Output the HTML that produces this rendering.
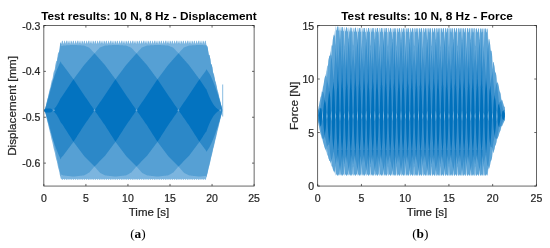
<!DOCTYPE html>
<html><head><meta charset="utf-8"><title>Test results</title>
<style>
html,body{margin:0;padding:0;background:#fff;}
svg{display:block;}
svg text{font-family:"Liberation Sans",Arial,Helvetica,sans-serif;}
svg text.t{stroke:#262626;stroke-width:0.22px;}
svg text.cap{font-family:"Liberation Serif","DejaVu Serif",serif;}
</style></head>
<body>
<svg width="550" height="248" viewBox="0 0 550 248">
<rect width="550" height="248" fill="#fff"/>
<g id="plot-left">
<path fill="#7cb5df" d="M44.8,110.3 45.3,108.15 45.8,106.2 46.3,104.02 46.8,101.72 47.3,99.57 47.8,97.88 48.3,95.9 48.8,93.14 49.3,90.99 49.8,89.05 50.3,87.76 50.8,84.8 51.3,82.41 51.8,80.27 52.3,79.44 52.8,77.17 53.3,73.83 53.8,71.69 54.3,70.54 54.8,69.29 55.3,65.25 55.8,63.11 56.3,60.96 56.8,61.08 57.3,57.99 57.8,54.53 58.3,52.38 58.8,52.33 59.3,50.65 59.8,45.95 60.3,43.8 60.8,42.31 61.3,43.9 61.8,41.46 62.3,40.8 62.8,40.8 63.3,43.65 63.8,43.22 64.3,40.8 64.8,40.8 65.3,42.5 65.8,43.86 66.3,40.8 66.8,40.8 67.3,40.8 67.8,43.86 68.3,42.5 68.8,40.8 69.3,40.8 69.8,43.22 70.3,43.65 70.8,40.8 71.3,40.8 71.8,41.46 72.3,43.9 72.8,41.46 73.3,40.8 73.8,40.8 74.3,43.65 74.8,43.22 75.3,40.8 75.8,40.8 76.3,42.5 76.8,43.86 77.3,40.8 77.8,40.8 78.3,40.8 78.8,43.86 79.3,42.5 79.8,40.8 80.3,40.8 80.8,43.22 81.3,43.65 81.8,40.8 82.3,40.8 82.8,41.46 83.3,43.9 83.8,41.46 84.3,40.8 84.8,40.8 85.3,43.65 85.8,43.22 86.3,40.8 86.8,40.8 87.3,42.5 87.8,43.86 88.3,40.8 88.8,40.8 89.3,40.8 89.8,43.86 90.3,42.5 90.8,40.8 91.3,40.8 91.8,43.22 92.3,43.65 92.8,40.8 93.3,40.8 93.8,41.46 94.3,43.9 94.8,41.46 95.3,40.8 95.8,40.8 96.3,43.65 96.8,43.22 97.3,40.8 97.8,40.8 98.3,42.5 98.8,43.86 99.3,40.8 99.8,40.8 100.3,40.8 100.8,43.86 101.3,42.5 101.8,40.8 102.3,40.8 102.8,43.22 103.3,43.65 103.8,40.8 104.3,40.8 104.8,41.46 105.3,43.9 105.8,41.46 106.3,40.8 106.8,40.8 107.3,43.65 107.8,43.22 108.3,40.8 108.8,40.8 109.3,42.5 109.8,43.86 110.3,40.8 110.8,40.8 111.3,40.8 111.8,43.86 112.3,42.5 112.8,40.8 113.3,40.8 113.8,43.22 114.3,43.65 114.8,40.8 115.3,40.8 115.8,41.46 116.3,43.9 116.8,41.46 117.3,40.8 117.8,40.8 118.3,43.65 118.8,43.22 119.3,40.8 119.8,40.8 120.3,42.5 120.8,43.86 121.3,40.8 121.8,40.8 122.3,40.8 122.8,43.86 123.3,42.5 123.8,40.8 124.3,40.8 124.8,43.22 125.3,43.65 125.8,40.8 126.3,40.8 126.8,41.46 127.3,43.9 127.8,41.46 128.3,40.8 128.8,40.8 129.3,43.65 129.8,43.22 130.3,40.8 130.8,40.8 131.3,42.5 131.8,43.86 132.3,40.8 132.8,40.8 133.3,40.8 133.8,43.86 134.3,42.5 134.8,40.8 135.3,40.8 135.8,43.22 136.3,43.65 136.8,40.8 137.3,40.8 137.8,41.46 138.3,43.9 138.8,41.46 139.3,40.8 139.8,40.8 140.3,43.65 140.8,43.22 141.3,40.8 141.8,40.8 142.3,42.5 142.8,43.86 143.3,40.8 143.8,40.8 144.3,40.8 144.8,43.86 145.3,42.5 145.8,40.8 146.3,40.8 146.8,43.22 147.3,43.65 147.8,40.8 148.3,40.8 148.8,41.46 149.3,43.9 149.8,41.46 150.3,40.8 150.8,40.8 151.3,43.65 151.8,43.22 152.3,40.8 152.8,40.8 153.3,42.5 153.8,43.86 154.3,40.8 154.8,40.8 155.3,40.8 155.8,43.86 156.3,42.5 156.8,40.8 157.3,40.8 157.8,43.22 158.3,43.65 158.8,40.8 159.3,40.8 159.8,41.46 160.3,43.9 160.8,41.46 161.3,40.8 161.8,40.8 162.3,43.65 162.8,43.22 163.3,40.8 163.8,40.8 164.3,42.5 164.8,43.86 165.3,40.8 165.8,40.8 166.3,40.8 166.8,43.86 167.3,42.5 167.8,40.8 168.3,40.8 168.8,43.22 169.3,43.65 169.8,40.8 170.3,40.8 170.8,41.46 171.3,43.9 171.8,41.46 172.3,40.8 172.8,40.8 173.3,43.65 173.8,43.22 174.3,40.8 174.8,40.8 175.3,42.5 175.8,43.86 176.3,40.8 176.8,40.8 177.3,40.8 177.8,43.86 178.3,42.5 178.8,40.8 179.3,40.8 179.8,43.22 180.3,43.65 180.8,40.8 181.3,40.8 181.8,41.46 182.3,43.9 182.8,41.46 183.3,40.8 183.8,40.8 184.3,43.65 184.8,43.22 185.3,40.8 185.8,40.8 186.3,42.5 186.8,43.86 187.3,40.8 187.8,40.8 188.3,40.8 188.8,43.86 189.3,42.5 189.8,40.8 190.3,40.8 190.8,43.22 191.3,43.65 191.8,40.8 192.3,40.8 192.8,41.46 193.3,43.9 193.8,41.46 194.3,40.8 194.8,40.8 195.3,43.65 195.8,43.22 196.3,40.8 196.8,40.8 197.3,42.5 197.8,43.86 198.3,40.8 198.8,40.8 199.3,40.8 199.8,43.86 200.3,42.5 200.8,40.8 201.3,40.8 201.8,43.22 202.3,43.65 202.8,40.8 203.3,40.8 203.8,41.46 204.3,43.9 204.8,41.46 205.3,40.8 205.8,40.8 206.3,44.86 206.8,46.47 207.3,46.28 207.8,48.38 208.3,51.95 208.8,55.13 209.3,54.7 209.8,56.81 210.3,58.91 210.8,63.19 211.3,64.28 211.8,65.23 212.3,67.34 212.8,70.86 213.3,73.14 213.8,73.65 214.3,75.76 214.8,78.17 215.3,81.33 215.8,82.35 216.3,84.18 216.8,86.29 217.3,89.3 217.8,91.19 218.3,92.61 218.8,94.72 219.3,97.15 219.8,99.43 220.3,101.03 220.8,103.14 221.3,105.25 221.8,107.48 222.3,109.48 222.3,111.14 221.8,113.21 221.3,115.35 220.8,117.46 220.3,119.57 219.8,121.51 219.3,123.67 218.8,125.88 218.3,127.99 217.8,129.87 217.3,131.91 216.8,134.31 216.3,136.42 215.8,138.44 215.3,140.19 214.8,142.63 214.3,144.84 213.8,146.95 213.3,148.54 212.8,150.7 212.3,153.26 211.8,155.37 211.3,157.1 210.8,158.88 210.3,161.69 209.8,163.79 209.3,165.9 208.8,167.19 208.3,169.64 207.8,172.22 207.3,174.32 206.8,175.69 206.3,177.63 205.8,179.8 205.3,179.8 204.8,179.59 204.3,178.8 203.8,179.59 203.3,179.8 202.8,179.8 202.3,178.88 201.8,179.02 201.3,179.8 200.8,179.8 200.3,179.25 199.8,178.81 199.3,179.8 198.8,179.8 198.3,179.8 197.8,178.81 197.3,179.25 196.8,179.8 196.3,179.8 195.8,179.02 195.3,178.88 194.8,179.8 194.3,179.8 193.8,179.59 193.3,178.8 192.8,179.59 192.3,179.8 191.8,179.8 191.3,178.88 190.8,179.02 190.3,179.8 189.8,179.8 189.3,179.25 188.8,178.81 188.3,179.8 187.8,179.8 187.3,179.8 186.8,178.81 186.3,179.25 185.8,179.8 185.3,179.8 184.8,179.02 184.3,178.88 183.8,179.8 183.3,179.8 182.8,179.59 182.3,178.8 181.8,179.59 181.3,179.8 180.8,179.8 180.3,178.88 179.8,179.02 179.3,179.8 178.8,179.8 178.3,179.25 177.8,178.81 177.3,179.8 176.8,179.8 176.3,179.8 175.8,178.81 175.3,179.25 174.8,179.8 174.3,179.8 173.8,179.02 173.3,178.88 172.8,179.8 172.3,179.8 171.8,179.59 171.3,178.8 170.8,179.59 170.3,179.8 169.8,179.8 169.3,178.88 168.8,179.02 168.3,179.8 167.8,179.8 167.3,179.25 166.8,178.81 166.3,179.8 165.8,179.8 165.3,179.8 164.8,178.81 164.3,179.25 163.8,179.8 163.3,179.8 162.8,179.02 162.3,178.88 161.8,179.8 161.3,179.8 160.8,179.59 160.3,178.8 159.8,179.59 159.3,179.8 158.8,179.8 158.3,178.88 157.8,179.02 157.3,179.8 156.8,179.8 156.3,179.25 155.8,178.81 155.3,179.8 154.8,179.8 154.3,179.8 153.8,178.81 153.3,179.25 152.8,179.8 152.3,179.8 151.8,179.02 151.3,178.88 150.8,179.8 150.3,179.8 149.8,179.59 149.3,178.8 148.8,179.59 148.3,179.8 147.8,179.8 147.3,178.88 146.8,179.02 146.3,179.8 145.8,179.8 145.3,179.25 144.8,178.81 144.3,179.8 143.8,179.8 143.3,179.8 142.8,178.81 142.3,179.25 141.8,179.8 141.3,179.8 140.8,179.02 140.3,178.88 139.8,179.8 139.3,179.8 138.8,179.59 138.3,178.8 137.8,179.59 137.3,179.8 136.8,179.8 136.3,178.88 135.8,179.02 135.3,179.8 134.8,179.8 134.3,179.25 133.8,178.81 133.3,179.8 132.8,179.8 132.3,179.8 131.8,178.81 131.3,179.25 130.8,179.8 130.3,179.8 129.8,179.02 129.3,178.88 128.8,179.8 128.3,179.8 127.8,179.59 127.3,178.8 126.8,179.59 126.3,179.8 125.8,179.8 125.3,178.88 124.8,179.02 124.3,179.8 123.8,179.8 123.3,179.25 122.8,178.81 122.3,179.8 121.8,179.8 121.3,179.8 120.8,178.81 120.3,179.25 119.8,179.8 119.3,179.8 118.8,179.02 118.3,178.88 117.8,179.8 117.3,179.8 116.8,179.59 116.3,178.8 115.8,179.59 115.3,179.8 114.8,179.8 114.3,178.88 113.8,179.02 113.3,179.8 112.8,179.8 112.3,179.25 111.8,178.81 111.3,179.8 110.8,179.8 110.3,179.8 109.8,178.81 109.3,179.25 108.8,179.8 108.3,179.8 107.8,179.02 107.3,178.88 106.8,179.8 106.3,179.8 105.8,179.59 105.3,178.8 104.8,179.59 104.3,179.8 103.8,179.8 103.3,178.88 102.8,179.02 102.3,179.8 101.8,179.8 101.3,179.25 100.8,178.81 100.3,179.8 99.8,179.8 99.3,179.8 98.8,178.81 98.3,179.25 97.8,179.8 97.3,179.8 96.8,179.02 96.3,178.88 95.8,179.8 95.3,179.8 94.8,179.59 94.3,178.8 93.8,179.59 93.3,179.8 92.8,179.8 92.3,178.88 91.8,179.02 91.3,179.8 90.8,179.8 90.3,179.25 89.8,178.81 89.3,179.8 88.8,179.8 88.3,179.8 87.8,178.81 87.3,179.25 86.8,179.8 86.3,179.8 85.8,179.02 85.3,178.88 84.8,179.8 84.3,179.8 83.8,179.59 83.3,178.8 82.8,179.59 82.3,179.8 81.8,179.8 81.3,178.88 80.8,179.02 80.3,179.8 79.8,179.8 79.3,179.25 78.8,178.81 78.3,179.8 77.8,179.8 77.3,179.8 76.8,178.81 76.3,179.25 75.8,179.8 75.3,179.8 74.8,179.02 74.3,178.88 73.8,179.8 73.3,179.8 72.8,179.59 72.3,178.8 71.8,179.59 71.3,179.8 70.8,179.8 70.3,178.88 69.8,179.02 69.3,179.8 68.8,179.8 68.3,179.25 67.8,178.81 67.3,179.8 66.8,179.8 66.3,179.8 65.8,178.81 65.3,179.25 64.8,179.8 64.3,179.8 63.8,179.02 63.3,178.88 62.8,179.8 62.3,179.8 61.8,179.59 61.3,178.8 60.8,178.73 60.3,176.8 59.8,174.65 59.3,171.68 58.8,169.69 58.3,168.22 57.8,166.07 57.3,163.5 56.8,161.05 56.3,159.64 55.8,157.49 55.3,155.35 54.8,152.59 54.3,150.73 53.8,148.91 53.3,146.77 52.8,144.24 52.3,142.05 51.8,140.33 51.3,138.19 50.8,135.96 50.3,133.56 49.8,131.69 49.3,129.61 48.8,127.46 48.3,125.12 47.8,123.03 47.3,121.03 46.8,118.88 46.3,116.68 45.8,114.53 45.3,112.45 44.8,110.3Z"/>
<path fill="#56a0d4" d="M44.8,110.3 45.3,108.26 45.8,106.23 46.3,104.22 46.8,102.21 47.3,100.23 47.8,98.33 48.3,96.45 48.8,94.61 49.3,92.81 49.8,91.04 50.3,89.31 50.8,87.61 51.3,85.94 51.8,84.31 52.3,82.72 52.8,80.83 53.3,78.69 53.8,76.51 54.3,74.3 54.8,72.06 55.3,69.78 55.8,67.47 56.3,65.12 56.8,62.74 57.3,60.32 57.8,57.87 58.3,55.67 58.8,53.47 59.3,51.27 59.8,49.04 60.3,43.8 60.8,42.31 61.3,46.21 61.8,46.02 62.3,45.83 62.8,45.64 63.3,45.54 63.8,45.51 64.3,45.48 64.8,45.45 65.3,45.41 65.8,45.38 66.3,45.35 66.8,45.32 67.3,45.29 67.8,45.26 68.3,45.22 68.8,45.19 69.3,45.16 69.8,45.13 70.3,45.1 70.8,45.07 71.3,45.04 71.8,45 72.3,44.97 72.8,44.94 73.3,44.91 73.8,44.91 74.3,44.95 74.8,44.98 75.3,45.01 75.8,45.04 76.3,45.07 76.8,45.1 77.3,45.14 77.8,45.17 78.3,45.2 78.8,45.23 79.3,45.26 79.8,45.29 80.3,45.33 80.8,45.36 81.3,45.39 81.8,45.42 82.3,45.45 82.8,45.48 83.3,45.52 83.8,45.55 84.3,45.68 84.8,45.87 85.3,46.06 85.8,46.25 86.3,46.44 86.8,46.64 87.3,46.83 87.8,47.02 88.3,47.21 88.8,47.41 89.3,47.68 89.8,48.23 90.3,48.77 90.8,49.31 91.3,49.85 91.8,50.4 92.3,50.94 92.8,51.48 93.3,52.03 93.8,52.57 94.3,53.11 94.8,53 95.3,52.46 95.8,51.92 96.3,51.37 96.8,50.83 97.3,50.29 97.8,49.75 98.3,49.2 98.8,48.66 99.3,48.12 99.8,47.57 100.3,47.37 100.8,47.18 101.3,46.98 101.8,46.79 102.3,46.6 102.8,46.41 103.3,46.21 103.8,46.02 104.3,45.83 104.8,45.64 105.3,45.54 105.8,45.51 106.3,45.48 106.8,45.45 107.3,45.41 107.8,45.38 108.3,45.35 108.8,45.32 109.3,45.29 109.8,45.26 110.3,45.22 110.8,45.19 111.3,45.16 111.8,45.13 112.3,45.1 112.8,45.07 113.3,45.04 113.8,45 114.3,44.97 114.8,44.94 115.3,44.91 115.8,44.91 116.3,44.95 116.8,44.98 117.3,45.01 117.8,45.04 118.3,45.07 118.8,45.1 119.3,45.14 119.8,45.17 120.3,45.2 120.8,45.23 121.3,45.26 121.8,45.29 122.3,45.33 122.8,45.36 123.3,45.39 123.8,45.42 124.3,45.45 124.8,45.48 125.3,45.52 125.8,45.55 126.3,45.68 126.8,45.87 127.3,46.06 127.8,46.25 128.3,46.44 128.8,46.64 129.3,46.83 129.8,47.02 130.3,47.21 130.8,47.41 131.3,47.68 131.8,48.23 132.3,48.77 132.8,49.31 133.3,49.85 133.8,50.4 134.3,50.94 134.8,51.48 135.3,52.03 135.8,52.57 136.3,53.11 136.8,53 137.3,52.46 137.8,51.92 138.3,51.37 138.8,50.83 139.3,50.29 139.8,49.75 140.3,49.2 140.8,48.66 141.3,48.12 141.8,47.57 142.3,47.37 142.8,47.18 143.3,46.98 143.8,46.79 144.3,46.6 144.8,46.41 145.3,46.21 145.8,46.02 146.3,45.83 146.8,45.64 147.3,45.54 147.8,45.51 148.3,45.48 148.8,45.45 149.3,45.41 149.8,45.38 150.3,45.35 150.8,45.32 151.3,45.29 151.8,45.26 152.3,45.22 152.8,45.19 153.3,45.16 153.8,45.13 154.3,45.1 154.8,45.07 155.3,45.04 155.8,45 156.3,44.97 156.8,44.94 157.3,44.91 157.8,44.91 158.3,44.95 158.8,44.98 159.3,45.01 159.8,45.04 160.3,45.07 160.8,45.1 161.3,45.14 161.8,45.17 162.3,45.2 162.8,45.23 163.3,45.26 163.8,45.29 164.3,45.33 164.8,45.36 165.3,45.39 165.8,45.42 166.3,45.45 166.8,45.48 167.3,45.52 167.8,45.55 168.3,45.68 168.8,45.87 169.3,46.06 169.8,46.25 170.3,46.44 170.8,46.64 171.3,46.83 171.8,47.02 172.3,47.21 172.8,47.41 173.3,47.68 173.8,48.23 174.3,48.77 174.8,49.31 175.3,49.85 175.8,50.4 176.3,50.94 176.8,51.48 177.3,52.03 177.8,52.57 178.3,53.11 178.8,53 179.3,52.46 179.8,51.92 180.3,51.37 180.8,50.83 181.3,50.29 181.8,49.75 182.3,49.2 182.8,48.66 183.3,48.12 183.8,47.57 184.3,47.37 184.8,47.18 185.3,46.98 185.8,46.79 186.3,46.6 186.8,46.41 187.3,46.21 187.8,46.02 188.3,45.83 188.8,45.64 189.3,45.54 189.8,45.51 190.3,45.48 190.8,45.45 191.3,45.41 191.8,45.38 192.3,45.35 192.8,45.32 193.3,45.29 193.8,45.26 194.3,45.22 194.8,45.19 195.3,45.16 195.8,45.13 196.3,45.1 196.8,45.07 197.3,45.04 197.8,45 198.3,44.97 198.8,44.94 199.3,44.91 199.8,44.91 200.3,44.95 200.8,44.98 201.3,45.01 201.8,45.04 202.3,45.07 202.8,45.1 203.3,45.14 203.8,45.17 204.3,45.2 204.8,45.23 205.3,45.26 205.8,45.29 206.3,44.86 206.8,46.47 207.3,46.28 207.8,48.38 208.3,51.95 208.8,55.13 209.3,54.7 209.8,56.81 210.3,58.91 210.8,63.19 211.3,64.28 211.8,65.23 212.3,67.34 212.8,71.31 213.3,73.44 213.8,75.54 214.3,77.64 214.8,79.73 215.3,81.84 215.8,84.04 216.3,86.22 216.8,88.35 217.3,90.46 217.8,92.53 218.3,94.56 218.8,96.56 219.3,98.53 219.8,100.46 220.3,102.36 220.8,104.15 221.3,105.92 221.8,107.72 222.3,109.56 222.3,111.04 221.8,112.85 221.3,114.63 220.8,116.37 220.3,118.13 219.8,120.01 219.3,121.93 218.8,123.88 218.3,125.87 217.8,127.89 217.3,129.96 216.8,132.06 216.3,134.19 215.8,136.36 215.3,138.57 214.8,140.7 214.3,142.81 213.8,144.94 213.3,147.08 212.8,149.24 212.3,151.42 211.8,153.62 211.3,155.83 210.8,158.05 210.3,160.3 209.8,162.49 209.3,164.6 208.8,166.71 208.3,168.82 207.8,170.93 207.3,173.05 206.8,175.17 206.3,177.3 205.8,175.87 205.3,175.93 204.8,175.99 204.3,176.04 203.8,176.1 203.3,176.16 202.8,176.22 202.3,176.28 201.8,176.34 201.3,176.4 200.8,176.46 200.3,176.51 199.8,176.57 199.3,176.58 198.8,176.53 198.3,176.47 197.8,176.41 197.3,176.35 196.8,176.29 196.3,176.23 195.8,176.17 195.3,176.11 194.8,176.06 194.3,176 193.8,175.94 193.3,175.88 192.8,175.82 192.3,175.76 191.8,175.7 191.3,175.65 190.8,175.59 190.3,175.53 189.8,175.47 189.3,175.41 188.8,175.27 188.3,175 187.8,174.74 187.3,174.48 186.8,174.21 186.3,173.95 185.8,173.68 185.3,173.42 184.8,173.15 184.3,172.89 183.8,172.61 183.3,172.03 182.8,171.45 182.3,170.87 181.8,170.29 181.3,169.71 180.8,169.14 180.3,168.56 179.8,167.98 179.3,167.4 178.8,166.82 178.3,166.7 177.8,167.28 177.3,167.86 176.8,168.44 176.3,169.02 175.8,169.6 175.3,170.18 174.8,170.76 174.3,171.34 173.8,171.92 173.3,172.5 172.8,172.84 172.3,173.1 171.8,173.36 171.3,173.63 170.8,173.89 170.3,174.16 169.8,174.42 169.3,174.69 168.8,174.95 168.3,175.22 167.8,175.4 167.3,175.46 166.8,175.52 166.3,175.57 165.8,175.63 165.3,175.69 164.8,175.75 164.3,175.81 163.8,175.87 163.3,175.93 162.8,175.99 162.3,176.04 161.8,176.1 161.3,176.16 160.8,176.22 160.3,176.28 159.8,176.34 159.3,176.4 158.8,176.46 158.3,176.51 157.8,176.57 157.3,176.58 156.8,176.53 156.3,176.47 155.8,176.41 155.3,176.35 154.8,176.29 154.3,176.23 153.8,176.17 153.3,176.11 152.8,176.06 152.3,176 151.8,175.94 151.3,175.88 150.8,175.82 150.3,175.76 149.8,175.7 149.3,175.65 148.8,175.59 148.3,175.53 147.8,175.47 147.3,175.41 146.8,175.27 146.3,175 145.8,174.74 145.3,174.48 144.8,174.21 144.3,173.95 143.8,173.68 143.3,173.42 142.8,173.15 142.3,172.89 141.8,172.61 141.3,172.03 140.8,171.45 140.3,170.87 139.8,170.29 139.3,169.71 138.8,169.14 138.3,168.56 137.8,167.98 137.3,167.4 136.8,166.82 136.3,166.7 135.8,167.28 135.3,167.86 134.8,168.44 134.3,169.02 133.8,169.6 133.3,170.18 132.8,170.76 132.3,171.34 131.8,171.92 131.3,172.5 130.8,172.84 130.3,173.1 129.8,173.36 129.3,173.63 128.8,173.89 128.3,174.16 127.8,174.42 127.3,174.69 126.8,174.95 126.3,175.22 125.8,175.4 125.3,175.46 124.8,175.52 124.3,175.57 123.8,175.63 123.3,175.69 122.8,175.75 122.3,175.81 121.8,175.87 121.3,175.93 120.8,175.99 120.3,176.04 119.8,176.1 119.3,176.16 118.8,176.22 118.3,176.28 117.8,176.34 117.3,176.4 116.8,176.46 116.3,176.51 115.8,176.57 115.3,176.58 114.8,176.53 114.3,176.47 113.8,176.41 113.3,176.35 112.8,176.29 112.3,176.23 111.8,176.17 111.3,176.11 110.8,176.06 110.3,176 109.8,175.94 109.3,175.88 108.8,175.82 108.3,175.76 107.8,175.7 107.3,175.65 106.8,175.59 106.3,175.53 105.8,175.47 105.3,175.41 104.8,175.27 104.3,175 103.8,174.74 103.3,174.48 102.8,174.21 102.3,173.95 101.8,173.68 101.3,173.42 100.8,173.15 100.3,172.89 99.8,172.61 99.3,172.03 98.8,171.45 98.3,170.87 97.8,170.29 97.3,169.71 96.8,169.14 96.3,168.56 95.8,167.98 95.3,167.4 94.8,166.82 94.3,166.7 93.8,167.28 93.3,167.86 92.8,168.44 92.3,169.02 91.8,169.6 91.3,170.18 90.8,170.76 90.3,171.34 89.8,171.92 89.3,172.5 88.8,172.84 88.3,173.1 87.8,173.36 87.3,173.63 86.8,173.89 86.3,174.16 85.8,174.42 85.3,174.69 84.8,174.95 84.3,175.22 83.8,175.4 83.3,175.46 82.8,175.52 82.3,175.57 81.8,175.63 81.3,175.69 80.8,175.75 80.3,175.81 79.8,175.87 79.3,175.93 78.8,175.99 78.3,176.04 77.8,176.1 77.3,176.16 76.8,176.22 76.3,176.28 75.8,176.34 75.3,176.4 74.8,176.46 74.3,176.51 73.8,176.57 73.3,176.58 72.8,176.53 72.3,176.47 71.8,176.41 71.3,176.35 70.8,176.29 70.3,176.23 69.8,176.17 69.3,176.11 68.8,176.06 68.3,176 67.8,175.94 67.3,175.88 66.8,175.82 66.3,175.76 65.8,175.7 65.3,175.65 64.8,175.59 64.3,175.53 63.8,175.47 63.3,175.41 62.8,175.27 62.3,175 61.8,174.74 61.3,174.48 60.8,176.05 60.3,173.73 59.8,171.43 59.3,169.15 58.8,166.88 58.3,164.63 57.8,162.39 57.3,159.92 56.8,157.49 56.3,155.09 55.8,152.73 55.3,150.41 54.8,148.13 54.3,145.89 53.8,143.68 53.3,141.51 52.8,139.37 52.3,137.5 51.8,135.95 51.3,134.36 50.8,132.73 50.3,131.07 49.8,129.36 49.3,127.63 48.8,125.85 48.3,124.04 47.8,122.19 47.3,120.3 46.8,118.34 46.3,116.36 45.8,114.36 45.3,112.34 44.8,110.3Z"/>
<path fill="#2c88c8" d="M44.8,110.3 45.3,108.73 45.8,107.12 46.3,105.48 46.8,103.8 47.3,102.08 47.8,100.33 48.3,98.54 48.8,96.72 49.3,94.86 49.8,92.96 50.3,91.03 50.8,89.06 51.3,87.05 51.8,85.01 52.3,82.93 52.8,81.17 53.3,79.65 53.8,78.18 54.3,76.74 54.8,75.33 55.3,73.96 55.8,72.63 56.3,71.34 56.8,70.08 57.3,68.85 57.8,67.66 58.3,66.51 58.8,65.4 59.3,64.32 59.8,63.28 60.3,62.27 60.8,61.3 61.3,63.23 61.8,63.8 62.3,64.36 62.8,64.92 63.3,65.55 63.8,66.23 64.3,66.9 64.8,67.57 65.3,68.25 65.8,68.92 66.3,69.59 66.8,70.27 67.3,70.94 67.8,71.61 68.3,72.29 68.8,72.96 69.3,73.63 69.8,74.31 70.3,74.98 70.8,75.65 71.3,76.33 71.8,77 72.3,77.67 72.8,78.35 73.3,79.02 73.8,78.89 74.3,78.21 74.8,77.54 75.3,76.87 75.8,76.19 76.3,75.52 76.8,74.85 77.3,74.17 77.8,73.5 78.3,72.83 78.8,72.15 79.3,71.48 79.8,70.81 80.3,70.13 80.8,69.46 81.3,68.78 81.8,68.11 82.3,67.44 82.8,66.76 83.3,66.09 83.8,65.42 84.3,64.81 84.8,64.25 85.3,63.68 85.8,63.12 86.3,62.56 86.8,62 87.3,61.43 87.8,60.87 88.3,60.31 88.8,59.74 89.3,59.18 89.8,58.62 90.3,58.06 90.8,57.49 91.3,56.93 91.8,56.37 92.3,55.81 92.8,55.24 93.3,54.68 93.8,54.12 94.3,53.55 94.8,53.67 95.3,54.23 95.8,54.79 96.3,55.35 96.8,55.92 97.3,56.48 97.8,57.04 98.3,57.61 98.8,58.17 99.3,58.73 99.8,59.29 100.3,59.86 100.8,60.42 101.3,60.98 101.8,61.55 102.3,62.11 102.8,62.67 103.3,63.23 103.8,63.8 104.3,64.36 104.8,64.92 105.3,65.55 105.8,66.23 106.3,66.9 106.8,67.57 107.3,68.25 107.8,68.92 108.3,69.59 108.8,70.27 109.3,70.94 109.8,71.61 110.3,72.29 110.8,72.96 111.3,73.63 111.8,74.31 112.3,74.98 112.8,75.65 113.3,76.33 113.8,77 114.3,77.67 114.8,78.35 115.3,79.02 115.8,78.89 116.3,78.21 116.8,77.54 117.3,76.87 117.8,76.19 118.3,75.52 118.8,74.85 119.3,74.17 119.8,73.5 120.3,72.83 120.8,72.15 121.3,71.48 121.8,70.81 122.3,70.13 122.8,69.46 123.3,68.78 123.8,68.11 124.3,67.44 124.8,66.76 125.3,66.09 125.8,65.42 126.3,64.81 126.8,64.25 127.3,63.68 127.8,63.12 128.3,62.56 128.8,62 129.3,61.43 129.8,60.87 130.3,60.31 130.8,59.74 131.3,59.18 131.8,58.62 132.3,58.06 132.8,57.49 133.3,56.93 133.8,56.37 134.3,55.81 134.8,55.24 135.3,54.68 135.8,54.12 136.3,53.55 136.8,53.67 137.3,54.23 137.8,54.79 138.3,55.35 138.8,55.92 139.3,56.48 139.8,57.04 140.3,57.61 140.8,58.17 141.3,58.73 141.8,59.29 142.3,59.86 142.8,60.42 143.3,60.98 143.8,61.55 144.3,62.11 144.8,62.67 145.3,63.23 145.8,63.8 146.3,64.36 146.8,64.92 147.3,65.55 147.8,66.23 148.3,66.9 148.8,67.57 149.3,68.25 149.8,68.92 150.3,69.59 150.8,70.27 151.3,70.94 151.8,71.61 152.3,72.29 152.8,72.96 153.3,73.63 153.8,74.31 154.3,74.98 154.8,75.65 155.3,76.33 155.8,77 156.3,77.67 156.8,78.35 157.3,79.02 157.8,78.89 158.3,78.21 158.8,77.54 159.3,76.87 159.8,76.19 160.3,75.52 160.8,74.85 161.3,74.17 161.8,73.5 162.3,72.83 162.8,72.15 163.3,71.48 163.8,70.81 164.3,70.13 164.8,69.46 165.3,68.78 165.8,68.11 166.3,67.44 166.8,66.76 167.3,66.09 167.8,65.42 168.3,64.81 168.8,64.25 169.3,63.68 169.8,63.12 170.3,62.56 170.8,62 171.3,61.43 171.8,60.87 172.3,60.31 172.8,59.74 173.3,59.18 173.8,58.62 174.3,58.06 174.8,57.49 175.3,56.93 175.8,56.37 176.3,55.81 176.8,55.24 177.3,54.68 177.8,54.12 178.3,53.55 178.8,53.67 179.3,54.23 179.8,54.79 180.3,55.35 180.8,55.92 181.3,56.48 181.8,57.04 182.3,57.61 182.8,58.17 183.3,58.73 183.8,59.29 184.3,59.86 184.8,60.42 185.3,60.98 185.8,61.55 186.3,62.11 186.8,62.67 187.3,63.23 187.8,63.8 188.3,64.36 188.8,64.92 189.3,65.55 189.8,66.23 190.3,66.9 190.8,67.57 191.3,68.25 191.8,68.92 192.3,69.59 192.8,70.27 193.3,70.94 193.8,71.61 194.3,72.29 194.8,72.96 195.3,73.63 195.8,74.31 196.3,74.98 196.8,75.65 197.3,76.33 197.8,77 198.3,77.67 198.8,78.35 199.3,79.02 199.8,78.89 200.3,78.21 200.8,77.54 201.3,76.87 201.8,76.19 202.3,75.52 202.8,74.85 203.3,74.17 203.8,73.5 204.3,72.83 204.8,72.15 205.3,71.48 205.8,70.81 206.3,69.22 206.8,69.82 207.3,70.46 207.8,71.15 208.3,71.88 208.8,72.65 209.3,73.46 209.8,74.31 210.3,75.26 210.8,76.28 211.3,77.34 211.8,78.43 212.3,79.56 212.8,80.72 213.3,81.92 213.8,83.15 214.3,84.42 214.8,85.72 215.3,87.06 215.8,88.44 216.3,89.85 216.8,91.3 217.3,92.78 217.8,94.3 218.3,95.85 218.8,97.44 219.3,99.06 219.8,100.72 220.3,102.42 220.8,104.22 221.3,106.05 221.8,107.85 222.3,109.61 222.3,110.99 221.8,112.72 221.3,114.49 220.8,116.3 220.3,118.07 219.8,119.75 219.3,121.4 218.8,123.02 218.3,124.6 217.8,126.16 217.3,127.68 216.8,129.17 216.3,130.62 215.8,132.05 215.3,133.44 214.8,134.8 214.3,136.13 213.8,137.43 213.3,138.7 212.8,139.93 212.3,141.13 211.8,142.3 211.3,143.44 210.8,144.54 210.3,145.62 209.8,146.61 209.3,147.48 208.8,148.31 208.3,149.1 207.8,149.84 207.3,150.55 206.8,151.21 206.3,151.83 205.8,150.24 205.3,149.57 204.8,148.9 204.3,148.23 203.8,147.56 203.3,146.89 202.8,146.22 202.3,145.55 201.8,144.89 201.3,144.22 200.8,143.55 200.3,142.88 199.8,142.21 199.3,142.08 198.8,142.75 198.3,143.41 197.8,144.08 197.3,144.75 196.8,145.42 196.3,146.09 195.8,146.76 195.3,147.43 194.8,148.1 194.3,148.76 193.8,149.43 193.3,150.1 192.8,150.77 192.3,151.44 191.8,152.11 191.3,152.78 190.8,153.45 190.3,154.11 189.8,154.78 189.3,155.45 188.8,156.05 188.3,156.56 187.8,157.07 187.3,157.57 186.8,158.08 186.3,158.58 185.8,159.09 185.3,159.59 184.8,160.1 184.3,160.61 183.8,161.11 183.3,161.62 182.8,162.12 182.3,162.63 181.8,163.13 181.3,163.64 180.8,164.14 180.3,164.65 179.8,165.16 179.3,165.66 178.8,166.17 178.3,166.27 177.8,165.76 177.3,165.26 176.8,164.75 176.3,164.25 175.8,163.74 175.3,163.23 174.8,162.73 174.3,162.22 173.8,161.72 173.3,161.21 172.8,160.71 172.3,160.2 171.8,159.7 171.3,159.19 170.8,158.68 170.3,158.18 169.8,157.67 169.3,157.17 168.8,156.66 168.3,156.16 167.8,155.59 167.3,154.92 166.8,154.25 166.3,153.58 165.8,152.91 165.3,152.24 164.8,151.57 164.3,150.9 163.8,150.24 163.3,149.57 162.8,148.9 162.3,148.23 161.8,147.56 161.3,146.89 160.8,146.22 160.3,145.55 159.8,144.89 159.3,144.22 158.8,143.55 158.3,142.88 157.8,142.21 157.3,142.08 156.8,142.75 156.3,143.41 155.8,144.08 155.3,144.75 154.8,145.42 154.3,146.09 153.8,146.76 153.3,147.43 152.8,148.1 152.3,148.76 151.8,149.43 151.3,150.1 150.8,150.77 150.3,151.44 149.8,152.11 149.3,152.78 148.8,153.45 148.3,154.11 147.8,154.78 147.3,155.45 146.8,156.05 146.3,156.56 145.8,157.07 145.3,157.57 144.8,158.08 144.3,158.58 143.8,159.09 143.3,159.59 142.8,160.1 142.3,160.61 141.8,161.11 141.3,161.62 140.8,162.12 140.3,162.63 139.8,163.13 139.3,163.64 138.8,164.14 138.3,164.65 137.8,165.16 137.3,165.66 136.8,166.17 136.3,166.27 135.8,165.76 135.3,165.26 134.8,164.75 134.3,164.25 133.8,163.74 133.3,163.23 132.8,162.73 132.3,162.22 131.8,161.72 131.3,161.21 130.8,160.71 130.3,160.2 129.8,159.7 129.3,159.19 128.8,158.68 128.3,158.18 127.8,157.67 127.3,157.17 126.8,156.66 126.3,156.16 125.8,155.59 125.3,154.92 124.8,154.25 124.3,153.58 123.8,152.91 123.3,152.24 122.8,151.57 122.3,150.9 121.8,150.24 121.3,149.57 120.8,148.9 120.3,148.23 119.8,147.56 119.3,146.89 118.8,146.22 118.3,145.55 117.8,144.89 117.3,144.22 116.8,143.55 116.3,142.88 115.8,142.21 115.3,142.08 114.8,142.75 114.3,143.41 113.8,144.08 113.3,144.75 112.8,145.42 112.3,146.09 111.8,146.76 111.3,147.43 110.8,148.1 110.3,148.76 109.8,149.43 109.3,150.1 108.8,150.77 108.3,151.44 107.8,152.11 107.3,152.78 106.8,153.45 106.3,154.11 105.8,154.78 105.3,155.45 104.8,156.05 104.3,156.56 103.8,157.07 103.3,157.57 102.8,158.08 102.3,158.58 101.8,159.09 101.3,159.59 100.8,160.1 100.3,160.61 99.8,161.11 99.3,161.62 98.8,162.12 98.3,162.63 97.8,163.13 97.3,163.64 96.8,164.14 96.3,164.65 95.8,165.16 95.3,165.66 94.8,166.17 94.3,166.27 93.8,165.76 93.3,165.26 92.8,164.75 92.3,164.25 91.8,163.74 91.3,163.23 90.8,162.73 90.3,162.22 89.8,161.72 89.3,161.21 88.8,160.71 88.3,160.2 87.8,159.7 87.3,159.19 86.8,158.68 86.3,158.18 85.8,157.67 85.3,157.17 84.8,156.66 84.3,156.16 83.8,155.59 83.3,154.92 82.8,154.25 82.3,153.58 81.8,152.91 81.3,152.24 80.8,151.57 80.3,150.9 79.8,150.24 79.3,149.57 78.8,148.9 78.3,148.23 77.8,147.56 77.3,146.89 76.8,146.22 76.3,145.55 75.8,144.89 75.3,144.22 74.8,143.55 74.3,142.88 73.8,142.21 73.3,142.08 72.8,142.75 72.3,143.41 71.8,144.08 71.3,144.75 70.8,145.42 70.3,146.09 69.8,146.76 69.3,147.43 68.8,148.1 68.3,148.76 67.8,149.43 67.3,150.1 66.8,150.77 66.3,151.44 65.8,152.11 65.3,152.78 64.8,153.45 64.3,154.11 63.8,154.78 63.3,155.45 62.8,156.05 62.3,156.56 61.8,157.07 61.3,157.57 60.8,159.45 60.3,158.42 59.8,157.36 59.3,156.26 58.8,155.13 58.3,153.97 57.8,152.77 57.3,151.55 56.8,150.29 56.3,148.99 55.8,147.67 55.3,146.31 54.8,144.92 54.3,143.5 53.8,142.05 53.3,140.56 52.8,139.04 52.3,137.29 51.8,135.26 51.3,133.27 50.8,131.31 50.3,129.38 49.8,127.48 49.3,125.62 48.8,123.78 48.3,121.99 47.8,120.22 47.3,118.48 46.8,116.78 46.3,115.11 45.8,113.48 45.3,111.87 44.8,110.3Z"/>
<path fill="#0373c0" d="M44.8,110.3 45.3,109.96 45.8,109.67 46.3,109.43 46.8,109.23 47.3,109.08 47.8,108.98 48.3,108.93 48.8,108.92 49.3,108.95 49.8,109.04 50.3,109.17 50.8,109.35 51.3,109.57 51.8,109.84 52.3,110.16 52.8,110.08 53.3,109.66 53.8,109.21 54.3,108.7 54.8,108.15 55.3,107.55 55.8,106.91 56.3,106.21 56.8,105.47 57.3,104.69 57.8,103.86 58.3,102.98 58.8,102.05 59.3,101.08 59.8,100.06 60.3,98.99 60.8,97.88 61.3,97.5 61.8,96.77 62.3,96.05 62.8,95.32 63.3,94.58 63.8,93.83 64.3,93.08 64.8,92.33 65.3,91.58 65.8,90.83 66.3,90.08 66.8,89.33 67.3,88.58 67.8,87.83 68.3,87.08 68.8,86.34 69.3,85.59 69.8,84.84 70.3,84.09 70.8,83.34 71.3,82.59 71.8,81.84 72.3,81.09 72.8,80.34 73.3,79.59 73.8,79.74 74.3,80.49 74.8,81.24 75.3,81.99 75.8,82.74 76.3,83.49 76.8,84.24 77.3,84.99 77.8,85.74 78.3,86.49 78.8,87.23 79.3,87.98 79.8,88.73 80.3,89.48 80.8,90.23 81.3,90.98 81.8,91.73 82.3,92.48 82.8,93.23 83.3,93.98 83.8,94.73 84.3,95.46 84.8,96.19 85.3,96.92 85.8,97.65 86.3,98.37 86.8,99.1 87.3,99.83 87.8,100.56 88.3,101.28 88.8,102.01 89.3,102.74 89.8,103.46 90.3,104.19 90.8,104.92 91.3,105.65 91.8,106.37 92.3,107.1 92.8,107.83 93.3,108.55 93.8,109.28 94.3,110.01 94.8,109.86 95.3,109.14 95.8,108.41 96.3,107.68 96.8,106.95 97.3,106.23 97.8,105.5 98.3,104.77 98.8,104.05 99.3,103.32 99.8,102.59 100.3,101.86 100.8,101.14 101.3,100.41 101.8,99.68 102.3,98.96 102.8,98.23 103.3,97.5 103.8,96.77 104.3,96.05 104.8,95.32 105.3,94.58 105.8,93.83 106.3,93.08 106.8,92.33 107.3,91.58 107.8,90.83 108.3,90.08 108.8,89.33 109.3,88.58 109.8,87.83 110.3,87.08 110.8,86.34 111.3,85.59 111.8,84.84 112.3,84.09 112.8,83.34 113.3,82.59 113.8,81.84 114.3,81.09 114.8,80.34 115.3,79.59 115.8,79.74 116.3,80.49 116.8,81.24 117.3,81.99 117.8,82.74 118.3,83.49 118.8,84.24 119.3,84.99 119.8,85.74 120.3,86.49 120.8,87.23 121.3,87.98 121.8,88.73 122.3,89.48 122.8,90.23 123.3,90.98 123.8,91.73 124.3,92.48 124.8,93.23 125.3,93.98 125.8,94.73 126.3,95.46 126.8,96.19 127.3,96.92 127.8,97.65 128.3,98.37 128.8,99.1 129.3,99.83 129.8,100.56 130.3,101.28 130.8,102.01 131.3,102.74 131.8,103.46 132.3,104.19 132.8,104.92 133.3,105.65 133.8,106.37 134.3,107.1 134.8,107.83 135.3,108.55 135.8,109.28 136.3,110.01 136.8,109.86 137.3,109.14 137.8,108.41 138.3,107.68 138.8,106.95 139.3,106.23 139.8,105.5 140.3,104.77 140.8,104.05 141.3,103.32 141.8,102.59 142.3,101.86 142.8,101.14 143.3,100.41 143.8,99.68 144.3,98.96 144.8,98.23 145.3,97.5 145.8,96.77 146.3,96.05 146.8,95.32 147.3,94.58 147.8,93.83 148.3,93.08 148.8,92.33 149.3,91.58 149.8,90.83 150.3,90.08 150.8,89.33 151.3,88.58 151.8,87.83 152.3,87.08 152.8,86.34 153.3,85.59 153.8,84.84 154.3,84.09 154.8,83.34 155.3,82.59 155.8,81.84 156.3,81.09 156.8,80.34 157.3,79.59 157.8,79.74 158.3,80.49 158.8,81.24 159.3,81.99 159.8,82.74 160.3,83.49 160.8,84.24 161.3,84.99 161.8,85.74 162.3,86.49 162.8,87.23 163.3,87.98 163.8,88.73 164.3,89.48 164.8,90.23 165.3,90.98 165.8,91.73 166.3,92.48 166.8,93.23 167.3,93.98 167.8,94.73 168.3,95.46 168.8,96.19 169.3,96.92 169.8,97.65 170.3,98.37 170.8,99.1 171.3,99.83 171.8,100.56 172.3,101.28 172.8,102.01 173.3,102.74 173.8,103.46 174.3,104.19 174.8,104.92 175.3,105.65 175.8,106.37 176.3,107.1 176.8,107.83 177.3,108.55 177.8,109.28 178.3,110.01 178.8,109.86 179.3,109.14 179.8,108.41 180.3,107.68 180.8,106.95 181.3,106.23 181.8,105.5 182.3,104.77 182.8,104.05 183.3,103.32 183.8,102.59 184.3,101.86 184.8,101.14 185.3,100.41 185.8,99.68 186.3,98.96 186.8,98.23 187.3,97.5 187.8,96.77 188.3,96.05 188.8,95.32 189.3,94.58 189.8,93.83 190.3,93.08 190.8,92.33 191.3,91.58 191.8,90.83 192.3,90.08 192.8,89.33 193.3,88.58 193.8,87.83 194.3,87.08 194.8,86.34 195.3,85.59 195.8,84.84 196.3,84.09 196.8,83.34 197.3,82.59 197.8,81.84 198.3,81.09 198.8,80.34 199.3,79.59 199.8,79.74 200.3,80.49 200.8,81.24 201.3,81.99 201.8,82.74 202.3,83.49 202.8,84.24 203.3,84.99 203.8,85.74 204.3,86.49 204.8,87.23 205.3,87.98 205.8,88.73 206.3,89.01 206.8,90.41 207.3,91.76 207.8,93.07 208.3,94.33 208.8,95.54 209.3,96.7 209.8,97.82 210.3,98.87 210.8,99.88 211.3,100.84 211.8,101.75 212.3,102.62 212.8,103.44 213.3,104.22 213.8,104.95 214.3,105.63 214.8,106.27 215.3,106.86 215.8,107.41 216.3,107.91 216.8,108.36 217.3,108.77 217.8,109.13 218.3,109.45 218.8,109.72 219.3,109.95 219.8,110.13 220.3,110.26 220.8,110.25 221.3,110.21 221.8,110.22 222.3,110.27 222.3,110.33 221.8,110.38 221.3,110.39 220.8,110.35 220.3,110.34 219.8,110.47 219.3,110.65 218.8,110.87 218.3,111.14 217.8,111.45 217.3,111.81 216.8,112.21 216.3,112.66 215.8,113.15 215.3,113.69 214.8,114.28 214.3,114.91 213.8,115.58 213.3,116.3 212.8,117.07 212.3,117.88 211.8,118.73 211.3,119.64 210.8,120.58 210.3,121.58 209.8,122.63 209.3,123.77 208.8,124.96 208.3,126.2 207.8,127.48 207.3,128.82 206.8,130.2 206.3,131.64 205.8,131.95 205.3,132.73 204.8,133.51 204.3,134.29 203.8,135.08 203.3,135.86 202.8,136.64 202.3,137.43 201.8,138.21 201.3,138.99 200.8,139.77 200.3,140.56 199.8,141.34 199.3,141.5 198.8,140.71 198.3,139.93 197.8,139.15 197.3,138.37 196.8,137.58 196.3,136.8 195.8,136.02 195.3,135.23 194.8,134.45 194.3,133.67 193.8,132.89 193.3,132.1 192.8,131.32 192.3,130.54 191.8,129.75 191.3,128.97 190.8,128.19 190.3,127.41 189.8,126.62 189.3,125.84 188.8,125.08 188.3,124.37 187.8,123.65 187.3,122.93 186.8,122.21 186.3,121.49 185.8,120.78 185.3,120.06 184.8,119.34 184.3,118.62 183.8,117.91 183.3,117.19 182.8,116.47 182.3,115.75 181.8,115.04 181.3,114.32 180.8,113.6 180.3,112.88 179.8,112.17 179.3,111.45 178.8,110.73 178.3,110.59 177.8,111.3 177.3,112.02 176.8,112.74 176.3,113.46 175.8,114.18 175.3,114.89 174.8,115.61 174.3,116.33 173.8,117.05 173.3,117.76 172.8,118.48 172.3,119.2 171.8,119.92 171.3,120.63 170.8,121.35 170.3,122.07 169.8,122.79 169.3,123.5 168.8,124.22 168.3,124.94 167.8,125.68 167.3,126.47 166.8,127.25 166.3,128.03 165.8,128.81 165.3,129.6 164.8,130.38 164.3,131.16 163.8,131.95 163.3,132.73 162.8,133.51 162.3,134.29 161.8,135.08 161.3,135.86 160.8,136.64 160.3,137.43 159.8,138.21 159.3,138.99 158.8,139.77 158.3,140.56 157.8,141.34 157.3,141.5 156.8,140.71 156.3,139.93 155.8,139.15 155.3,138.37 154.8,137.58 154.3,136.8 153.8,136.02 153.3,135.23 152.8,134.45 152.3,133.67 151.8,132.89 151.3,132.1 150.8,131.32 150.3,130.54 149.8,129.75 149.3,128.97 148.8,128.19 148.3,127.41 147.8,126.62 147.3,125.84 146.8,125.08 146.3,124.37 145.8,123.65 145.3,122.93 144.8,122.21 144.3,121.49 143.8,120.78 143.3,120.06 142.8,119.34 142.3,118.62 141.8,117.91 141.3,117.19 140.8,116.47 140.3,115.75 139.8,115.04 139.3,114.32 138.8,113.6 138.3,112.88 137.8,112.17 137.3,111.45 136.8,110.73 136.3,110.59 135.8,111.3 135.3,112.02 134.8,112.74 134.3,113.46 133.8,114.18 133.3,114.89 132.8,115.61 132.3,116.33 131.8,117.05 131.3,117.76 130.8,118.48 130.3,119.2 129.8,119.92 129.3,120.63 128.8,121.35 128.3,122.07 127.8,122.79 127.3,123.5 126.8,124.22 126.3,124.94 125.8,125.68 125.3,126.47 124.8,127.25 124.3,128.03 123.8,128.81 123.3,129.6 122.8,130.38 122.3,131.16 121.8,131.95 121.3,132.73 120.8,133.51 120.3,134.29 119.8,135.08 119.3,135.86 118.8,136.64 118.3,137.43 117.8,138.21 117.3,138.99 116.8,139.77 116.3,140.56 115.8,141.34 115.3,141.5 114.8,140.71 114.3,139.93 113.8,139.15 113.3,138.37 112.8,137.58 112.3,136.8 111.8,136.02 111.3,135.23 110.8,134.45 110.3,133.67 109.8,132.89 109.3,132.1 108.8,131.32 108.3,130.54 107.8,129.75 107.3,128.97 106.8,128.19 106.3,127.41 105.8,126.62 105.3,125.84 104.8,125.08 104.3,124.37 103.8,123.65 103.3,122.93 102.8,122.21 102.3,121.49 101.8,120.78 101.3,120.06 100.8,119.34 100.3,118.62 99.8,117.91 99.3,117.19 98.8,116.47 98.3,115.75 97.8,115.04 97.3,114.32 96.8,113.6 96.3,112.88 95.8,112.17 95.3,111.45 94.8,110.73 94.3,110.59 93.8,111.3 93.3,112.02 92.8,112.74 92.3,113.46 91.8,114.18 91.3,114.89 90.8,115.61 90.3,116.33 89.8,117.05 89.3,117.76 88.8,118.48 88.3,119.2 87.8,119.92 87.3,120.63 86.8,121.35 86.3,122.07 85.8,122.79 85.3,123.5 84.8,124.22 84.3,124.94 83.8,125.68 83.3,126.47 82.8,127.25 82.3,128.03 81.8,128.81 81.3,129.6 80.8,130.38 80.3,131.16 79.8,131.95 79.3,132.73 78.8,133.51 78.3,134.29 77.8,135.08 77.3,135.86 76.8,136.64 76.3,137.43 75.8,138.21 75.3,138.99 74.8,139.77 74.3,140.56 73.8,141.34 73.3,141.5 72.8,140.71 72.3,139.93 71.8,139.15 71.3,138.37 70.8,137.58 70.3,136.8 69.8,136.02 69.3,135.23 68.8,134.45 68.3,133.67 67.8,132.89 67.3,132.1 66.8,131.32 66.3,130.54 65.8,129.75 65.3,128.97 64.8,128.19 64.3,127.41 63.8,126.62 63.3,125.84 62.8,125.08 62.3,124.37 61.8,123.65 61.3,122.93 60.8,122.56 60.3,121.46 59.8,120.41 59.3,119.4 58.8,118.44 58.3,117.53 57.8,116.66 57.3,115.84 56.8,115.06 56.3,114.33 55.8,113.65 55.3,113.01 54.8,112.42 54.3,111.88 53.8,111.38 53.3,110.93 52.8,110.52 52.3,110.44 51.8,110.75 51.3,111.02 50.8,111.24 50.3,111.42 49.8,111.55 49.3,111.63 48.8,111.67 48.3,111.66 47.8,111.6 47.3,111.5 46.8,111.35 46.3,111.16 45.8,110.92 45.3,110.63 44.8,110.3Z"/>
<rect x="44" y="108.5" width="8.2" height="4.1" rx="2" fill="#0373c0"/>
<path d="M222.7,84.5V116.5" stroke="#7cb5df" stroke-width="0.9" fill="none"/>
<path fill="#7ab3de" fill-opacity="0.8" d="M53.9,110.3m-1.1,0l1.1,-1.3l1.1,1.3l-1.1,1.3zM94.5,110.3m-1.1,0l1.1,-1.3l1.1,1.3l-1.1,1.3zM136.5,110.3m-1.1,0l1.1,-1.3l1.1,1.3l-1.1,1.3zM178.4,110.3m-1.1,0l1.1,-1.3l1.1,1.3l-1.1,1.3zM220.3,110.3m-1.1,0l1.1,-1.3l1.1,1.3l-1.1,1.3z"/>
</g>
<g id="axes-left">
<rect x="43.85" y="25.5" width="210.25" height="160.55" fill="none" stroke="#262626" stroke-width="0.7"/>
<text class="t" x="43.85" y="201.5" font-size="10" text-anchor="middle" fill="#262626" textLength="5.84" lengthAdjust="spacingAndGlyphs">0</text>
<text class="t" x="85.9" y="201.5" font-size="10" text-anchor="middle" fill="#262626" textLength="5.84" lengthAdjust="spacingAndGlyphs">5</text>
<text class="t" x="127.95" y="201.5" font-size="10" text-anchor="middle" fill="#262626" textLength="11.68" lengthAdjust="spacingAndGlyphs">10</text>
<text class="t" x="170" y="201.5" font-size="10" text-anchor="middle" fill="#262626" textLength="11.68" lengthAdjust="spacingAndGlyphs">15</text>
<text class="t" x="212.05" y="201.5" font-size="10" text-anchor="middle" fill="#262626" textLength="11.68" lengthAdjust="spacingAndGlyphs">20</text>
<text class="t" x="254.1" y="201.5" font-size="10" text-anchor="middle" fill="#262626" textLength="11.68" lengthAdjust="spacingAndGlyphs">25</text>
<text class="t" x="40.25" y="29.5" font-size="10" text-anchor="end" fill="#262626" textLength="18.09" lengthAdjust="spacingAndGlyphs">-0.3</text>
<text class="t" x="40.25" y="75.37" font-size="10" text-anchor="end" fill="#262626" textLength="18.09" lengthAdjust="spacingAndGlyphs">-0.4</text>
<text class="t" x="40.25" y="121.24" font-size="10" text-anchor="end" fill="#262626" textLength="18.09" lengthAdjust="spacingAndGlyphs">-0.5</text>
<text class="t" x="40.25" y="167.11" font-size="10" text-anchor="end" fill="#262626" textLength="18.09" lengthAdjust="spacingAndGlyphs">-0.6</text>
<path d="M43.85,186.05v-2.1M43.85,25.5v2.1M85.9,186.05v-2.1M85.9,25.5v2.1M127.95,186.05v-2.1M127.95,25.5v2.1M170,186.05v-2.1M170,25.5v2.1M212.05,186.05v-2.1M212.05,25.5v2.1M254.1,186.05v-2.1M254.1,25.5v2.1M43.85,25.5h2.1M254.1,25.5h-2.1M43.85,71.37h2.1M254.1,71.37h-2.1M43.85,117.24h2.1M254.1,117.24h-2.1M43.85,163.11h2.1M254.1,163.11h-2.1" stroke="#262626" stroke-width="0.7" fill="none"/>
<text x="148.97" y="19.9" font-size="11" text-anchor="middle" font-weight="bold" fill="#000" textLength="215.6" lengthAdjust="spacingAndGlyphs">Test results: 10 N, 8 Hz - Displacement</text>
<text class="t" x="148.97" y="216.1" font-size="11" text-anchor="middle" fill="#262626" textLength="40.5" lengthAdjust="spacingAndGlyphs">Time [s]</text>
<text class="t" x="15.8" y="105.88" font-size="11" text-anchor="middle" fill="#262626" textLength="99.9" lengthAdjust="spacingAndGlyphs" transform="rotate(-90 15.8 105.88)">Displacement [mm]</text>
</g>
<g id="plot-right">
<path fill="#bcdaf0" d="M318,109.86 318.2,108.91 318.4,107.96 318.6,107.09 318.8,106.4 319,105.59 319.2,104.68 319.4,103.66 319.6,102.39 319.8,101.3 320,100.35 320.2,99.4 320.4,98.45 320.6,97.5 320.8,96.74 321,96.34 321.2,95.63 321.4,94.72 321.6,93.59 321.8,92.04 322,90.85 322.2,89.9 322.4,88.95 322.6,87.99 322.8,87.04 323,86.39 323.2,86.28 323.4,85.67 323.6,84.76 323.8,83.53 324,81.69 324.2,80.39 324.4,79.44 324.6,78.49 324.8,77.54 325,76.59 325.2,76.04 325.4,76.21 325.6,75.71 325.8,74.8 326,73.47 326.2,71.34 326.4,69.93 326.6,68.98 326.8,68.03 327,67.08 327.2,66.13 327.4,65.69 327.6,66.15 327.8,65.75 328,64.84 328.2,63.4 328.4,60.99 328.6,59.47 328.8,58.52 329,57.57 329.2,56.62 329.4,55.67 329.6,55.34 329.8,56.09 330,55.79 330.2,54.89 330.4,53.34 330.6,50.64 330.8,49.02 331,48.07 331.2,47.12 331.4,46.16 331.6,45.21 331.8,44.99 332,46.02 332.2,45.83 332.4,44.93 332.6,43.28 332.8,40.28 333,38.56 333.2,37.61 333.4,36.66 333.6,35.71 333.8,34.76 334,34.64 334.2,35.96 334.4,35.87 334.6,34.97 334.8,33.21 335,29.93 335.2,28.1 335.4,27.15 335.6,26.2 335.8,26.2 336,26.2 336.2,27.15 336.4,29.62 336.6,30.54 336.8,30.57 337,29.72 337.2,27.31 337.4,26.44 337.6,26.47 337.8,26.5 338,26.53 338.2,26.56 338.4,27.5 338.6,29.96 338.8,30.86 339,30.89 339.2,30.03 339.4,27.63 339.6,26.75 339.8,26.78 340,26.8 340.2,26.82 340.4,26.85 340.6,27.78 340.8,30.22 341,31.12 341.2,31.14 341.4,30.29 341.6,27.89 341.8,27 342,27.02 342.2,27.04 342.4,27.06 342.6,27.08 342.8,28 343,30.44 343.2,31.33 343.4,31.35 343.6,30.49 343.8,28.09 344,27.21 344.2,27.22 344.4,27.24 344.6,27.25 344.8,27.27 345,28.19 345.2,30.61 345.4,31.5 345.6,31.51 345.8,30.66 346,28.26 346.2,27.37 346.4,27.38 346.6,27.4 346.8,27.41 347,27.42 347.2,28.33 347.4,30.75 347.6,31.64 347.8,31.65 348,30.79 348.2,28.39 348.4,27.5 348.6,27.51 348.8,27.53 349,27.54 349.2,27.55 349.4,28.45 349.6,30.87 349.8,31.75 350,31.76 350.2,30.9 350.4,28.5 350.6,27.61 350.8,27.62 351,27.63 351.2,27.64 351.4,27.65 351.6,28.55 351.8,30.96 352,31.84 352.2,31.85 352.4,30.98 352.6,28.59 352.8,27.7 353,27.71 353.2,27.71 353.4,27.72 353.6,27.73 353.8,28.63 354,31.04 354.2,31.91 354.4,31.92 354.6,31.06 354.8,28.66 355,27.77 355.2,27.78 355.4,27.78 355.6,27.79 355.8,27.79 356,28.7 356.2,31.1 356.4,31.97 356.6,31.98 356.8,31.12 357,28.72 357.2,27.83 357.4,27.84 357.6,27.84 357.8,27.85 358,27.85 358.2,28.75 358.4,31.15 358.6,32.02 358.8,32.03 359,31.16 359.2,28.77 359.4,27.88 359.6,27.88 359.8,27.89 360,27.89 360.2,27.89 360.4,28.79 360.6,31.19 360.8,32.06 361,32.07 361.2,31.2 361.4,28.81 361.6,27.92 361.8,27.92 362,27.93 362.2,27.93 362.4,27.93 362.6,28.83 362.8,31.23 363,32.1 363.2,32.1 363.4,31.24 363.6,28.84 363.8,27.95 364,27.96 364.2,27.96 364.4,27.96 364.6,27.96 364.8,28.86 365,31.26 365.2,32.13 365.4,32.13 365.6,31.26 365.8,28.87 366,27.98 366.2,27.98 366.4,27.99 366.6,27.99 366.8,27.99 367,28.89 367.2,31.28 367.4,32.15 367.6,32.15 367.8,31.29 368,28.9 368.2,28 368.4,28.01 368.6,28.01 368.8,28.01 369,28.01 369.2,28.91 369.4,31.3 369.6,32.17 369.8,32.17 370,31.31 370.2,28.92 370.4,28.02 370.6,28.03 370.8,28.03 371,28.03 371.2,28.03 371.4,28.93 371.6,31.32 371.8,32.19 372,32.19 372.2,31.33 372.4,28.93 372.6,28.04 372.8,28.04 373,28.05 373.2,28.05 373.4,28.05 373.6,28.94 373.8,31.34 374,32.2 374.2,32.2 374.4,31.34 374.6,28.95 374.8,28.06 375,28.06 375.2,28.06 375.4,28.06 375.6,28.06 375.8,28.96 376,31.35 376.2,32.22 376.4,32.22 376.6,31.35 376.8,28.96 377,28.07 377.2,28.07 377.4,28.07 377.6,28.07 377.8,28.08 378,28.97 378.2,31.36 378.4,32.23 378.6,32.23 378.8,31.36 379,28.97 379.2,28.08 379.4,28.08 379.6,28.08 379.8,28.09 380,28.09 380.2,28.98 380.4,31.37 380.6,32.24 380.8,32.24 381,31.38 381.2,28.98 381.4,28.09 381.6,28.09 381.8,28.1 382,28.1 382.2,28.1 382.4,28.99 382.6,31.38 382.8,32.25 383,32.25 383.2,31.39 383.4,28.99 383.6,28.1 383.8,28.1 384,28.11 384.2,28.11 384.4,28.11 384.6,29 384.8,31.39 385,32.26 385.2,32.26 385.4,31.39 385.6,29 385.8,28.11 386,28.11 386.2,28.11 386.4,28.12 386.6,28.12 386.8,29.01 387,31.4 387.2,32.27 387.4,32.27 387.6,31.4 387.8,29.01 388,28.12 388.2,28.12 388.4,28.12 388.6,28.12 388.8,28.12 389,29.02 389.2,31.41 389.4,32.27 389.6,32.27 389.8,31.41 390,29.02 390.2,28.13 390.4,28.13 390.6,28.13 390.8,28.13 391,28.13 391.2,29.02 391.4,31.42 391.6,32.28 391.8,32.28 392,31.42 392.2,29.03 392.4,28.14 392.6,28.14 392.8,28.14 393,28.14 393.2,28.14 393.4,29.03 393.6,31.42 393.8,32.29 394,32.29 394.2,31.42 394.4,29.04 394.6,28.14 394.8,28.14 395,28.15 395.2,28.15 395.4,28.15 395.6,29.04 395.8,31.43 396,32.3 396.2,32.3 396.4,31.43 396.6,29.04 396.8,28.15 397,28.15 397.2,28.15 397.4,28.15 397.6,28.15 397.8,29.05 398,31.44 398.2,32.3 398.4,32.3 398.6,31.44 398.8,29.05 399,28.16 399.2,28.16 399.4,28.16 399.6,28.16 399.8,28.16 400,29.05 400.2,31.44 400.4,32.31 400.6,32.31 400.8,31.45 401,29.06 401.2,28.17 401.4,28.17 401.6,28.17 401.8,28.17 402,28.17 402.2,29.06 402.4,31.45 402.6,32.31 402.8,32.32 403,31.45 403.2,29.06 403.4,28.17 403.6,28.17 403.8,28.17 404,28.17 404.2,28.17 404.4,29.07 404.6,31.46 404.8,32.32 405,32.32 405.2,31.46 405.4,29.07 405.6,28.18 405.8,28.18 406,28.18 406.2,28.18 406.4,28.18 406.6,29.07 406.8,31.46 407,32.33 407.2,32.33 407.4,31.46 407.6,29.08 407.8,28.18 408,28.19 408.2,28.19 408.4,28.19 408.6,28.19 408.8,29.08 409,31.47 409.2,32.33 409.4,32.33 409.6,31.47 409.8,29.08 410,28.19 410.2,28.19 410.4,28.19 410.6,28.19 410.8,28.19 411,29.09 411.2,31.47 411.4,32.34 411.6,32.34 411.8,31.48 412,29.09 412.2,28.2 412.4,28.2 412.6,28.2 412.8,28.2 413,28.2 413.2,29.09 413.4,31.48 413.6,32.35 413.8,32.35 414,31.48 414.2,29.09 414.4,28.2 414.6,28.2 414.8,28.2 415,28.21 415.2,28.21 415.4,29.1 415.6,31.49 415.8,32.35 416,32.35 416.2,31.49 416.4,29.1 416.6,28.21 416.8,28.21 417,28.21 417.2,28.21 417.4,28.21 417.6,29.1 417.8,31.49 418,32.36 418.2,32.36 418.4,31.49 418.6,29.11 418.8,28.22 419,28.22 419.2,28.22 419.4,28.22 419.6,28.22 419.8,29.11 420,31.5 420.2,32.36 420.4,32.36 420.6,31.5 420.8,29.11 421,28.22 421.2,28.22 421.4,28.22 421.6,28.22 421.8,28.22 422,29.12 422.2,31.5 422.4,32.37 422.6,32.37 422.8,31.51 423,29.12 423.2,28.23 423.4,28.23 423.6,28.23 423.8,28.23 424,28.23 424.2,29.12 424.4,31.51 424.6,32.38 424.8,32.38 425,31.51 425.2,29.13 425.4,28.23 425.6,28.24 425.8,28.24 426,28.24 426.2,28.24 426.4,29.13 426.6,31.52 426.8,32.38 427,32.38 427.2,31.52 427.4,29.13 427.6,28.24 427.8,28.24 428,28.24 428.2,28.24 428.4,28.24 428.6,29.13 428.8,31.52 429,32.39 429.2,32.39 429.4,31.52 429.6,29.14 429.8,28.25 430,28.25 430.2,28.25 430.4,28.25 430.6,28.25 430.8,29.14 431,31.53 431.2,32.39 431.4,32.39 431.6,31.53 431.8,29.14 432,28.25 432.2,28.25 432.4,28.25 432.6,28.26 432.8,28.26 433,29.15 433.2,31.53 433.4,32.4 433.6,32.4 433.8,31.54 434,29.15 434.2,28.26 434.4,28.26 434.6,28.26 434.8,28.26 435,28.26 435.2,29.15 435.4,31.54 435.6,32.4 435.8,32.41 436,31.54 436.2,29.16 436.4,28.27 436.6,28.27 436.8,28.27 437,28.27 437.2,28.27 437.4,29.16 437.6,31.55 437.8,32.41 438,32.41 438.2,31.55 438.4,29.16 438.6,28.27 438.8,28.27 439,28.27 439.2,28.27 439.4,28.27 439.6,29.17 439.8,31.55 440,32.42 440.2,32.42 440.4,31.55 440.6,29.17 440.8,28.28 441,28.28 441.2,28.28 441.4,28.28 441.6,28.28 441.8,29.17 442,31.56 442.2,32.42 442.4,32.42 442.6,31.56 442.8,29.17 443,28.28 443.2,28.28 443.4,28.29 443.6,28.29 443.8,28.29 444,29.18 444.2,31.56 444.4,32.43 444.6,32.43 444.8,31.57 445,29.18 445.2,28.29 445.4,28.29 445.6,28.29 445.8,28.29 446,28.29 446.2,29.18 446.4,31.57 446.6,32.43 446.8,32.43 447,31.57 447.2,29.19 447.4,28.3 447.6,28.3 447.8,28.3 448,28.3 448.2,28.3 448.4,29.19 448.6,31.58 448.8,32.44 449,32.44 449.2,31.58 449.4,29.19 449.6,28.3 449.8,28.3 450,28.3 450.2,28.3 450.4,28.3 450.6,29.2 450.8,31.58 451,32.45 451.2,32.45 451.4,31.58 451.6,29.2 451.8,28.31 452,28.31 452.2,28.31 452.4,28.31 452.6,28.31 452.8,29.2 453,31.59 453.2,32.45 453.4,32.45 453.6,31.59 453.8,29.2 454,28.31 454.2,28.32 454.4,28.32 454.6,28.32 454.8,28.32 455,29.21 455.2,31.59 455.4,32.46 455.6,32.46 455.8,31.59 456,29.21 456.2,28.32 456.4,28.32 456.6,28.32 456.8,28.32 457,28.32 457.2,29.21 457.4,31.6 457.6,32.46 457.8,32.46 458,31.6 458.2,29.22 458.4,28.33 458.6,28.33 458.8,28.33 459,28.33 459.2,28.33 459.4,29.22 459.6,31.61 459.8,32.47 460,32.47 460.2,31.61 460.4,29.22 460.6,28.33 460.8,28.33 461,28.33 461.2,28.33 461.4,28.34 461.6,29.23 461.8,31.61 462,32.47 462.2,32.48 462.4,31.61 462.6,29.23 462.8,28.34 463,28.34 463.2,28.34 463.4,28.34 463.6,28.34 463.8,29.23 464,31.62 464.2,32.48 464.4,32.48 464.6,31.62 464.8,29.23 465,28.35 465.2,28.35 465.4,28.35 465.6,28.35 465.8,28.35 466,29.24 466.2,31.62 466.4,32.49 466.6,32.49 466.8,31.62 467,29.24 467.2,28.35 467.4,28.35 467.6,28.35 467.8,28.35 468,28.35 468.2,29.24 468.4,31.63 468.6,32.49 468.8,32.49 469,31.63 469.2,29.25 469.4,28.36 469.6,28.36 469.8,28.36 470,28.36 470.2,28.36 470.4,29.25 470.6,31.63 470.8,32.5 471,32.5 471.2,31.64 471.4,29.25 471.6,28.36 471.8,28.36 472,28.36 472.2,28.37 472.4,28.37 472.6,29.26 472.8,31.64 473,32.5 473.2,32.5 473.4,31.64 473.6,29.26 473.8,28.37 474,28.37 474.2,28.37 474.4,28.37 474.6,28.37 474.8,29.26 475,31.65 475.2,32.51 475.4,32.51 475.6,31.65 475.8,29.26 476,28.38 476.2,28.38 476.4,28.38 476.6,28.38 476.8,28.38 477,29.27 477.2,31.65 477.4,32.52 477.6,32.52 477.8,31.65 478,29.27 478.2,28.38 478.4,28.38 478.6,28.38 478.8,28.38 479,28.38 479.2,29.27 479.4,31.66 479.6,32.52 479.8,32.52 480,31.66 480.2,29.28 480.4,28.39 480.6,28.39 480.8,28.39 481,28.39 481.2,28.39 481.4,29.28 481.6,31.66 481.8,32.53 482,32.53 482.2,31.67 482.4,29.28 482.6,28.39 482.8,28.39 483,28.4 483.2,28.4 483.4,28.4 483.6,29.29 483.8,31.67 484,32.53 484.2,32.53 484.4,31.67 484.6,29.29 484.8,28.4 485,28.4 485.2,28.4 485.4,28.4 485.6,28.4 485.8,29.29 486,31.68 486.2,32.54 486.4,32.54 486.6,31.68 486.8,29.3 487,28.41 487.2,28.41 487.4,28.97 487.6,30.1 487.8,31.22 488,33.18 488.2,36.53 488.4,38.4 488.6,39.46 488.8,39.73 489,38.67 489.2,38.98 489.4,40.07 489.6,41.16 489.8,42.25 490,43.33 490.2,45.14 490.4,48.12 490.6,49.83 490.8,50.85 491,51.2 491.2,50.43 491.4,50.82 491.6,51.87 491.8,52.92 492,53.96 492.2,55.01 492.4,56.65 492.6,59.27 492.8,60.82 493,61.8 493.2,62.22 493.4,61.72 493.6,62.18 493.8,63.18 494,64.19 494.2,65.18 494.4,66.18 494.6,67.66 494.8,69.92 495,71.32 495.2,72.25 495.4,72.73 495.6,72.47 495.8,72.99 496,73.94 496.2,74.89 496.4,75.83 496.6,76.77 496.8,78.08 497,80 497.2,81.24 497.4,82.11 497.6,82.64 497.8,82.6 498,83.16 498.2,84.05 498.4,84.93 498.6,85.8 498.8,86.67 499,87.81 499.2,89.39 499.4,90.46 499.6,91.26 499.8,91.81 500,91.95 500.2,92.52 500.4,93.33 500.6,94.12 500.8,94.91 501,95.68 501.2,96.64 501.4,97.88 501.6,98.77 501.8,99.46 502,99.99 502.2,100.26 502.4,100.8 502.6,101.48 502.8,102.14 503,102.79 503.2,103.42 503.4,104.14 503.6,105.02 503.8,105.66 504,106.17 504.2,106.56 504.4,106.77 504.6,107.09 504.8,107.39 504.8,120.63 504.6,120.83 504.4,121.09 504.2,121.33 504,121.65 503.8,122.01 503.6,122.43 503.4,122.93 503.2,123.39 503,123.82 502.8,124.27 502.6,124.73 502.4,125.21 502.2,125.64 502,126 501.8,126.44 501.6,126.93 501.4,127.49 501.2,128.17 501,128.76 500.8,129.3 500.6,129.84 500.4,130.4 500.2,130.95 500,131.44 499.8,131.81 499.6,132.29 499.4,132.86 499.2,133.52 499,134.34 498.8,135.02 498.6,135.63 498.4,136.23 498.2,136.84 498,137.46 497.8,137.98 497.6,138.31 497.4,138.83 497.2,139.45 497,140.18 496.8,141.13 496.6,141.9 496.4,142.55 496.2,143.2 496,143.86 495.8,144.53 495.6,145.05 495.4,145.34 495.2,145.87 495,146.53 494.8,147.34 494.6,148.42 494.4,149.26 494.2,149.95 494,150.64 493.8,151.34 493.6,152.04 493.4,152.57 493.2,152.8 493,153.33 492.8,154.02 492.6,154.9 492.4,156.11 492.2,157.02 492,157.74 491.8,158.47 491.6,159.2 491.4,159.93 491.2,160.46 491,160.63 490.8,161.15 490.6,161.87 490.4,162.82 490.2,164.15 490,165.13 489.8,165.88 489.6,166.64 489.4,167.4 489.2,168.16 489,168.67 488.8,168.77 488.6,169.28 488.4,170.03 488.2,171.04 488,172.51 487.8,173.55 487.6,174.33 487.4,175.11 487.2,175.5 487,175.5 486.8,175.22 486.6,174.49 486.4,174.22 486.2,174.22 486,174.49 485.8,175.22 485.6,175.5 485.4,175.5 485.2,175.5 485,175.5 484.8,175.5 484.6,175.22 484.4,174.49 484.2,174.22 484,174.22 483.8,174.49 483.6,175.22 483.4,175.5 483.2,175.5 483,175.5 482.8,175.5 482.6,175.5 482.4,175.22 482.2,174.49 482,174.22 481.8,174.22 481.6,174.49 481.4,175.22 481.2,175.5 481,175.5 480.8,175.5 480.6,175.5 480.4,175.5 480.2,175.22 480,174.49 479.8,174.22 479.6,174.22 479.4,174.49 479.2,175.22 479,175.5 478.8,175.5 478.6,175.5 478.4,175.5 478.2,175.5 478,175.22 477.8,174.49 477.6,174.22 477.4,174.22 477.2,174.49 477,175.22 476.8,175.5 476.6,175.5 476.4,175.5 476.2,175.5 476,175.5 475.8,175.22 475.6,174.49 475.4,174.22 475.2,174.22 475,174.49 474.8,175.22 474.6,175.5 474.4,175.5 474.2,175.5 474,175.5 473.8,175.5 473.6,175.22 473.4,174.49 473.2,174.22 473,174.22 472.8,174.49 472.6,175.22 472.4,175.5 472.2,175.5 472,175.5 471.8,175.5 471.6,175.5 471.4,175.22 471.2,174.49 471,174.22 470.8,174.22 470.6,174.49 470.4,175.22 470.2,175.5 470,175.5 469.8,175.5 469.6,175.5 469.4,175.5 469.2,175.22 469,174.49 468.8,174.22 468.6,174.22 468.4,174.49 468.2,175.22 468,175.5 467.8,175.5 467.6,175.5 467.4,175.5 467.2,175.5 467,175.22 466.8,174.49 466.6,174.22 466.4,174.22 466.2,174.49 466,175.22 465.8,175.5 465.6,175.5 465.4,175.5 465.2,175.5 465,175.5 464.8,175.22 464.6,174.49 464.4,174.22 464.2,174.22 464,174.49 463.8,175.22 463.6,175.5 463.4,175.5 463.2,175.5 463,175.5 462.8,175.5 462.6,175.22 462.4,174.49 462.2,174.22 462,174.22 461.8,174.49 461.6,175.22 461.4,175.5 461.2,175.5 461,175.5 460.8,175.5 460.6,175.5 460.4,175.22 460.2,174.49 460,174.22 459.8,174.22 459.6,174.49 459.4,175.22 459.2,175.5 459,175.5 458.8,175.5 458.6,175.5 458.4,175.5 458.2,175.22 458,174.49 457.8,174.22 457.6,174.22 457.4,174.49 457.2,175.22 457,175.5 456.8,175.5 456.6,175.5 456.4,175.5 456.2,175.5 456,175.22 455.8,174.49 455.6,174.22 455.4,174.22 455.2,174.49 455,175.22 454.8,175.5 454.6,175.5 454.4,175.5 454.2,175.5 454,175.5 453.8,175.22 453.6,174.49 453.4,174.22 453.2,174.22 453,174.49 452.8,175.22 452.6,175.5 452.4,175.5 452.2,175.5 452,175.5 451.8,175.5 451.6,175.22 451.4,174.49 451.2,174.22 451,174.22 450.8,174.49 450.6,175.22 450.4,175.5 450.2,175.5 450,175.5 449.8,175.5 449.6,175.5 449.4,175.22 449.2,174.49 449,174.22 448.8,174.22 448.6,174.49 448.4,175.22 448.2,175.5 448,175.5 447.8,175.5 447.6,175.5 447.4,175.5 447.2,175.22 447,174.49 446.8,174.22 446.6,174.22 446.4,174.49 446.2,175.22 446,175.5 445.8,175.5 445.6,175.5 445.4,175.5 445.2,175.5 445,175.22 444.8,174.49 444.6,174.22 444.4,174.22 444.2,174.49 444,175.22 443.8,175.5 443.6,175.5 443.4,175.5 443.2,175.5 443,175.5 442.8,175.22 442.6,174.49 442.4,174.22 442.2,174.22 442,174.49 441.8,175.22 441.6,175.5 441.4,175.5 441.2,175.5 441,175.5 440.8,175.5 440.6,175.22 440.4,174.49 440.2,174.22 440,174.22 439.8,174.49 439.6,175.22 439.4,175.5 439.2,175.5 439,175.5 438.8,175.5 438.6,175.5 438.4,175.22 438.2,174.49 438,174.22 437.8,174.22 437.6,174.49 437.4,175.22 437.2,175.5 437,175.5 436.8,175.5 436.6,175.5 436.4,175.5 436.2,175.22 436,174.49 435.8,174.22 435.6,174.22 435.4,174.49 435.2,175.22 435,175.5 434.8,175.5 434.6,175.5 434.4,175.5 434.2,175.5 434,175.22 433.8,174.49 433.6,174.22 433.4,174.22 433.2,174.49 433,175.22 432.8,175.5 432.6,175.5 432.4,175.5 432.2,175.5 432,175.5 431.8,175.22 431.6,174.49 431.4,174.22 431.2,174.22 431,174.49 430.8,175.22 430.6,175.5 430.4,175.5 430.2,175.5 430,175.5 429.8,175.5 429.6,175.22 429.4,174.49 429.2,174.22 429,174.22 428.8,174.49 428.6,175.22 428.4,175.5 428.2,175.5 428,175.5 427.8,175.5 427.6,175.5 427.4,175.22 427.2,174.49 427,174.22 426.8,174.22 426.6,174.49 426.4,175.22 426.2,175.5 426,175.5 425.8,175.5 425.6,175.5 425.4,175.5 425.2,175.22 425,174.49 424.8,174.22 424.6,174.22 424.4,174.49 424.2,175.22 424,175.5 423.8,175.5 423.6,175.5 423.4,175.5 423.2,175.5 423,175.22 422.8,174.49 422.6,174.22 422.4,174.22 422.2,174.49 422,175.22 421.8,175.5 421.6,175.5 421.4,175.5 421.2,175.5 421,175.5 420.8,175.22 420.6,174.49 420.4,174.22 420.2,174.22 420,174.49 419.8,175.22 419.6,175.5 419.4,175.5 419.2,175.5 419,175.5 418.8,175.5 418.6,175.22 418.4,174.49 418.2,174.22 418,174.22 417.8,174.49 417.6,175.22 417.4,175.5 417.2,175.5 417,175.5 416.8,175.5 416.6,175.5 416.4,175.22 416.2,174.49 416,174.22 415.8,174.22 415.6,174.49 415.4,175.22 415.2,175.5 415,175.5 414.8,175.5 414.6,175.5 414.4,175.5 414.2,175.22 414,174.49 413.8,174.22 413.6,174.22 413.4,174.49 413.2,175.22 413,175.5 412.8,175.5 412.6,175.5 412.4,175.5 412.2,175.5 412,175.22 411.8,174.49 411.6,174.22 411.4,174.22 411.2,174.49 411,175.22 410.8,175.5 410.6,175.5 410.4,175.5 410.2,175.5 410,175.5 409.8,175.22 409.6,174.49 409.4,174.22 409.2,174.22 409,174.49 408.8,175.22 408.6,175.5 408.4,175.5 408.2,175.5 408,175.5 407.8,175.5 407.6,175.22 407.4,174.49 407.2,174.22 407,174.22 406.8,174.49 406.6,175.22 406.4,175.5 406.2,175.5 406,175.5 405.8,175.5 405.6,175.5 405.4,175.22 405.2,174.49 405,174.22 404.8,174.22 404.6,174.49 404.4,175.22 404.2,175.5 404,175.5 403.8,175.5 403.6,175.5 403.4,175.5 403.2,175.22 403,174.49 402.8,174.22 402.6,174.22 402.4,174.49 402.2,175.22 402,175.5 401.8,175.5 401.6,175.5 401.4,175.5 401.2,175.5 401,175.22 400.8,174.49 400.6,174.22 400.4,174.22 400.2,174.49 400,175.22 399.8,175.5 399.6,175.5 399.4,175.5 399.2,175.5 399,175.5 398.8,175.22 398.6,174.49 398.4,174.22 398.2,174.22 398,174.49 397.8,175.22 397.6,175.5 397.4,175.5 397.2,175.5 397,175.5 396.8,175.5 396.6,175.22 396.4,174.49 396.2,174.22 396,174.22 395.8,174.49 395.6,175.22 395.4,175.5 395.2,175.5 395,175.5 394.8,175.5 394.6,175.5 394.4,175.22 394.2,174.49 394,174.22 393.8,174.22 393.6,174.49 393.4,175.22 393.2,175.5 393,175.5 392.8,175.5 392.6,175.5 392.4,175.5 392.2,175.22 392,174.49 391.8,174.22 391.6,174.22 391.4,174.49 391.2,175.22 391,175.5 390.8,175.5 390.6,175.5 390.4,175.5 390.2,175.5 390,175.22 389.8,174.49 389.6,174.22 389.4,174.22 389.2,174.49 389,175.22 388.8,175.5 388.6,175.5 388.4,175.5 388.2,175.5 388,175.5 387.8,175.22 387.6,174.49 387.4,174.22 387.2,174.22 387,174.49 386.8,175.22 386.6,175.5 386.4,175.5 386.2,175.5 386,175.5 385.8,175.5 385.6,175.22 385.4,174.49 385.2,174.22 385,174.22 384.8,174.49 384.6,175.22 384.4,175.5 384.2,175.5 384,175.5 383.8,175.5 383.6,175.5 383.4,175.22 383.2,174.49 383,174.22 382.8,174.22 382.6,174.49 382.4,175.22 382.2,175.5 382,175.5 381.8,175.5 381.6,175.5 381.4,175.5 381.2,175.22 381,174.49 380.8,174.22 380.6,174.22 380.4,174.49 380.2,175.22 380,175.5 379.8,175.5 379.6,175.5 379.4,175.5 379.2,175.5 379,175.22 378.8,174.49 378.6,174.22 378.4,174.22 378.2,174.49 378,175.22 377.8,175.5 377.6,175.5 377.4,175.5 377.2,175.5 377,175.5 376.8,175.22 376.6,174.49 376.4,174.22 376.2,174.22 376,174.49 375.8,175.22 375.6,175.5 375.4,175.5 375.2,175.5 375,175.5 374.8,175.5 374.6,175.22 374.4,174.49 374.2,174.22 374,174.22 373.8,174.49 373.6,175.22 373.4,175.5 373.2,175.5 373,175.5 372.8,175.5 372.6,175.5 372.4,175.22 372.2,174.49 372,174.22 371.8,174.22 371.6,174.49 371.4,175.22 371.2,175.5 371,175.5 370.8,175.5 370.6,175.5 370.4,175.5 370.2,175.22 370,174.49 369.8,174.22 369.6,174.22 369.4,174.49 369.2,175.22 369,175.5 368.8,175.5 368.6,175.5 368.4,175.5 368.2,175.5 368,175.22 367.8,174.49 367.6,174.22 367.4,174.22 367.2,174.49 367,175.22 366.8,175.5 366.6,175.5 366.4,175.5 366.2,175.5 366,175.5 365.8,175.22 365.6,174.49 365.4,174.22 365.2,174.22 365,174.49 364.8,175.22 364.6,175.5 364.4,175.5 364.2,175.5 364,175.5 363.8,175.5 363.6,175.22 363.4,174.49 363.2,174.22 363,174.22 362.8,174.49 362.6,175.22 362.4,175.5 362.2,175.5 362,175.5 361.8,175.5 361.6,175.5 361.4,175.22 361.2,174.49 361,174.22 360.8,174.22 360.6,174.49 360.4,175.22 360.2,175.5 360,175.5 359.8,175.5 359.6,175.5 359.4,175.5 359.2,175.22 359,174.49 358.8,174.22 358.6,174.22 358.4,174.49 358.2,175.22 358,175.5 357.8,175.5 357.6,175.5 357.4,175.5 357.2,175.5 357,175.22 356.8,174.49 356.6,174.22 356.4,174.22 356.2,174.49 356,175.22 355.8,175.5 355.6,175.5 355.4,175.5 355.2,175.5 355,175.5 354.8,175.22 354.6,174.49 354.4,174.22 354.2,174.22 354,174.49 353.8,175.22 353.6,175.5 353.4,175.5 353.2,175.5 353,175.5 352.8,175.5 352.6,175.22 352.4,174.49 352.2,174.22 352,174.22 351.8,174.49 351.6,175.22 351.4,175.5 351.2,175.5 351,175.5 350.8,175.5 350.6,175.5 350.4,175.22 350.2,174.49 350,174.22 349.8,174.22 349.6,174.49 349.4,175.22 349.2,175.5 349,175.5 348.8,175.5 348.6,175.5 348.4,175.5 348.2,175.22 348,174.49 347.8,174.22 347.6,174.22 347.4,174.49 347.2,175.22 347,175.5 346.8,175.5 346.6,175.5 346.4,175.5 346.2,175.5 346,175.22 345.8,174.49 345.6,174.22 345.4,174.22 345.2,174.49 345,175.22 344.8,175.5 344.6,175.5 344.4,175.5 344.2,175.5 344,175.5 343.8,175.22 343.6,174.49 343.4,174.22 343.2,174.22 343,174.49 342.8,175.22 342.6,175.5 342.4,175.5 342.2,175.5 342,175.5 341.8,175.5 341.6,175.22 341.4,174.49 341.2,174.22 341,174.22 340.8,174.49 340.6,175.22 340.4,175.5 340.2,175.5 340,175.5 339.8,175.5 339.6,175.5 339.4,175.22 339.2,174.49 339,174.22 338.8,174.22 338.6,174.49 338.4,175.22 338.2,175.5 338,175.5 337.8,175.5 337.6,175.5 337.4,175.5 337.2,175.22 337,174.49 336.8,174.22 336.6,174.22 336.4,174.49 336.2,175.22 336,175.5 335.8,175.5 335.6,175.5 335.4,175.05 335.2,174.6 335,173.87 334.8,172.7 334.6,171.99 334.4,171.54 334.2,171.34 334,171.58 333.8,171.38 333.6,170.91 333.4,170.44 333.2,169.97 333,169.5 332.8,168.78 332.6,167.65 332.4,166.95 332.2,166.48 332,166.24 331.8,166.39 331.6,166.14 331.4,165.65 331.2,165.16 331,164.67 330.8,164.17 330.6,163.46 330.4,162.37 330.2,161.67 330,161.17 329.8,160.88 329.6,160.94 329.4,160.64 329.2,160.13 329,159.61 328.8,159.09 328.6,158.56 328.4,157.84 328.2,156.8 328,156.09 327.8,155.56 327.6,155.22 327.4,155.18 327.2,154.81 327,154.26 326.8,153.71 326.6,153.15 326.4,152.59 326.2,151.86 326,150.85 325.8,150.13 325.6,149.56 325.4,149.14 325.2,148.98 325,148.55 324.8,147.95 324.6,147.35 324.4,146.74 324.2,146.12 324,145.37 323.8,144.38 323.6,143.63 323.4,143 323.2,142.49 323,142.18 322.8,141.65 322.6,140.98 322.4,140.3 322.2,139.61 322,138.91 321.8,138.1 321.6,137.11 321.4,136.29 321.2,135.56 321,134.91 320.8,134.38 320.6,133.68 320.4,132.87 320.2,132.04 320,131.19 319.8,130.31 319.6,129.33 319.4,128.23 319.2,127.21 319,126.19 318.8,125.16 318.6,124.1 318.4,122.83 318.2,121.29 318,118.82Z"/>
<path fill="#5ca4d7" d="M318,110.74 318.2,110.37 318.4,109.19 318.6,107.79 318.8,106.4 319,105.59 319.2,104.68 319.4,103.66 319.6,102.39 319.8,101.3 320,100.35 320.2,99.4 320.4,98.45 320.6,97.5 320.8,96.74 321,96.34 321.2,95.63 321.4,94.72 321.6,93.59 321.8,92.04 322,90.85 322.2,91.85 322.4,91.98 322.6,91.83 322.8,89.96 323,87.94 323.2,86.28 323.4,85.67 323.6,84.76 323.8,83.53 324,81.69 324.2,80.39 324.4,79.44 324.6,78.49 324.8,77.54 325,76.59 325.2,76.04 325.4,76.21 325.6,75.71 325.8,74.8 326,73.47 326.2,71.34 326.4,69.93 326.6,74.66 326.8,77.14 327,77.18 327.2,73.1 327.4,68.28 327.6,66.15 327.8,65.75 328,64.84 328.2,63.4 328.4,60.99 328.6,59.47 328.8,58.52 329,57.57 329.2,56.62 329.4,55.67 329.6,55.34 329.8,56.09 330,55.79 330.2,54.89 330.4,53.34 330.6,50.64 330.8,52.55 331,54.4 331.2,56.05 331.4,54.79 331.6,51.35 331.8,44.99 332,46.02 332.2,45.83 332.4,44.93 332.6,43.28 332.8,40.28 333,38.56 333.2,37.61 333.4,36.66 333.6,35.71 333.8,34.76 334,34.64 334.2,35.96 334.4,35.87 334.6,34.97 334.8,33.21 335,29.93 335.2,34.68 335.4,40.67 335.6,45.87 335.8,42.39 336,35.94 336.2,27.15 336.4,29.62 336.6,30.54 336.8,30.57 337,29.72 337.2,27.31 337.4,26.44 337.6,26.47 337.8,26.5 338,26.53 338.2,26.56 338.4,27.5 338.6,29.96 338.8,30.86 339,30.89 339.2,30.03 339.4,27.63 339.6,32.98 339.8,36.46 340,39.83 340.2,36.5 340.4,33.07 340.6,27.78 340.8,30.22 341,31.12 341.2,31.14 341.4,30.29 341.6,27.89 341.8,27 342,27.02 342.2,27.04 342.4,27.06 342.6,27.08 342.8,28 343,30.44 343.2,31.33 343.4,31.35 343.6,30.49 343.8,28.09 344,36.83 344.2,43.23 344.4,46.68 344.6,40.76 344.8,33.91 345,28.19 345.2,30.61 345.4,31.5 345.6,31.51 345.8,30.66 346,28.26 346.2,27.37 346.4,27.38 346.6,27.4 346.8,27.41 347,27.42 347.2,28.33 347.4,30.75 347.6,31.64 347.8,31.65 348,30.79 348.2,28.39 348.4,35.19 348.6,38.48 348.8,39.04 349,35.81 349.2,32.23 349.4,28.45 349.6,30.87 349.8,31.75 350,31.76 350.2,30.9 350.4,28.5 350.6,27.61 350.8,27.62 351,27.63 351.2,27.64 351.4,27.65 351.6,28.55 351.8,30.96 352,31.84 352.2,31.85 352.4,30.98 352.6,33.12 352.8,40.13 353,46.08 353.2,44.62 353.4,38.47 353.6,27.73 353.8,28.63 354,31.04 354.2,31.91 354.4,31.92 354.6,31.06 354.8,28.66 355,27.77 355.2,27.78 355.4,27.78 355.6,27.79 355.8,27.79 356,28.7 356.2,31.1 356.4,31.97 356.6,31.98 356.8,31.12 357,33.38 357.2,36.87 357.4,40.14 357.6,37.95 357.8,34.6 358,27.85 358.2,28.75 358.4,31.15 358.6,32.02 358.8,32.03 359,31.16 359.2,28.77 359.4,27.88 359.6,27.88 359.8,27.89 360,27.89 360.2,27.89 360.4,28.79 360.6,31.19 360.8,32.06 361,32.07 361.2,31.2 361.4,36.29 361.6,42.81 361.8,48.17 362,42.32 362.2,35.71 362.4,27.93 362.6,28.83 362.8,31.23 363,32.1 363.2,32.1 363.4,31.24 363.6,28.84 363.8,27.95 364,27.96 364.2,27.96 364.4,27.96 364.6,27.96 364.8,28.86 365,31.26 365.2,32.13 365.4,32.13 365.6,31.26 365.8,35.02 366,38.34 366.2,39.99 366.4,36.74 366.6,33.24 366.8,27.99 367,28.89 367.2,31.28 367.4,32.15 367.6,32.15 367.8,31.29 368,28.9 368.2,28 368.4,28.01 368.6,28.01 368.8,28.01 369,28.01 369.2,28.91 369.4,31.3 369.6,32.17 369.8,32.17 370,31.31 370.2,39.32 370.4,45.35 370.6,45.84 370.8,39.91 371,32.84 371.2,28.03 371.4,28.93 371.6,31.32 371.8,32.19 372,32.19 372.2,31.33 372.4,28.93 372.6,28.04 372.8,28.04 373,28.05 373.2,28.05 373.4,28.05 373.6,28.94 373.8,31.34 374,32.2 374.2,32.2 374.4,33.01 374.6,36.54 374.8,39.78 375,38.68 375.2,35.4 375.4,28.06 375.6,28.06 375.8,28.96 376,31.35 376.2,32.22 376.4,32.22 376.6,31.35 376.8,28.96 377,28.07 377.2,28.07 377.4,28.07 377.6,28.07 377.8,28.08 378,28.97 378.2,31.36 378.4,32.23 378.6,32.23 378.8,35.26 379,41.96 379.2,47.82 379.4,43.44 379.6,37.03 379.8,28.09 380,28.09 380.2,28.98 380.4,31.37 380.6,32.24 380.8,32.24 381,31.38 381.2,28.98 381.4,28.09 381.6,28.09 381.8,28.1 382,28.1 382.2,28.1 382.4,28.99 382.6,31.38 382.8,32.25 383,32.25 383.2,34.53 383.4,37.91 383.6,40.66 383.8,37.38 384,33.94 384.2,28.11 384.4,28.11 384.6,29 384.8,31.39 385,32.26 385.2,32.26 385.4,31.39 385.6,29 385.8,28.11 386,28.11 386.2,28.11 386.4,28.12 386.6,28.12 386.8,29.01 387,31.4 387.2,32.27 387.4,32.27 387.6,38.23 387.8,44.45 388,46.89 388.2,41 388.4,34.11 388.6,28.12 388.8,28.12 389,29.02 389.2,31.41 389.4,32.27 389.6,32.27 389.8,31.41 390,29.02 390.2,28.13 390.4,28.13 390.6,28.13 390.8,28.13 391,28.13 391.2,29.02 391.4,31.42 391.6,32.28 391.8,32.49 392,36.07 392.2,39.29 392.4,39.29 392.6,36.07 392.8,32.49 393,28.14 393.2,28.14 393.4,29.03 393.6,31.42 393.8,32.29 394,32.29 394.2,31.42 394.4,29.04 394.6,28.14 394.8,28.14 395,28.15 395.2,28.15 395.4,28.15 395.6,29.04 395.8,31.43 396,32.3 396.2,34.14 396.4,41.02 396.6,46.91 396.8,44.48 397,38.26 397.2,28.15 397.4,28.15 397.6,28.15 397.8,29.05 398,31.44 398.2,32.3 398.4,32.3 398.6,31.44 398.8,29.05 399,28.16 399.2,28.16 399.4,28.16 399.6,28.16 399.8,28.16 400,29.05 400.2,31.44 400.4,32.31 400.6,34 400.8,37.43 401,40.71 401.2,37.96 401.4,34.59 401.6,28.17 401.8,28.17 402,28.17 402.2,29.06 402.4,31.45 402.6,32.31 402.8,32.32 403,31.45 403.2,29.06 403.4,28.17 403.6,28.17 403.8,28.17 404,28.17 404.2,28.17 404.4,29.07 404.6,31.46 404.8,32.32 405,37.11 405.2,43.52 405.4,47.89 405.6,42.04 405.8,35.35 406,28.18 406.2,28.18 406.4,28.18 406.6,29.07 406.8,31.46 407,32.33 407.2,32.33 407.4,31.46 407.6,29.08 407.8,28.18 408,28.19 408.2,28.19 408.4,28.19 408.6,28.19 408.8,29.08 409,31.47 409.2,32.33 409.4,35.51 409.6,38.79 409.8,39.89 410,36.67 410.2,33.13 410.4,28.19 410.6,28.19 410.8,28.19 411,29.09 411.2,31.47 411.4,32.34 411.6,32.34 411.8,31.48 412,29.09 412.2,28.2 412.4,28.2 412.6,28.2 412.8,28.2 413,28.2 413.2,29.09 413.4,31.48 413.6,33 413.8,40.06 414,45.98 414.2,45.5 414.4,39.48 414.6,28.2 414.8,28.2 415,28.21 415.2,28.21 415.4,29.1 415.6,31.49 415.8,32.35 416,32.35 416.2,31.49 416.4,29.1 416.6,28.21 416.8,28.21 417,28.21 417.2,28.21 417.4,28.21 417.6,29.1 417.8,31.49 418,33.45 418.2,36.95 418.4,40.19 418.6,38.55 418.8,35.24 419,28.22 419.2,28.22 419.4,28.22 419.6,28.22 419.8,29.11 420,31.5 420.2,32.36 420.4,32.36 420.6,31.5 420.8,29.11 421,28.22 421.2,28.22 421.4,28.22 421.6,28.22 421.8,28.22 422,29.12 422.2,31.5 422.4,35.98 422.6,42.57 422.8,48.41 423,43.07 423.2,36.57 423.4,28.23 423.6,28.23 423.8,28.23 424,28.23 424.2,29.12 424.4,31.51 424.6,32.38 424.8,32.38 425,31.51 425.2,29.13 425.4,28.23 425.6,28.24 425.8,28.24 426,28.24 426.2,28.24 426.4,29.13 426.6,31.52 426.8,34.96 427,38.3 427.2,40.49 427.4,37.24 427.6,33.77 427.8,28.24 428,28.24 428.2,28.24 428.4,28.24 428.6,29.13 428.8,31.52 429,32.39 429.2,32.39 429.4,31.52 429.6,29.14 429.8,28.25 430,28.25 430.2,28.25 430.4,28.25 430.6,28.25 430.8,29.14 431,31.53 431.2,38.94 431.4,45.05 431.6,46.51 431.8,40.61 432,33.64 432.2,28.25 432.4,28.25 432.6,28.26 432.8,28.26 433,29.15 433.2,31.53 433.4,32.4 433.6,32.4 433.8,31.54 434,29.15 434.2,28.26 434.4,28.26 434.6,28.26 434.8,28.26 435,28.26 435.2,29.15 435.4,32.91 435.6,36.47 435.8,39.68 436,39.13 436.2,35.89 436.4,28.27 436.6,28.27 436.8,28.27 437,28.27 437.2,28.27 437.4,29.16 437.6,31.55 437.8,32.41 438,32.41 438.2,31.55 438.4,29.16 438.6,28.27 438.8,28.27 439,28.27 439.2,28.27 439.4,28.27 439.6,29.17 439.8,34.84 440,41.62 440.2,47.49 440.4,44.09 440.6,37.79 440.8,28.28 441,28.28 441.2,28.28 441.4,28.28 441.6,28.28 441.8,29.17 442,31.56 442.2,32.42 442.4,32.42 442.6,31.56 442.8,29.17 443,28.28 443.2,28.28 443.4,28.29 443.6,28.29 443.8,28.29 444,29.18 444.2,34.41 444.4,37.81 444.6,41.1 444.8,37.81 445,34.41 445.2,28.29 445.4,28.29 445.6,28.29 445.8,28.29 446,28.29 446.2,29.18 446.4,31.57 446.6,32.43 446.8,32.43 447,31.57 447.2,29.19 447.4,28.3 447.6,28.3 447.8,28.3 448,28.3 448.2,28.3 448.4,29.19 448.6,37.81 448.8,44.11 449,47.51 449.2,41.65 449.4,34.87 449.6,28.3 449.8,28.3 450,28.3 450.2,28.3 450.4,28.3 450.6,29.2 450.8,31.58 451,32.45 451.2,32.45 451.4,31.58 451.6,29.2 451.8,28.31 452,28.31 452.2,28.31 452.4,28.31 452.6,28.31 452.8,29.2 453,35.93 453.2,39.17 453.4,39.72 453.6,36.52 453.8,32.96 454,28.31 454.2,28.32 454.4,28.32 454.6,28.32 454.8,28.32 455,29.21 455.2,31.59 455.4,32.46 455.6,32.46 455.8,31.59 456,29.21 456.2,28.32 456.4,28.32 456.6,28.32 456.8,28.32 457,28.32 457.2,33.71 457.4,40.67 457.6,46.56 457.8,45.11 458,39 458.2,29.22 458.4,28.33 458.6,28.33 458.8,28.33 459,28.33 459.2,28.33 459.4,29.22 459.6,31.61 459.8,32.47 460,32.47 460.2,31.61 460.4,29.22 460.6,28.33 460.8,28.33 461,28.33 461.2,28.33 461.4,28.34 461.6,33.86 461.8,37.32 462,40.58 462.2,38.38 462.4,35.05 462.6,29.23 462.8,28.34 463,28.34 463.2,28.34 463.4,28.34 463.6,28.34 463.8,29.23 464,31.62 464.2,32.48 464.4,32.48 464.6,31.62 464.8,29.23 465,28.35 465.2,28.35 465.4,28.35 465.6,28.35 465.8,28.35 466,36.68 466.2,43.17 466.4,48.5 466.6,42.68 466.8,36.09 467,29.24 467.2,28.35 467.4,28.35 467.6,28.35 467.8,28.35 468,28.35 468.2,29.24 468.4,31.63 468.6,32.49 468.8,32.49 469,31.63 469.2,29.25 469.4,28.36 469.6,28.36 469.8,28.36 470,28.36 470.2,28.36 470.4,35.37 470.6,38.67 470.8,40.32 471,37.08 471.2,33.59 471.4,29.25 471.6,28.36 471.8,28.36 472,28.36 472.2,28.37 472.4,28.37 472.6,29.26 472.8,31.64 473,32.5 473.2,32.5 473.4,31.64 473.6,29.26 473.8,28.37 474,28.37 474.2,28.37 474.4,28.37 474.6,28.37 474.8,39.63 475,45.63 475.2,46.12 475.4,40.21 475.6,33.17 475.8,29.26 476,28.38 476.2,28.38 476.4,28.38 476.6,28.38 476.8,28.38 477,29.27 477.2,31.65 477.4,32.52 477.6,32.52 477.8,31.65 478,29.27 478.2,28.38 478.4,28.38 478.6,28.38 478.8,28.38 479,33.32 479.2,36.84 479.4,40.06 479.6,38.97 479.8,35.7 480,31.66 480.2,29.28 480.4,28.39 480.6,28.39 480.8,28.39 481,28.39 481.2,28.39 481.4,29.28 481.6,31.66 481.8,32.53 482,32.53 482.2,31.67 482.4,29.28 482.6,28.39 482.8,28.39 483,28.4 483.2,28.4 483.4,35.55 483.6,42.22 483.8,48.06 484,43.7 484.2,37.31 484.4,31.67 484.6,29.29 484.8,28.4 485,28.4 485.2,28.4 485.4,28.4 485.6,28.4 485.8,29.29 486,31.68 486.2,32.54 486.4,32.54 486.6,31.68 486.8,29.3 487,28.41 487.2,28.41 487.4,28.97 487.6,30.1 487.8,37.42 488,41.67 488.2,45.23 488.4,43.15 488.6,41 488.8,39.73 489,38.67 489.2,38.98 489.4,40.07 489.6,41.16 489.8,42.25 490,43.33 490.2,45.14 490.4,48.12 490.6,49.83 490.8,50.85 491,51.2 491.2,50.43 491.4,50.82 491.6,51.87 491.8,52.92 492,53.96 492.2,62 492.4,67.14 492.6,69.6 492.8,66.55 493,62.99 493.2,62.22 493.4,61.72 493.6,62.18 493.8,63.18 494,64.19 494.2,65.18 494.4,66.18 494.6,67.66 494.8,69.92 495,71.32 495.2,72.25 495.4,72.73 495.6,72.47 495.8,72.99 496,73.94 496.2,74.89 496.4,77.8 496.6,80.27 496.8,82.51 497,83.31 497.2,82.79 497.4,82.19 497.6,82.64 497.8,82.6 498,83.16 498.2,84.05 498.4,84.93 498.6,85.8 498.8,86.67 499,87.81 499.2,89.39 499.4,90.46 499.6,91.26 499.8,91.81 500,91.95 500.2,92.52 500.4,93.33 500.6,94.12 500.8,96.3 501,98.57 501.2,100.49 501.4,100.58 501.6,99.95 501.8,99.46 502,99.99 502.2,100.26 502.4,100.8 502.6,101.48 502.8,102.14 503,102.79 503.2,103.42 503.4,104.14 503.6,105.02 503.8,105.66 504,106.17 504.2,106.56 504.4,106.77 504.6,107.09 504.8,107.39 504.8,120.63 504.6,120.83 504.4,121.09 504.2,121.33 504,121.65 503.8,122.01 503.6,122.43 503.4,122.93 503.2,123.39 503,123.82 502.8,124.27 502.6,124.73 502.4,125.21 502.2,125.64 502,126 501.8,126.44 501.6,126.33 501.4,126.04 501.2,126.16 501,127.45 500.8,128.78 500.6,129.84 500.4,130.4 500.2,130.95 500,131.44 499.8,131.81 499.6,132.29 499.4,132.86 499.2,133.52 499,134.34 498.8,135.02 498.6,135.63 498.4,136.23 498.2,136.84 498,137.46 497.8,137.98 497.6,138.31 497.4,138.79 497.2,138.67 497,138.45 496.8,139.04 496.6,140.49 496.4,141.93 496.2,143.2 496,143.86 495.8,144.53 495.6,145.05 495.4,145.34 495.2,145.87 495,146.53 494.8,147.34 494.6,148.42 494.4,149.26 494.2,149.95 494,150.64 493.8,151.34 493.6,152.04 493.4,152.57 493.2,152.8 493,152.73 492.8,151.02 492.6,149.18 492.4,150.83 492.2,154.03 492,157.74 491.8,158.47 491.6,159.2 491.4,159.93 491.2,160.46 491,160.63 490.8,161.15 490.6,161.87 490.4,162.82 490.2,164.15 490,165.13 489.8,165.88 489.6,166.64 489.4,167.4 489.2,168.16 489,168.67 488.8,168.77 488.6,168.51 488.4,167.53 488.2,166.38 488,168.67 487.8,171.2 487.6,174.33 487.4,175.11 487.2,175.5 487,175.5 486.8,175.22 486.6,174.49 486.4,174.22 486.2,174.22 486,174.49 485.8,175.22 485.6,175.5 485.4,175.5 485.2,175.5 485,175.5 484.8,175.5 484.6,175.22 484.4,174.49 484.2,171.79 484,168.09 483.8,165.33 483.6,169.03 483.4,172.69 483.2,175.5 483,175.5 482.8,175.5 482.6,175.5 482.4,175.22 482.2,174.49 482,174.22 481.8,174.22 481.6,174.49 481.4,175.22 481.2,175.5 481,175.5 480.8,175.5 480.6,175.5 480.4,175.5 480.2,175.22 480,174.49 479.8,172.62 479.6,170.71 479.4,170.04 479.2,172.01 479,173.82 478.8,175.5 478.6,175.5 478.4,175.5 478.2,175.5 478,175.22 477.8,174.49 477.6,174.22 477.4,174.22 477.2,174.49 477,175.22 476.8,175.5 476.6,175.5 476.4,175.5 476.2,175.5 476,175.5 475.8,175.22 475.6,173.9 475.4,170.28 475.2,166.55 475,166.86 474.8,170.58 474.6,175.5 474.4,175.5 474.2,175.5 474,175.5 473.8,175.5 473.6,175.22 473.4,174.49 473.2,174.22 473,174.22 472.8,174.49 472.6,175.22 472.4,175.5 472.2,175.5 472,175.5 471.8,175.5 471.6,175.5 471.4,175.22 471.2,173.67 471,171.85 470.8,169.87 470.6,170.87 470.4,172.78 470.2,175.5 470,175.5 469.8,175.5 469.6,175.5 469.4,175.5 469.2,175.22 469,174.49 468.8,174.22 468.6,174.22 468.4,174.49 468.2,175.22 468,175.5 467.8,175.5 467.6,175.5 467.4,175.5 467.2,175.5 467,175.22 466.8,172.39 466.6,168.72 466.4,165.03 466.2,168.41 466,172.09 465.8,175.5 465.6,175.5 465.4,175.5 465.2,175.5 465,175.5 464.8,175.22 464.6,174.49 464.4,174.22 464.2,174.22 464,174.49 463.8,175.22 463.6,175.5 463.4,175.5 463.2,175.5 463,175.5 462.8,175.5 462.6,175.22 462.4,172.93 462.2,171.04 462,169.71 461.8,171.69 461.6,173.53 461.4,175.5 461.2,175.5 461,175.5 460.8,175.5 460.6,175.5 460.4,175.22 460.2,174.49 460,174.22 459.8,174.22 459.6,174.49 459.4,175.22 459.2,175.5 459,175.5 458.8,175.5 458.6,175.5 458.4,175.5 458.2,175.22 458,170.88 457.8,167.17 457.6,166.24 457.4,169.97 457.2,173.59 457,175.5 456.8,175.5 456.6,175.5 456.4,175.5 456.2,175.5 456,175.22 455.8,174.49 455.6,174.22 455.4,174.22 455.2,174.49 455,175.22 454.8,175.5 454.6,175.5 454.4,175.5 454.2,175.5 454,175.5 453.8,173.97 453.6,172.17 453.4,170.21 453.2,170.54 453,172.47 452.8,175.22 452.6,175.5 452.4,175.5 452.2,175.5 452,175.5 451.8,175.5 451.6,175.22 451.4,174.49 451.2,174.22 451,174.22 450.8,174.49 450.6,175.22 450.4,175.5 450.2,175.5 450,175.5 449.8,175.5 449.6,175.5 449.4,172.99 449.2,169.34 449,165.63 448.8,167.78 448.6,171.48 448.4,175.22 448.2,175.5 448,175.5 447.8,175.5 447.6,175.5 447.4,175.5 447.2,175.22 447,174.49 446.8,174.22 446.6,174.22 446.4,174.49 446.2,175.22 446,175.5 445.8,175.5 445.6,175.5 445.4,175.5 445.2,175.5 445,173.23 444.8,171.36 444.6,169.36 444.4,171.36 444.2,173.23 444,175.22 443.8,175.5 443.6,175.5 443.4,175.5 443.2,175.5 443,175.5 442.8,175.22 442.6,174.49 442.4,174.22 442.2,174.22 442,174.49 441.8,175.22 441.6,175.5 441.4,175.5 441.2,175.5 441,175.5 440.8,175.5 440.6,171.48 440.4,167.78 440.2,165.63 440,169.34 439.8,172.99 439.6,175.22 439.4,175.5 439.2,175.5 439,175.5 438.8,175.5 438.6,175.5 438.4,175.22 438.2,174.49 438,174.22 437.8,174.22 437.6,174.49 437.4,175.22 437.2,175.5 437,175.5 436.8,175.5 436.6,175.5 436.4,175.5 436.2,172.47 436,170.54 435.8,170.21 435.6,172.17 435.4,173.97 435.2,175.22 435,175.5 434.8,175.5 434.6,175.5 434.4,175.5 434.2,175.5 434,175.22 433.8,174.49 433.6,174.22 433.4,174.22 433.2,174.49 433,175.22 432.8,175.5 432.6,175.5 432.4,175.5 432.2,175.5 432,173.59 431.8,169.97 431.6,166.24 431.4,167.17 431.2,170.88 431,174.49 430.8,175.22 430.6,175.5 430.4,175.5 430.2,175.5 430,175.5 429.8,175.5 429.6,175.22 429.4,174.49 429.2,174.22 429,174.22 428.8,174.49 428.6,175.22 428.4,175.5 428.2,175.5 428,175.5 427.8,175.5 427.6,173.53 427.4,171.69 427.2,169.71 427,171.04 426.8,172.93 426.6,174.49 426.4,175.22 426.2,175.5 426,175.5 425.8,175.5 425.6,175.5 425.4,175.5 425.2,175.22 425,174.49 424.8,174.22 424.6,174.22 424.4,174.49 424.2,175.22 424,175.5 423.8,175.5 423.6,175.5 423.4,175.5 423.2,172.09 423,168.41 422.8,165.03 422.6,168.72 422.4,172.39 422.2,174.49 422,175.22 421.8,175.5 421.6,175.5 421.4,175.5 421.2,175.5 421,175.5 420.8,175.22 420.6,174.49 420.4,174.22 420.2,174.22 420,174.49 419.8,175.22 419.6,175.5 419.4,175.5 419.2,175.5 419,175.5 418.8,172.78 418.6,170.87 418.4,169.87 418.2,171.85 418,173.67 417.8,174.49 417.6,175.22 417.4,175.5 417.2,175.5 417,175.5 416.8,175.5 416.6,175.5 416.4,175.22 416.2,174.49 416,174.22 415.8,174.22 415.6,174.49 415.4,175.22 415.2,175.5 415,175.5 414.8,175.5 414.6,175.5 414.4,170.58 414.2,166.86 414,166.55 413.8,170.28 413.6,173.9 413.4,174.49 413.2,175.22 413,175.5 412.8,175.5 412.6,175.5 412.4,175.5 412.2,175.5 412,175.22 411.8,174.49 411.6,174.22 411.4,174.22 411.2,174.49 411,175.22 410.8,175.5 410.6,175.5 410.4,175.5 410.2,173.82 410,172.01 409.8,170.04 409.6,170.71 409.4,172.62 409.2,174.22 409,174.49 408.8,175.22 408.6,175.5 408.4,175.5 408.2,175.5 408,175.5 407.8,175.5 407.6,175.22 407.4,174.49 407.2,174.22 407,174.22 406.8,174.49 406.6,175.22 406.4,175.5 406.2,175.5 406,175.5 405.8,172.69 405.6,169.03 405.4,165.33 405.2,168.09 405,171.79 404.8,174.22 404.6,174.49 404.4,175.22 404.2,175.5 404,175.5 403.8,175.5 403.6,175.5 403.4,175.5 403.2,175.22 403,174.49 402.8,174.22 402.6,174.22 402.4,174.49 402.2,175.22 402,175.5 401.8,175.5 401.6,175.5 401.4,173.08 401.2,171.2 401,169.53 400.8,171.53 400.6,173.38 400.4,174.22 400.2,174.49 400,175.22 399.8,175.5 399.6,175.5 399.4,175.5 399.2,175.5 399,175.5 398.8,175.22 398.6,174.49 398.4,174.22 398.2,174.22 398,174.49 397.8,175.22 397.6,175.5 397.4,175.5 397.2,175.5 397,171.18 396.8,167.48 396.6,165.94 396.4,169.66 396.2,173.29 396,174.22 395.8,174.49 395.6,175.22 395.4,175.5 395.2,175.5 395,175.5 394.8,175.5 394.6,175.5 394.4,175.22 394.2,174.49 394,174.22 393.8,174.22 393.6,174.49 393.4,175.22 393.2,175.5 393,175.5 392.8,174.12 392.6,172.32 392.4,170.38 392.2,170.38 392,172.32 391.8,174.12 391.6,174.22 391.4,174.49 391.2,175.22 391,175.5 390.8,175.5 390.6,175.5 390.4,175.5 390.2,175.5 390,175.22 389.8,174.49 389.6,174.22 389.4,174.22 389.2,174.49 389,175.22 388.8,175.5 388.6,175.5 388.4,173.29 388.2,169.66 388,165.94 387.8,167.48 387.6,171.18 387.4,174.22 387.2,174.22 387,174.49 386.8,175.22 386.6,175.5 386.4,175.5 386.2,175.5 386,175.5 385.8,175.5 385.6,175.22 385.4,174.49 385.2,174.22 385,174.22 384.8,174.49 384.6,175.22 384.4,175.5 384.2,175.5 384,173.38 383.8,171.53 383.6,169.53 383.4,171.2 383.2,173.08 383,174.22 382.8,174.22 382.6,174.49 382.4,175.22 382.2,175.5 382,175.5 381.8,175.5 381.6,175.5 381.4,175.5 381.2,175.22 381,174.49 380.8,174.22 380.6,174.22 380.4,174.49 380.2,175.22 380,175.5 379.8,175.5 379.6,171.79 379.4,168.09 379.2,165.33 379,169.03 378.8,172.69 378.6,174.22 378.4,174.22 378.2,174.49 378,175.22 377.8,175.5 377.6,175.5 377.4,175.5 377.2,175.5 377,175.5 376.8,175.22 376.6,174.49 376.4,174.22 376.2,174.22 376,174.49 375.8,175.22 375.6,175.5 375.4,175.5 375.2,172.62 375,170.71 374.8,170.04 374.6,172.01 374.4,173.82 374.2,174.22 374,174.22 373.8,174.49 373.6,175.22 373.4,175.5 373.2,175.5 373,175.5 372.8,175.5 372.6,175.5 372.4,175.22 372.2,174.49 372,174.22 371.8,174.22 371.6,174.49 371.4,175.22 371.2,175.5 371,173.9 370.8,170.28 370.6,166.55 370.4,166.86 370.2,170.58 370,174.49 369.8,174.22 369.6,174.22 369.4,174.49 369.2,175.22 369,175.5 368.8,175.5 368.6,175.5 368.4,175.5 368.2,175.5 368,175.22 367.8,174.49 367.6,174.22 367.4,174.22 367.2,174.49 367,175.22 366.8,175.5 366.6,173.67 366.4,171.85 366.2,169.87 366,170.87 365.8,172.78 365.6,174.49 365.4,174.22 365.2,174.22 365,174.49 364.8,175.22 364.6,175.5 364.4,175.5 364.2,175.5 364,175.5 363.8,175.5 363.6,175.22 363.4,174.49 363.2,174.22 363,174.22 362.8,174.49 362.6,175.22 362.4,175.5 362.2,172.39 362,168.72 361.8,165.03 361.6,168.41 361.4,172.09 361.2,174.49 361,174.22 360.8,174.22 360.6,174.49 360.4,175.22 360.2,175.5 360,175.5 359.8,175.5 359.6,175.5 359.4,175.5 359.2,175.22 359,174.49 358.8,174.22 358.6,174.22 358.4,174.49 358.2,175.22 358,175.5 357.8,172.93 357.6,171.04 357.4,169.71 357.2,171.69 357,173.53 356.8,174.49 356.6,174.22 356.4,174.22 356.2,174.49 356,175.22 355.8,175.5 355.6,175.5 355.4,175.5 355.2,175.5 355,175.5 354.8,175.22 354.6,174.49 354.4,174.22 354.2,174.22 354,174.49 353.8,175.22 353.6,175.5 353.4,170.88 353.2,167.17 353,166.24 352.8,169.97 352.6,173.59 352.4,174.49 352.2,174.22 352,174.22 351.8,174.49 351.6,175.22 351.4,175.5 351.2,175.5 351,175.5 350.8,175.5 350.6,175.5 350.4,175.22 350.2,174.49 350,174.22 349.8,174.22 349.6,174.49 349.4,175.22 349.2,173.97 349,172.17 348.8,170.21 348.6,170.54 348.4,172.47 348.2,175.22 348,174.49 347.8,174.22 347.6,174.22 347.4,174.49 347.2,175.22 347,175.5 346.8,175.5 346.6,175.5 346.4,175.5 346.2,175.5 346,175.22 345.8,174.49 345.6,174.22 345.4,174.22 345.2,174.49 345,175.22 344.8,172.99 344.6,169.34 344.4,165.63 344.2,167.78 344,171.48 343.8,175.22 343.6,174.49 343.4,174.22 343.2,174.22 343,174.49 342.8,175.22 342.6,175.5 342.4,175.5 342.2,175.5 342,175.5 341.8,175.5 341.6,175.22 341.4,174.49 341.2,174.22 341,174.22 340.8,174.49 340.6,175.22 340.4,173.23 340.2,171.36 340,169.36 339.8,171.36 339.6,173.23 339.4,175.22 339.2,174.49 339,174.22 338.8,174.22 338.6,174.49 338.4,175.22 338.2,175.5 338,175.5 337.8,175.5 337.6,175.5 337.4,175.5 337.2,175.22 337,174.49 336.8,174.22 336.6,174.22 336.4,174.49 336.2,175.22 336,171.48 335.8,167.78 335.6,165.63 335.4,168.94 335.2,172.12 335,173.87 334.8,172.7 334.6,171.99 334.4,171.54 334.2,171.34 334,171.58 333.8,171.38 333.6,170.91 333.4,170.44 333.2,169.97 333,169.5 332.8,168.78 332.6,167.65 332.4,166.95 332.2,166.48 332,166.24 331.8,166.39 331.6,163.58 331.4,161.51 331.2,160.78 331,161.94 330.8,162.93 330.6,163.46 330.4,162.37 330.2,161.67 330,161.17 329.8,160.88 329.6,160.94 329.4,160.64 329.2,160.13 329,159.61 328.8,159.09 328.6,158.56 328.4,157.84 328.2,156.8 328,156.09 327.8,155.56 327.6,155.22 327.4,154.09 327.2,151.18 327,148.27 326.8,148.39 326.6,150.25 326.4,152.59 326.2,151.86 326,150.85 325.8,150.13 325.6,149.56 325.4,149.14 325.2,148.98 325,148.55 324.8,147.95 324.6,147.35 324.4,146.74 324.2,146.12 324,145.37 323.8,144.38 323.6,143.63 323.4,143 323.2,142.49 323,141.42 322.8,139.97 322.6,138.5 322.4,138.44 322.2,138.57 322,138.91 321.8,138.1 321.6,137.11 321.4,136.29 321.2,135.56 321,134.91 320.8,134.38 320.6,133.68 320.4,132.87 320.2,132.04 320,131.19 319.8,130.31 319.6,129.33 319.4,128.23 319.2,127.21 319,126.19 318.8,125.16 318.6,123.64 318.4,121.93 318.2,120.23 318,118.41Z"/>
<path fill="#3a90cd" d="M318,111.33 318.2,110.4 318.4,109.93 318.6,109.53 318.8,109.19 319,108.82 319.2,108.51 319.4,108.25 319.6,108.04 319.8,107.9 320,107.83 320.2,107.83 320.4,107.82 320.6,106.65 320.8,105.37 321,104 321.2,102.57 321.4,101.07 321.6,99.51 321.8,97.87 322,96.26 322.2,94.8 322.4,93.35 322.6,92.11 322.8,92 323,92 323.2,92.16 323.4,92.66 323.6,93.31 323.8,94.04 324,94.86 324.2,95.83 324.4,96.88 324.6,97.99 324.8,98.4 325,96.8 325.2,95.18 325.4,93.53 325.6,91.9 325.8,90.26 326,88.57 326.2,86.8 326.4,84.92 326.6,82.67 326.8,80.25 327,79.08 327.2,80.22 327.4,81.32 327.6,82.23 327.8,82.97 328,83.77 328.2,84.6 328.4,85.5 328.6,86.6 328.8,87.77 329,89.05 329.2,88.36 329.4,85.35 329.6,82.22 329.8,78.96 330,75.75 330.2,72.49 330.4,69.15 330.6,65.81 330.8,62.92 331,60.32 331.2,57.83 331.4,57.31 331.6,58.3 331.8,59.51 332,61.23 332.2,63.53 332.4,65.95 332.6,68.46 332.8,71.12 333,73.97 333.2,76.86 333.4,79.77 333.6,78.72 333.8,75.88 334,73.03 334.2,70.18 334.4,67.49 334.6,64.75 334.8,61.94 335,59.12 335.2,55.7 335.4,51.89 335.6,47.82 335.8,49.82 336,53.1 336.2,56.19 336.4,58.62 336.6,60.99 336.8,63.34 337,65.67 337.2,68.12 337.4,70.72 337.6,73.37 337.8,76.08 338,72.98 338.2,69.14 338.4,65.24 338.6,61.36 338.8,57.65 339,53.94 339.2,50.27 339.4,46.83 339.6,44.29 339.8,41.97 340,39.83 340.2,42.01 340.4,44.37 340.6,46.94 340.8,50.41 341,54.11 341.2,57.84 341.4,61.57 341.6,65.46 341.8,69.37 342,73.22 342.2,76.32 342.4,73.65 342.6,71.04 342.8,68.49 343,66.08 343.2,63.8 343.4,61.51 343.6,59.19 343.8,56.82 344,53.8 344.2,50.57 344.4,48.61 344.6,51.96 344.8,55.13 345,57.97 345.2,60.25 345.4,62.57 345.6,64.87 345.8,67.16 346,69.69 346.2,72.26 346.4,74.9 346.6,75.6 346.8,71.82 347,67.98 347.2,64.08 347.4,60.32 347.6,56.64 347.8,52.97 348,49.35 348.2,46.34 348.4,43.9 348.6,41.67 348.8,41.32 349,43.54 349.2,45.96 349.4,48.84 349.6,52.42 349.8,56.1 350,59.8 350.2,63.52 350.4,67.43 350.6,71.28 350.8,75.07 351,75.46 351.2,72.83 351.4,70.26 351.6,67.74 351.8,65.44 352,63.16 352.2,60.87 352.4,58.59 352.6,55.93 352.8,52.82 353,49.53 353.2,50.37 353.4,53.63 353.6,56.69 353.8,59.16 354,61.49 354.2,63.78 354.4,66.06 354.6,68.42 354.8,70.96 355,73.54 355.2,76.2 355.4,74.21 355.6,70.42 355.8,66.56 356,62.69 356.2,59.01 356.4,55.34 356.6,51.69 356.8,48.21 357,45.56 357.2,43.21 357.4,41.06 357.6,42.48 357.8,44.77 358,47.26 358.2,50.51 358.4,54.15 358.6,57.83 358.8,61.51 359,65.31 359.2,69.18 359.4,73 359.6,76.74 359.8,74.47 360,71.88 360.2,69.33 360.4,66.9 360.6,64.63 360.8,62.35 361,60.05 361.2,57.78 361.4,54.81 361.6,51.63 361.8,48.55 362,51.91 362.2,55.08 362.4,58.02 362.6,60.26 362.8,62.56 363,64.84 363.2,67.11 363.4,69.57 363.6,72.12 363.8,74.72 364,76.47 364.2,72.72 364.4,68.91 364.6,65.04 364.8,61.26 365,57.59 365.2,53.93 365.4,50.3 365.6,47.14 365.8,44.68 366,42.42 366.2,41.36 366.4,43.53 366.6,45.89 366.8,48.62 367,52.12 367.2,55.77 367.4,59.44 367.6,63.12 367.8,67 368,70.84 368.2,74.63 368.4,76.08 368.6,73.44 368.8,70.87 369,68.35 369.2,66.02 369.4,63.75 369.6,61.46 369.8,59.16 370,56.64 370.2,53.58 370.4,50.33 370.6,50.05 370.8,53.32 371,56.4 371.2,58.99 371.4,61.28 371.6,63.57 371.8,65.84 372,68.15 372.2,70.67 372.4,73.24 372.6,75.87 372.8,74.96 373,71.18 373.2,67.35 373.4,63.47 373.6,59.78 373.8,56.12 374,52.47 374.2,48.94 374.4,46.15 374.6,43.78 374.8,41.59 375,42.3 375.2,44.55 375.4,47 375.6,50.07 375.8,53.69 376,57.35 376.2,61.02 376.4,64.78 376.6,68.64 376.8,72.46 377,76.21 377.2,75 377.4,72.39 377.6,69.85 377.8,67.37 378,65.11 378.2,62.84 378.4,60.54 378.6,58.3 378.8,55.43 379,52.29 379.2,48.96 379.4,51.48 379.6,54.67 379.8,57.66 380,59.96 380.2,62.27 380.4,64.55 380.6,66.81 380.8,69.23 381,71.76 381.2,74.35 381.4,77.01 381.6,73.42 381.8,69.62 382,65.76 382.2,61.95 382.4,58.29 382.6,54.63 382.8,51 383,47.67 383.2,45.17 383.4,42.88 383.6,41.11 383.8,43.25 384,45.58 384.2,48.15 384.4,51.6 384.6,55.24 384.8,58.9 385,62.57 385.2,66.42 385.4,70.26 385.6,74.05 385.8,76.57 386,73.92 386.2,71.35 386.4,68.82 386.6,66.45 386.8,64.19 387,61.91 387.2,59.6 387.4,57.2 387.6,54.18 387.8,50.95 388,49.56 388.2,52.86 388.4,55.97 388.6,58.69 388.8,60.95 389,63.24 389.2,65.51 389.4,67.79 389.6,70.3 389.8,72.85 390,75.47 390.2,75.62 390.4,71.86 390.6,68.04 390.8,64.16 391,60.45 391.2,56.78 391.4,53.13 391.6,49.56 391.8,46.63 392,44.22 392.2,42.01 392.4,42.01 392.6,44.23 392.8,46.63 393,49.56 393.2,53.14 393.4,56.79 393.6,60.45 393.8,64.17 394,68.04 394.2,71.87 394.4,75.62 394.6,75.47 394.8,72.86 395,70.31 395.2,67.8 395.4,65.52 395.6,63.26 395.8,60.97 396,58.71 396.2,55.99 396.4,52.88 396.6,49.58 396.8,50.97 397,54.2 397.2,57.22 397.4,59.62 397.6,61.93 397.8,64.21 398,66.47 398.2,68.84 398.4,71.37 398.6,73.95 398.8,76.59 399,74.07 399.2,70.29 399.4,66.44 399.6,62.6 399.8,58.94 400,55.28 400.2,51.64 400.4,48.2 400.6,45.63 400.8,43.3 401,41.16 401.2,42.94 401.4,45.23 401.6,47.72 401.8,51.05 402,54.67 402.2,58.33 402.4,62 402.6,65.8 402.8,69.66 403,73.45 403.2,77.04 403.4,74.39 403.6,71.8 403.8,69.27 404,66.86 404.2,64.6 404.4,62.32 404.6,60.02 404.8,57.72 405,54.73 405.2,51.54 405.4,49.03 405.6,52.36 405.8,55.5 406,58.37 406.2,60.6 406.4,62.9 406.6,65.17 406.8,67.43 407,69.9 407.2,72.45 407.4,75.05 407.6,76.26 407.8,72.52 408,68.71 408.2,64.84 408.4,61.09 408.6,57.43 408.8,53.78 409,50.16 409.2,47.1 409.4,44.65 409.6,42.41 409.8,41.7 410,43.89 410.2,46.26 410.4,49.05 410.6,52.57 410.8,56.21 411,59.88 411.2,63.55 411.4,67.43 411.6,71.26 411.8,75.03 412,75.94 412.2,73.31 412.4,70.75 412.6,68.24 412.8,65.93 413,63.67 413.2,61.39 413.4,59.1 413.6,56.52 413.8,53.45 414,50.18 414.2,50.46 414.4,53.71 414.6,56.77 414.8,59.28 415,61.58 415.2,63.86 415.4,66.12 415.6,68.45 415.8,70.97 416,73.54 416.2,76.17 416.4,74.72 416.6,70.95 416.8,67.12 417,63.24 417.2,59.58 417.4,55.92 417.6,52.28 417.8,48.79 418,46.07 418.2,43.72 418.4,41.55 418.6,42.61 418.8,44.87 419,47.33 419.2,50.48 419.4,54.1 419.6,57.75 419.8,61.42 420,65.19 420.2,69.04 420.4,72.85 420.6,76.58 420.8,74.85 421,72.25 421.2,69.72 421.4,67.27 421.6,65 421.8,62.74 422,60.44 422.2,58.22 422.4,55.28 422.6,52.12 422.8,48.79 423,51.85 423.2,55.03 423.4,57.99 423.6,60.25 423.8,62.55 424,64.82 424.2,67.08 424.4,69.51 424.6,72.04 424.8,74.64 425,76.9 425.2,73.17 425.4,69.37 425.6,65.52 425.8,61.73 426,58.07 426.2,54.42 426.4,50.8 426.6,47.56 426.8,45.09 427,42.81 427.2,41.4 427.4,43.55 427.6,45.89 427.8,48.53 428,52 428.2,55.64 428.4,59.3 428.6,62.96 428.8,66.81 429,70.65 429.2,74.43 429.4,76.41 429.6,73.77 429.8,71.2 430,68.68 430.2,66.34 430.4,64.07 430.6,61.8 430.8,59.49 431,57.04 431.2,54.01 431.4,50.77 431.6,49.94 431.8,53.22 432,56.31 432.2,58.95 432.4,61.23 432.6,63.51 432.8,65.78 433,68.06 433.2,70.57 433.4,73.13 433.6,75.75 433.8,75.36 434,71.61 434.2,67.79 434.4,63.92 434.6,60.22 434.8,56.56 435,52.92 435.2,49.38 435.4,46.52 435.6,44.14 435.8,41.94 436,42.3 436.2,44.52 436.4,46.95 436.6,49.93 436.8,53.53 437,57.18 437.2,60.84 437.4,64.57 437.6,68.43 437.8,72.24 438,75.99 438.2,75.31 438.4,72.71 438.6,70.16 438.8,67.67 439,65.41 439.2,63.14 439.4,60.86 439.6,58.61 439.8,55.82 440,52.7 440.2,49.39 440.4,51.34 440.6,54.55 440.8,57.55 441,59.89 441.2,62.2 441.4,64.47 441.6,66.73 441.8,69.12 442,71.64 442.2,74.22 442.4,76.87 442.6,73.82 442.8,70.03 443,66.19 443.2,62.37 443.4,58.71 443.6,55.06 443.8,51.43 444,48.03 444.2,45.52 444.4,43.22 444.6,41.1 444.8,43.22 445,45.53 445.2,48.04 445.4,51.44 445.6,55.06 445.8,58.72 446,62.38 446.2,66.2 446.4,70.04 446.6,73.82 446.8,76.87 447,74.23 447.2,71.65 447.4,69.13 447.6,66.74 447.8,64.48 448,62.21 448.2,59.91 448.4,57.56 448.6,54.56 448.8,51.36 449,49.41 449.2,52.72 449.4,55.84 449.6,58.63 449.8,60.87 450,63.16 450.2,65.43 450.4,67.69 450.6,70.18 450.8,72.72 451,75.33 451.2,76.01 451.4,72.26 451.6,68.45 451.8,64.59 452,60.86 452.2,57.2 452.4,53.56 452.6,49.97 452.8,46.98 453,44.56 453.2,42.34 453.4,41.98 453.6,44.18 453.8,46.56 454,49.42 454.2,52.96 454.4,56.6 454.6,60.26 454.8,63.95 455,67.82 455.2,71.64 455.4,75.39 455.6,75.77 455.8,73.16 456,70.61 456.2,68.1 456.4,65.81 456.6,63.55 456.8,61.27 457,59 457.2,56.35 457.4,53.27 457.6,49.99 457.8,50.83 458,54.06 458.2,57.09 458.4,59.54 458.6,61.85 458.8,64.12 459,66.38 459.2,68.73 459.4,71.24 459.6,73.81 459.8,76.44 460,74.47 460.2,70.69 460.4,66.86 460.6,63.01 460.8,59.35 461,55.7 461.2,52.07 461.4,48.6 461.6,45.97 461.8,43.63 462,41.48 462.2,42.9 462.4,45.17 462.6,47.64 462.8,50.87 463,54.49 463.2,58.14 463.4,61.8 463.6,65.58 463.8,69.43 464,73.22 464.2,76.95 464.4,74.69 464.6,72.1 464.8,69.57 465,67.14 465.2,64.89 465.4,62.62 465.6,60.32 465.8,58.07 466,55.11 466.2,51.94 466.4,48.88 466.6,52.21 466.8,55.37 467,58.3 467.2,60.52 467.4,62.81 467.6,65.08 467.8,67.34 468,69.78 468.2,72.32 468.4,74.91 468.6,76.64 468.8,72.91 469,69.12 469.2,65.27 469.4,61.5 469.6,57.85 469.8,54.2 470,50.59 470.2,47.44 470.4,44.99 470.6,42.73 470.8,41.68 471,43.84 471.2,46.19 471.4,48.9 471.6,52.39 471.8,56.02 472,59.68 472.2,63.33 472.4,67.2 472.6,71.03 472.8,74.79 473,76.24 473.2,73.61 473.4,71.05 473.6,68.54 473.8,66.22 474,63.96 474.2,61.68 474.4,59.39 474.6,56.88 474.8,53.83 475,50.59 475.2,50.31 475.4,53.57 475.6,56.64 475.8,59.21 476,61.49 476.2,63.77 476.4,66.03 476.6,68.34 476.8,70.85 477,73.4 477.2,76.02 477.4,75.11 477.6,71.35 477.8,67.53 478,63.66 478.2,60 478.4,56.34 478.6,52.71 478.8,49.19 479,46.41 479.2,44.05 479.4,41.87 479.6,42.58 479.8,44.81 480,47.25 480.2,50.31 480.4,53.92 480.6,57.56 480.8,61.22 481,64.96 481.2,68.82 481.4,72.62 481.6,76.35 481.8,75.15 482,72.55 482.2,70.01 482.4,67.55 482.6,65.29 482.8,63.03 483,60.74 483.2,58.51 483.4,55.65 483.6,52.52 483.8,49.2 484,51.71 484.2,54.89 484.4,57.87 484.6,60.16 484.8,62.46 485,64.73 485.2,66.99 485.4,69.39 485.6,71.92 485.8,74.5 486,77.15 486.2,73.56 486.4,69.78 486.6,65.94 486.8,62.14 487,58.49 487.2,54.84 487.4,51.64 487.6,49.22 487.8,47.68 488,46.4 488.2,45.66 488.4,48.59 488.6,51.63 488.8,54.83 489,58.74 489.2,62.72 489.4,66.64 489.6,70.46 489.8,74.34 490,78.12 490.2,81.75 490.4,84.28 490.6,82.67 490.8,81.17 491,79.78 491.2,78.57 491.4,77.48 491.6,76.44 491.8,75.43 492,74.41 492.2,73.02 492.4,71.55 492.6,71.38 492.8,74.32 493,77.06 493.2,79.47 493.4,81.54 493.6,83.56 493.8,85.52 494,87.42 494.2,89.41 494.4,91.36 494.6,93.28 494.8,93.81 495,92.27 495.2,90.77 495.4,89.33 495.6,88.05 495.8,86.88 496,85.79 496.2,84.81 496.4,84.2 496.6,83.87 496.8,83.68 497,84.45 497.2,86.13 497.4,87.84 497.6,89.69 497.8,91.72 498,93.7 498.2,95.61 498.4,97.46 498.6,99.27 498.8,101 499,102.62 499.2,102.96 499.4,102.57 499.6,102.24 499.8,101.96 500,101.8 500.2,101.67 500.4,101.57 500.6,101.52 500.8,101.4 501,101.23 501.2,101.06 501.4,101.92 501.6,103.11 501.8,104.19 502,105.11 502.2,105.96 502.4,106.76 502.6,107.52 502.8,108.24 503,108.95 503.2,109.62 503.4,110.24 503.6,110.2 503.8,110.03 504,109.89 504.2,109.78 504.4,109.7 504.6,109.62 504.8,109.5 504.8,119.71 504.6,119.76 504.4,119.86 504.2,119.95 504,120.02 503.8,120.08 503.6,120.13 503.4,120.23 503.2,120.61 503,121.01 502.8,121.42 502.6,121.85 502.4,122.31 502.2,122.82 502,123.37 501.8,123.97 501.6,124.61 501.4,125.29 501.2,125.84 501,125.96 500.8,126.09 500.6,126.21 500.4,126.35 500.2,126.5 500,126.67 499.8,126.87 499.6,127.05 499.4,127.22 499.2,127.38 499,127.84 498.8,128.84 498.6,129.88 498.4,130.96 498.2,132.02 498,133.02 497.8,134.01 497.6,134.99 497.4,135.96 497.2,136.91 497,137.85 496.8,138.42 496.6,138.6 496.4,138.72 496.2,138.78 496,138.77 495.8,138.68 495.6,138.5 495.4,138.18 495.2,137.72 495,137.22 494.8,136.7 494.6,137.01 494.4,137.89 494.2,138.79 494,139.69 493.8,140.59 493.6,141.62 493.4,142.74 493.2,143.96 493,145.28 492.8,146.69 492.6,148.19 492.4,148.37 492.2,148.01 492,147.68 491.8,147.4 491.6,147.17 491.4,147 491.2,146.89 491,146.89 490.8,146.82 490.6,146.72 490.4,146.59 490.2,148.16 490,150.19 489.8,152.27 489.6,154.38 489.4,156.28 489.2,158.08 489,159.82 488.8,161.5 488.6,163.1 488.4,164.65 488.2,166.15 488,166.16 487.8,165.95 487.6,165.62 487.4,165.16 487.2,164.25 487,162.9 486.8,161.41 486.6,159.62 486.4,157.76 486.2,155.92 486,154.16 485.8,154.94 485.6,155.69 485.4,156.44 485.2,157.13 485,157.92 484.8,158.85 484.6,159.89 484.4,161.04 484.2,162.29 484,163.64 483.8,164.7 483.6,163.29 483.4,161.97 483.2,160.74 483,159.62 482.8,158.61 482.6,157.71 482.4,156.98 482.2,156.25 482,155.5 481.8,154.74 481.6,154.55 481.4,156.38 481.2,158.23 481,160.08 480.8,161.81 480.6,163.24 480.4,164.57 480.2,165.78 480,166.88 479.8,167.89 479.6,168.8 479.4,169.08 479.2,168.2 479,167.23 478.8,166.16 478.6,164.99 478.4,163.7 478.2,162.3 478,160.7 477.8,158.84 477.6,156.99 477.4,155.16 477.2,154.48 477,155.25 476.8,156 476.6,156.75 476.4,157.43 476.2,158.3 476,159.27 475.8,160.36 475.6,161.55 475.4,162.84 475.2,164.22 475,164.1 474.8,162.73 474.6,161.45 474.4,160.26 474.2,159.18 474,158.22 473.8,157.37 473.6,156.69 473.4,155.94 473.2,155.19 473,154.42 472.8,155.31 472.6,157.15 472.4,159 472.2,160.85 472,162.42 471.8,163.81 471.6,165.09 471.4,166.25 471.2,167.31 471,168.28 470.8,169.15 470.6,168.72 470.4,167.81 470.2,166.8 470,165.68 469.8,164.46 469.6,163.13 469.4,161.69 469.2,159.92 469,158.07 468.8,156.23 468.6,154.4 468.4,154.81 468.2,155.57 468,156.31 467.8,157.03 467.6,157.78 467.4,158.69 467.2,159.71 467,160.84 466.8,162.08 466.6,163.41 466.4,164.82 466.2,163.52 466,162.18 465.8,160.94 465.6,159.8 465.4,158.77 465.2,157.85 465,157.08 464.8,156.38 464.6,155.63 464.4,154.87 464.2,154.25 464,156.07 463.8,157.92 463.6,159.77 463.4,161.55 463.2,163.01 463,164.36 462.8,165.59 462.6,166.71 462.4,167.73 462.2,168.65 462,169.22 461.8,168.35 461.6,167.4 461.4,166.35 461.2,165.19 461,163.92 460.8,162.54 460.6,160.99 460.4,159.15 460.2,157.3 460,155.46 459.8,154.35 459.6,155.13 459.4,155.88 459.2,156.62 459,157.3 458.8,158.15 458.6,159.1 458.4,160.17 458.2,161.34 458,162.62 457.8,163.98 457.6,164.34 457.4,162.95 457.2,161.65 457,160.45 456.8,159.36 456.6,158.37 456.4,157.5 456.2,156.81 456,156.07 455.8,155.32 455.6,154.55 455.4,155.01 455.2,156.84 455,158.69 454.8,160.54 454.6,162.18 454.4,163.59 454.2,164.88 454,166.07 453.8,167.14 453.6,168.12 453.4,169.01 453.2,168.87 453,167.96 452.8,166.97 452.6,165.88 452.4,164.67 452.2,163.36 452,161.93 451.8,160.23 451.6,158.38 451.4,156.53 451.2,154.71 451,154.68 450.8,155.44 450.6,156.19 450.4,156.93 450.2,157.64 450,158.53 449.8,159.53 449.6,160.64 449.4,161.86 449.2,163.18 449,164.58 448.8,163.75 448.6,162.4 448.4,161.14 448.2,159.98 448,158.93 447.8,158 447.6,157.18 447.4,156.5 447.2,155.75 447,155 446.8,154.22 446.6,155.77 446.4,157.61 446.2,159.46 446,161.27 445.8,162.78 445.6,164.14 445.4,165.39 445.2,166.53 445,167.56 444.8,168.5 444.6,169.36 444.4,168.5 444.2,167.56 444,166.53 443.8,165.39 443.6,164.14 443.4,162.78 443.2,161.27 443,159.46 442.8,157.61 442.6,155.77 442.4,154.22 442.2,155 442,155.75 441.8,156.5 441.6,157.18 441.4,158 441.2,158.93 441,159.98 440.8,161.14 440.6,162.4 440.4,163.75 440.2,164.58 440,163.18 439.8,161.86 439.6,160.64 439.4,159.53 439.2,158.53 439,157.64 438.8,156.93 438.6,156.19 438.4,155.44 438.2,154.68 438,154.71 437.8,156.53 437.6,158.38 437.4,160.23 437.2,161.93 437,163.36 436.8,164.67 436.6,165.88 436.4,166.97 436.2,167.96 436,168.87 435.8,169.01 435.6,168.12 435.4,167.14 435.2,166.07 435,164.88 434.8,163.59 434.6,162.18 434.4,160.54 434.2,158.69 434,156.84 433.8,155.01 433.6,154.55 433.4,155.32 433.2,156.07 433,156.81 432.8,157.5 432.6,158.37 432.4,159.36 432.2,160.45 432,161.65 431.8,162.95 431.6,164.34 431.4,163.98 431.2,162.62 431,161.34 430.8,160.17 430.6,159.1 430.4,158.15 430.2,157.3 430,156.62 429.8,155.88 429.6,155.13 429.4,154.35 429.2,155.46 429,157.3 428.8,159.15 428.6,160.99 428.4,162.54 428.2,163.92 428,165.19 427.8,166.35 427.6,167.4 427.4,168.35 427.2,169.22 427,168.65 426.8,167.73 426.6,166.71 426.4,165.59 426.2,164.36 426,163.01 425.8,161.55 425.6,159.77 425.4,157.92 425.2,156.07 425,154.25 424.8,154.87 424.6,155.63 424.4,156.38 424.2,157.08 424,157.85 423.8,158.77 423.6,159.8 423.4,160.94 423.2,162.18 423,163.52 422.8,164.82 422.6,163.41 422.4,162.08 422.2,160.84 422,159.71 421.8,158.69 421.6,157.78 421.4,157.03 421.2,156.31 421,155.57 420.8,154.81 420.6,154.4 420.4,156.23 420.2,158.07 420,159.92 419.8,161.69 419.6,163.13 419.4,164.46 419.2,165.68 419,166.8 418.8,167.81 418.6,168.72 418.4,169.15 418.2,168.28 418,167.31 417.8,166.25 417.6,165.09 417.4,163.81 417.2,162.42 417,160.85 416.8,159 416.6,157.15 416.4,155.31 416.2,154.42 416,155.19 415.8,155.94 415.6,156.69 415.4,157.37 415.2,158.22 415,159.18 414.8,160.26 414.6,161.45 414.4,162.73 414.2,164.1 414,164.22 413.8,162.84 413.6,161.55 413.4,160.36 413.2,159.27 413,158.3 412.8,157.43 412.6,156.75 412.4,156 412.2,155.25 412,154.48 411.8,155.16 411.6,156.99 411.4,158.84 411.2,160.7 411,162.3 410.8,163.7 410.6,164.99 410.4,166.16 410.2,167.23 410,168.2 409.8,169.08 409.6,168.8 409.4,167.89 409.2,166.88 409,165.78 408.8,164.57 408.6,163.24 408.4,161.81 408.2,160.08 408,158.23 407.8,156.38 407.6,154.55 407.4,154.74 407.2,155.5 407,156.25 406.8,156.98 406.6,157.71 406.4,158.61 406.2,159.62 406,160.74 405.8,161.97 405.6,163.29 405.4,164.7 405.2,163.64 405,162.29 404.8,161.04 404.6,159.89 404.4,158.85 404.2,157.92 404,157.13 403.8,156.44 403.6,155.69 403.4,154.94 403.2,154.16 403,155.92 402.8,157.76 402.6,159.62 402.4,161.41 402.2,162.9 402,164.25 401.8,165.49 401.6,166.62 401.4,167.64 401.2,168.58 401,169.29 400.8,168.43 400.6,167.48 400.4,166.44 400.2,165.29 400,164.03 399.8,162.66 399.6,161.13 399.4,159.31 399.2,157.46 399,155.62 398.8,154.29 398.6,155.06 398.4,155.82 398.2,156.56 398,157.24 397.8,158.07 397.6,159.02 397.4,160.07 397.2,161.24 397,162.51 396.8,163.87 396.6,164.46 396.4,163.07 396.2,161.76 396,160.55 395.8,159.44 395.6,158.45 395.4,157.57 395.2,156.87 395,156.13 394.8,155.38 394.6,154.61 394.4,154.86 394.2,156.69 394,158.53 393.8,160.39 393.6,162.06 393.4,163.47 393.2,164.78 393,165.97 392.8,167.06 392.6,168.04 392.4,168.94 392.2,168.94 392,168.04 391.8,167.06 391.6,165.97 391.4,164.78 391.2,163.47 391,162.06 390.8,160.39 390.6,158.53 390.4,156.69 390.2,154.86 390,154.61 389.8,155.38 389.6,156.13 389.4,156.87 389.2,157.57 389,158.45 388.8,159.44 388.6,160.55 388.4,161.76 388.2,163.07 388,164.46 387.8,163.87 387.6,162.51 387.4,161.24 387.2,160.07 387,159.02 386.8,158.07 386.6,157.24 386.4,156.56 386.2,155.82 386,155.06 385.8,154.29 385.6,155.62 385.4,157.46 385.2,159.31 385,161.13 384.8,162.66 384.6,164.03 384.4,165.29 384.2,166.44 384,167.48 383.8,168.43 383.6,169.29 383.4,168.58 383.2,167.64 383,166.62 382.8,165.49 382.6,164.25 382.4,162.9 382.2,161.41 382,159.62 381.8,157.76 381.6,155.92 381.4,154.16 381.2,154.94 381,155.69 380.8,156.44 380.6,157.13 380.4,157.92 380.2,158.85 380,159.89 379.8,161.04 379.6,162.29 379.4,163.64 379.2,164.7 379,163.29 378.8,161.97 378.6,160.74 378.4,159.62 378.2,158.61 378,157.71 377.8,156.98 377.6,156.25 377.4,155.5 377.2,154.74 377,154.55 376.8,156.38 376.6,158.23 376.4,160.08 376.2,161.81 376,163.24 375.8,164.57 375.6,165.78 375.4,166.88 375.2,167.89 375,168.8 374.8,169.08 374.6,168.2 374.4,167.23 374.2,166.16 374,164.99 373.8,163.7 373.6,162.3 373.4,160.7 373.2,158.84 373,156.99 372.8,155.16 372.6,154.48 372.4,155.25 372.2,156 372,156.75 371.8,157.43 371.6,158.3 371.4,159.27 371.2,160.36 371,161.55 370.8,162.84 370.6,164.22 370.4,164.1 370.2,162.73 370,161.45 369.8,160.26 369.6,159.18 369.4,158.22 369.2,157.37 369,156.69 368.8,155.94 368.6,155.19 368.4,154.42 368.2,155.31 368,157.15 367.8,159 367.6,160.85 367.4,162.42 367.2,163.81 367,165.09 366.8,166.25 366.6,167.31 366.4,168.28 366.2,169.15 366,168.72 365.8,167.81 365.6,166.8 365.4,165.68 365.2,164.46 365,163.13 364.8,161.69 364.6,159.92 364.4,158.07 364.2,156.23 364,154.4 363.8,154.81 363.6,155.57 363.4,156.31 363.2,157.03 363,157.78 362.8,158.69 362.6,159.71 362.4,160.84 362.2,162.08 362,163.41 361.8,164.82 361.6,163.52 361.4,162.18 361.2,160.94 361,159.8 360.8,158.77 360.6,157.85 360.4,157.08 360.2,156.38 360,155.63 359.8,154.87 359.6,154.25 359.4,156.07 359.2,157.92 359,159.77 358.8,161.55 358.6,163.01 358.4,164.36 358.2,165.59 358,166.71 357.8,167.73 357.6,168.65 357.4,169.22 357.2,168.35 357,167.4 356.8,166.35 356.6,165.19 356.4,163.92 356.2,162.54 356,160.99 355.8,159.15 355.6,157.3 355.4,155.46 355.2,154.35 355,155.13 354.8,155.88 354.6,156.62 354.4,157.3 354.2,158.15 354,159.1 353.8,160.17 353.6,161.34 353.4,162.62 353.2,163.98 353,164.34 352.8,162.95 352.6,161.65 352.4,160.45 352.2,159.36 352,158.37 351.8,157.5 351.6,156.81 351.4,156.07 351.2,155.32 351,154.55 350.8,155.01 350.6,156.84 350.4,158.69 350.2,160.54 350,162.18 349.8,163.59 349.6,164.88 349.4,166.07 349.2,167.14 349,168.12 348.8,169.01 348.6,168.87 348.4,167.96 348.2,166.97 348,165.88 347.8,164.67 347.6,163.36 347.4,161.93 347.2,160.23 347,158.38 346.8,156.53 346.6,154.71 346.4,154.68 346.2,155.44 346,156.19 345.8,156.93 345.6,157.64 345.4,158.53 345.2,159.53 345,160.64 344.8,161.86 344.6,163.18 344.4,164.58 344.2,163.75 344,162.4 343.8,161.14 343.6,159.98 343.4,158.93 343.2,158 343,157.18 342.8,156.5 342.6,155.75 342.4,155 342.2,154.22 342,155.77 341.8,157.61 341.6,159.46 341.4,161.27 341.2,162.78 341,164.14 340.8,165.39 340.6,166.53 340.4,167.56 340.2,168.5 340,169.36 339.8,168.5 339.6,167.56 339.4,166.53 339.2,165.39 339,164.14 338.8,162.78 338.6,161.27 338.4,159.46 338.2,157.61 338,155.77 337.8,154.22 337.6,155 337.4,155.75 337.2,156.5 337,157.18 336.8,158 336.6,158.93 336.4,159.98 336.2,161.14 336,162.4 335.8,163.75 335.6,164.58 335.4,162.82 335.2,161.16 335,159.62 334.8,158.2 334.6,156.9 334.4,155.72 334.2,154.72 334,153.7 333.8,152.69 333.6,151.67 333.4,151.39 333.2,152.74 333,154.08 332.8,155.4 332.6,156.55 332.4,157.43 332.2,158.19 332,158.83 331.8,159.35 331.6,159.77 331.4,160.1 331.2,159.79 331,158.62 330.8,157.39 330.6,156.09 330.4,154.73 330.2,153.3 330,151.79 329.8,150.14 329.6,148.34 329.4,146.58 329.2,144.86 329,144.18 328.8,144.4 328.6,144.59 328.4,144.76 328.2,144.88 328,145.11 327.8,145.4 327.6,145.74 327.4,146.14 327.2,146.57 327,147.03 326.8,146.36 326.6,145.05 326.4,143.81 326.2,142.66 326,141.6 325.8,140.61 325.6,139.71 325.4,138.92 325.2,138.09 325,137.28 324.8,136.46 324.6,136.66 324.4,137.22 324.2,137.74 324,138.21 323.8,138.5 323.6,138.67 323.4,138.75 323.2,138.75 323,138.66 322.8,138.51 322.6,138.29 322.4,137.45 322.2,136.46 322,135.45 321.8,134.42 321.6,133.36 321.4,132.29 321.2,131.19 321,130.02 320.8,128.85 320.6,127.73 320.4,126.64 320.2,126.28 320,125.92 319.8,125.52 319.6,125.06 319.4,124.57 319.2,124.06 319,123.51 318.8,122.88 318.6,122.17 318.4,121.31 318.2,120.21 318,118.09Z"/>
<path fill="#0070bb" d="M318,115.2 318.2,115.2 318.4,115.2 318.6,115.2 318.8,114.67 319,113.76 319.2,112.81 319.4,111.94 319.6,111.22 319.8,110.6 320,109.87 320.2,109.01 320.4,107.91 320.6,108.18 320.8,108.22 321,108.25 321.2,108.29 321.4,108.74 321.6,109.83 321.8,111.59 322,113.89 322.2,115.2 322.4,115.2 322.6,115.2 322.8,115.2 323,115.2 323.2,112.49 323.4,109.43 323.6,106.79 323.8,104.84 324,103.61 324.2,102.66 324.4,101.55 324.6,100.16 324.8,99.21 325,100.56 325.2,101.4 325.4,102.11 325.6,102.78 325.8,104.29 326,106.78 326.2,110.11 326.4,114.05 326.6,115.2 326.8,115.2 327,115.2 327.2,115.2 327.4,115.13 327.6,110.41 327.8,105.98 328,102.27 328.2,99.58 328.4,97.83 328.6,96.17 328.8,94.15 329,91.44 329.2,90.63 329.4,92.15 329.6,93.13 329.8,93.89 330,94.89 330.2,97.39 330.4,101.8 330.6,107.76 330.8,114.78 331,115.2 331.2,115.2 331.4,115.2 331.6,115.2 331.8,113.41 332,105.84 332.2,99.12 332.4,93.85 332.6,90.42 332.8,88.72 333,86.94 333.2,84.87 333.4,81.75 333.6,83.08 333.8,85.73 334,87.75 334.2,89.41 334.4,91.64 334.6,95.55 334.8,101.25 335,108.31 335.2,115.2 335.4,115.2 335.6,115.2 335.8,115.2 336,115.2 336.2,111.51 336.4,103.75 336.6,96.95 336.8,91.7 337,88.25 337.2,86.16 337.4,83.79 337.6,81.11 337.8,76.82 338,79.44 338.2,81.69 338.4,83.54 338.6,85.15 338.8,87.96 339,92.97 339.2,100.15 339.4,108.79 339.6,115.2 339.8,115.2 340,115.2 340.2,115.2 340.4,115.2 340.6,108.8 340.8,100.18 341,93.03 341.2,88.06 341.4,85.26 341.6,83.68 341.8,81.86 342,79.64 342.2,77.06 342.4,81.33 342.6,84.02 342.8,86.38 343,88.48 343.2,91.91 343.4,97.12 343.6,103.87 343.8,111.55 344,115.2 344.2,115.2 344.4,115.2 344.6,115.2 344.8,115.2 345,108.17 345.2,100.8 345.4,94.7 345.6,90.35 345.8,87.69 346,85.58 346.2,83.02 346.4,79.71 346.6,77.81 346.8,80.89 347,82.84 347.2,84.49 347.4,86.11 347.6,89.81 347.8,95.84 348,103.78 348.2,112.98 348.4,115.2 348.6,115.2 348.8,115.2 349,115.2 349.2,114.64 349.4,105.2 349.6,96.93 349.8,90.56 350,86.68 350.2,84.81 350.4,83.23 350.6,81.28 350.8,78.47 351,79.1 351.2,82.67 351.4,85.31 351.6,87.44 351.8,89.8 352,93.79 352.2,99.66 352.4,106.98 352.6,115.08 352.8,115.2 353,115.2 353.2,115.2 353.4,115.2 353.6,112.98 353.8,105.16 354,98.22 354.2,92.71 354.4,89.01 354.6,86.95 354.8,84.7 355,82.05 355.2,78.09 355.4,79.38 355.6,81.83 355.8,83.71 356,85.28 356.2,87.69 356.4,92.2 356.6,98.95 356.8,107.34 357,115.2 357.2,115.2 357.4,115.2 357.6,115.2 357.8,115.2 358,110.52 358.2,101.74 358.4,94.33 358.6,88.97 358.8,85.84 359,84.26 359.2,82.51 359.4,80.56 359.6,77.18 359.8,80.97 360,83.87 360.2,86.29 360.4,88.38 360.6,91.47 360.8,96.3 361,102.74 361.2,110.18 361.4,115.2 361.6,115.2 361.8,115.2 362,115.2 362.2,115.2 362.4,109.48 362.6,102.13 362.8,95.82 363,91.16 363.2,88.22 363.4,86.13 363.6,83.67 363.8,80.65 364,77.49 364.2,80.79 364.4,82.71 364.6,84.42 364.8,86.01 365,89.32 365.2,94.89 365.4,102.45 365.6,111.35 365.8,115.2 366,115.2 366.2,115.2 366.4,115.2 366.6,115.2 366.8,106.65 367,98.29 367.2,91.73 367.4,87.44 367.6,85.22 367.8,83.66 368,81.75 368.2,79.19 368.4,78.55 368.6,82.37 368.8,85 369,87.21 369.2,89.26 369.4,93.09 369.6,98.75 369.8,105.8 370,113.69 370.2,115.2 370.4,115.2 370.6,115.2 370.8,115.2 371,114.38 371.2,106.41 371.4,99.24 371.6,93.41 371.8,89.58 372,87.39 372.2,85.23 372.4,82.6 372.6,78.92 372.8,78.92 373,81.61 373.2,83.55 373.4,85.1 373.6,87.14 373.8,91.22 374,97.61 374.2,105.95 374.4,115.2 374.6,115.2 374.8,115.2 375,115.2 375.2,115.2 375.4,112.17 375.6,103.16 375.8,95.44 376,89.67 376.2,86.18 376.4,84.58 376.6,82.91 376.8,80.99 377,77.82 377.2,80.34 377.4,83.5 377.6,86 377.8,88.09 378,90.88 378.2,95.36 378.4,101.54 378.6,108.83 378.8,115.2 379,115.2 379.2,115.2 379.4,115.2 379.6,115.2 379.8,110.89 380,103.38 380.2,96.83 380.4,91.84 380.6,88.61 380.8,86.53 381,84.16 381.2,81.4 381.4,77.16 381.6,80.36 381.8,82.43 382,84.21 382.2,85.78 382.4,88.73 382.6,93.86 382.8,101.08 383,109.71 383.2,115.2 383.4,115.2 383.6,115.2 383.8,115.2 384,115.2 384.2,108.07 384.4,99.69 384.6,92.81 384.8,88.1 385,85.52 385.2,83.96 385.4,82.12 385.6,79.8 385.8,77.88 386,81.96 386.2,84.6 386.4,86.89 386.6,88.95 386.8,92.49 387,97.81 387.2,104.6 387.4,112.29 387.6,115.2 387.8,115.2 388,115.2 388.2,115.2 388.4,115.2 388.6,107.63 388.8,100.32 389,94.4 389.2,90.25 389.4,87.76 389.6,85.66 389.8,83.08 390,79.66 390.2,78.4 390.4,81.33 390.6,83.26 390.8,84.87 391,86.55 391.2,90.32 391.4,96.52 391.6,104.57 391.8,113.82 392,115.2 392.2,115.2 392.4,115.2 392.6,115.2 392.8,113.82 393,104.57 393.2,96.52 393.4,90.33 393.6,86.55 393.8,84.87 394,83.27 394.2,81.33 394.4,78.41 394.6,79.67 394.8,83.08 395,85.67 395.2,87.77 395.4,90.26 395.6,94.4 395.8,100.33 396,107.63 396.2,115.2 396.4,115.2 396.6,115.2 396.8,115.2 397,115.2 397.2,112.29 397.4,104.6 397.6,97.81 397.8,92.5 398,88.96 398.2,86.9 398.4,84.62 398.6,81.98 398.8,77.9 399,79.82 399.2,82.13 399.4,83.97 399.6,85.54 399.8,88.12 400,92.82 400.2,99.7 400.4,108.07 400.6,115.2 400.8,115.2 401,115.2 401.2,115.2 401.4,115.2 401.6,109.71 401.8,101.09 402,93.88 402.2,88.75 402.4,85.81 402.6,84.23 402.8,82.46 403,80.39 403.2,77.19 403.4,81.43 403.6,84.19 403.8,86.56 404,88.63 404.2,91.87 404.4,96.85 404.6,103.39 404.8,110.9 405,115.2 405.2,115.2 405.4,115.2 405.6,115.2 405.8,115.2 406,108.84 406.2,101.56 406.4,95.39 406.6,90.91 406.8,88.12 407,86.03 407.2,83.54 407.4,80.39 407.6,77.87 407.8,81.03 408,82.95 408.2,84.63 408.4,86.22 408.6,89.7 408.8,95.47 409,103.18 409.2,112.18 409.4,115.2 409.6,115.2 409.8,115.2 410,115.2 410.2,115.2 410.4,105.97 410.6,97.64 410.8,91.26 411,87.19 411.2,85.15 411.4,83.61 411.6,81.67 411.8,78.99 412,78.98 412.2,82.66 412.4,85.28 412.6,87.44 412.8,89.63 413,93.45 413.2,99.27 413.4,106.43 413.6,114.39 413.8,115.2 414,115.2 414.2,115.2 414.4,115.2 414.6,113.69 414.8,105.82 415,98.79 415.2,93.14 415.4,89.32 415.6,87.27 415.8,85.07 416,82.44 416.2,78.63 416.4,79.27 416.6,81.83 416.8,83.74 417,85.29 417.2,87.51 417.4,91.79 417.6,98.33 417.8,106.67 418,115.2 418.2,115.2 418.4,115.2 418.6,115.2 418.8,115.2 419,111.36 419.2,102.49 419.4,94.94 419.6,89.4 419.8,86.09 420,84.51 420.2,82.8 420.4,80.89 420.6,77.61 420.8,80.75 421,83.77 421.2,86.22 421.4,88.31 421.6,91.24 421.8,95.89 422,102.18 422.2,109.5 422.4,115.2 422.6,115.2 422.8,115.2 423,115.2 423.2,115.2 423.4,110.2 423.6,102.79 423.8,96.37 424,91.56 424.2,88.48 424.4,86.4 424.6,83.99 424.8,81.11 425,77.34 425.2,80.7 425.4,82.65 425.6,84.38 425.8,85.96 426,89.08 426.2,94.42 426.4,101.8 426.6,110.54 426.8,115.2 427,115.2 427.2,115.2 427.4,115.2 427.6,115.2 427.8,107.37 428,99.03 428.2,92.32 428.4,87.83 428.6,85.43 428.8,83.88 429,82.01 429.2,79.57 429.4,78.29 429.6,82.23 429.8,84.87 430,87.11 430.2,89.16 430.4,92.84 430.6,98.31 430.8,105.22 431,112.99 431.2,115.2 431.4,115.2 431.6,115.2 431.8,115.2 432,115.08 432.2,107.04 432.4,99.76 432.6,93.94 432.8,89.97 433,87.63 433.2,85.52 433.4,82.9 433.6,79.36 433.8,78.73 434,81.53 434.2,83.47 434.4,85.04 434.6,86.9 434.8,90.75 435,97.07 435.2,105.28 435.4,114.65 435.6,115.2 435.8,115.2 436,115.2 436.2,115.2 436.4,113 436.6,103.88 436.8,96.01 437,90.04 437.2,86.38 437.4,84.78 437.6,83.15 437.8,81.22 438,78.18 438.2,80.07 438.4,83.35 438.6,85.89 438.8,87.98 439,90.62 439.2,94.92 439.4,100.96 439.6,108.24 439.8,115.2 440,115.2 440.2,115.2 440.4,115.2 440.6,115.2 440.8,111.6 441,104.01 441.2,97.35 441.4,92.21 441.6,88.83 441.8,86.77 442,84.45 442.2,81.8 442.4,77.6 442.6,80.15 442.8,82.34 443,84.15 443.2,85.71 443.4,88.47 443.6,93.38 443.8,100.42 444,108.9 444.2,115.2 444.4,115.2 444.6,115.2 444.8,115.2 445,115.2 445.2,108.9 445.4,100.42 445.6,93.38 445.8,88.47 446,85.71 446.2,84.15 446.4,82.35 446.6,80.15 446.8,77.6 447,81.81 447.2,84.45 447.4,86.77 447.6,88.84 447.8,92.22 448,97.36 448.2,104.02 448.4,111.6 448.6,115.2 448.8,115.2 449,115.2 449.2,115.2 449.4,115.2 449.6,108.25 449.8,100.97 450,94.93 450.2,90.62 450.4,87.99 450.6,85.9 450.8,83.36 451,80.08 451.2,78.2 451.4,81.24 451.6,83.16 451.8,84.8 452,86.39 452.2,90.06 452.4,96.02 452.6,103.89 452.8,113 453,115.2 453.2,115.2 453.4,115.2 453.6,115.2 453.8,114.65 454,105.28 454.2,97.09 454.4,90.77 454.6,86.92 454.8,85.06 455,83.49 455.2,81.56 455.4,78.76 455.6,79.39 455.8,82.93 456,85.54 456.2,87.65 456.4,89.99 456.6,93.95 456.8,99.77 457,107.04 457.2,115.08 457.4,115.2 457.6,115.2 457.8,115.2 458,115.2 458.2,113 458.4,105.23 458.6,98.33 458.8,92.86 459,89.18 459.2,87.13 459.4,84.9 459.6,82.27 459.8,78.33 460,79.6 460.2,82.04 460.4,83.91 460.6,85.46 460.8,87.86 461,92.34 461.2,99.05 461.4,107.38 461.6,115.2 461.8,115.2 462,115.2 462.2,115.2 462.4,115.2 462.6,110.54 462.8,101.81 463,94.44 463.2,89.12 463.4,86 463.6,84.42 463.8,82.69 464,80.74 464.2,77.38 464.4,81.15 464.6,84.03 464.8,86.44 465,88.51 465.2,91.59 465.4,96.4 465.6,102.81 465.8,110.21 466,115.2 466.2,115.2 466.4,115.2 466.6,115.2 466.8,115.2 467,109.51 467.2,102.2 467.4,95.91 467.6,91.28 467.8,88.35 468,86.27 468.2,83.82 468.4,80.81 468.6,77.66 468.8,80.94 469,82.86 469.2,84.56 469.4,86.14 469.6,89.44 469.8,94.98 470,102.51 470.2,111.36 470.4,115.2 470.6,115.2 470.8,115.2 471,115.2 471.2,115.2 471.4,106.69 471.6,98.36 471.8,91.83 472,87.56 472.2,85.34 472.4,83.79 472.6,81.89 472.8,79.34 473,78.7 473.2,82.5 473.4,85.13 473.6,87.32 473.8,89.36 474,93.18 474.2,98.82 474.4,105.84 474.6,113.69 474.8,115.2 475,115.2 475.2,115.2 475.4,115.2 475.6,114.39 475.8,106.45 476,99.3 476.2,93.5 476.4,89.68 476.6,87.5 476.8,85.34 477,82.73 477.2,79.06 477.4,79.06 477.6,81.74 477.8,83.67 478,85.22 478.2,87.25 478.4,91.31 478.6,97.68 478.8,105.99 479,115.2 479.2,115.2 479.4,115.2 479.6,115.2 479.8,115.2 480,112.18 480.2,103.21 480.4,95.51 480.6,89.76 480.8,86.28 481,84.7 481.2,83.03 481.4,81.11 481.6,77.96 481.8,80.47 482,83.61 482.2,86.1 482.4,88.19 482.6,90.97 482.8,95.44 483,101.59 483.2,108.86 483.4,115.2 483.6,115.2 483.8,115.2 484,115.2 484.2,115.2 484.4,110.91 484.6,103.42 484.8,96.89 485,91.93 485.2,88.7 485.4,86.63 485.6,84.27 485.8,81.52 486,77.29 486.2,80.48 486.4,82.55 486.6,84.32 486.8,85.89 487,88.82 487.2,93.93 487.4,101.22 487.6,109.83 487.8,115.2 488,115.2 488.2,115.2 488.4,115.2 488.6,115.2 488.8,108.78 489,101.43 489.2,95.6 489.4,91.82 489.6,89.97 489.8,89.03 490,87.9 490.2,86.42 490.4,85.33 490.6,89 490.8,91.46 491,93.58 491.2,95.48 491.4,98.41 491.6,102.55 491.8,107.62 492,113.15 492.2,115.2 492.4,115.2 492.6,115.2 492.8,115.2 493,115.2 493.2,110.41 493.4,105.97 493.6,102.53 493.8,100.3 494,99.12 494.2,98.23 494.4,97.11 494.6,95.59 494.8,95.31 495,97.28 495.2,98.66 495.4,99.83 495.6,100.99 495.8,103.14 496,106.35 496.2,110.28 496.4,114.58 496.6,115.2 496.8,115.2 497,115.2 497.2,115.2 497.4,114.65 497.6,111.07 497.8,108.13 498,106.04 498.2,104.95 498.4,104.65 498.6,104.42 498.8,104.1 499,103.5 499.2,104.25 499.4,105.62 499.6,106.67 499.8,107.54 500,108.47 500.2,109.78 500.4,111.46 500.6,113.37 500.8,115.2 501,115.2 501.2,115.2 501.4,115.2 501.6,115.2 501.8,114.65 502,113.28 502.2,112.18 502.4,111.44 502.6,111.06 502.8,110.95 503,110.84 503.2,110.7 503.4,110.41 503.6,110.9 503.8,111.39 504,111.8 504.2,112.14 504.4,112.55 504.6,113.12 504.8,113.81 504.8,116.7 504.6,117.32 504.4,117.85 504.2,118.26 504,118.7 503.8,119.16 503.6,119.67 503.4,120.12 503.2,119.9 503,119.72 502.8,119.52 502.6,119.28 502.4,118.98 502.2,118.34 502,117.29 501.8,115.79 501.6,115.2 501.4,115.2 501.2,115.2 501,115.2 500.8,115.2 500.6,117.22 500.4,119.21 500.2,120.63 500,121.87 499.8,122.9 499.6,124.01 499.4,125.18 499.2,126.54 499,127.27 498.8,126.78 498.6,126.37 498.4,125.87 498.2,125.27 498,124.33 497.8,122.68 497.6,119.71 497.4,115.79 497.2,115.2 497,115.2 496.8,115.2 496.6,115.2 496.4,115.87 496.2,120.58 496,124.57 495.8,127.23 495.6,129.16 495.4,130.76 495.2,132.34 495,133.9 494.8,135.72 494.6,135.5 494.4,134.04 494.2,132.73 494,131.36 493.8,129.96 493.6,127.91 493.4,125.1 493.2,120.47 493,115.2 492.8,115.2 492.6,115.2 492.4,115.2 492.2,115.2 492,117.39 491.8,123.42 491.6,128.37 491.4,132.11 491.2,134.67 491,137.21 490.8,139.83 490.6,142.57 490.4,145.91 490.2,145.12 490,143.6 489.8,142.11 489.6,140.41 489.4,138.56 489.2,135.09 489,130.01 488.8,122.08 488.6,115.2 488.4,115.2 488.2,115.2 488,115.2 487.8,115.2 487.6,120.95 487.4,130.29 487.2,137.02 487,141.75 486.8,144.33 486.6,146.82 486.4,149.13 486.2,151.41 486,154.06 485.8,150.35 485.6,147.33 485.4,144.41 485.2,141.5 485,138.67 484.8,134.03 484.6,127.92 484.4,119.8 484.2,115.2 484,115.2 483.8,115.2 483.6,115.2 483.4,115.2 483.2,122.05 483,129.83 482.8,135.21 482.6,139.37 482.4,142.22 482.2,145.14 482,148.07 481.8,151.27 481.6,153.51 481.4,150.79 481.2,148.56 481,146.21 480.8,143.69 480.6,140.76 480.4,135.75 480.2,128.22 480,118.43 479.8,115.2 479.6,115.2 479.4,115.2 479.2,115.2 479,115.2 478.8,125.32 478.6,133.97 478.4,139.1 478.2,142.84 478,145.38 477.8,147.8 477.6,150.06 477.4,152.58 477.2,152.51 477,149.06 476.8,146.11 476.6,143.19 476.4,140.31 476.2,136.8 476,132.08 475.8,124.77 475.6,116.07 475.4,115.2 475.2,115.2 475,115.2 474.8,115.2 474.6,116.82 474.4,125.4 474.2,132.47 474,137.19 473.8,140.54 473.6,143.43 473.4,146.35 473.2,149.31 473,152.82 472.8,152.35 472.6,149.87 472.4,147.61 472.2,145.17 472,142.62 471.8,138.69 471.6,133.26 471.4,124.56 471.2,115.2 471,115.2 470.8,115.2 470.6,115.2 470.4,115.2 470.2,119.31 470,128.94 469.8,136.18 469.6,141.17 469.4,143.91 469.2,146.41 469,148.75 468.8,150.98 468.6,153.74 468.4,150.97 468.2,147.82 468,144.9 467.8,141.98 467.6,139.13 467.4,134.82 467.2,129.19 467,121.3 466.8,115.2 466.6,115.2 466.4,115.2 466.2,115.2 466,115.2 465.8,120.55 465.6,128.56 465.4,134.42 465.2,138.9 465,141.74 464.8,144.66 464.6,147.57 464.4,150.66 464.2,153.97 464,151.18 463.8,148.94 463.6,146.62 463.4,144.12 463.2,141.53 463,136.6 462.8,129.66 462.6,120.19 462.4,115.2 462.2,115.2 462,115.2 461.8,115.2 461.6,115.2 461.4,123.69 461.2,132.54 461,138.27 460.8,142.4 460.6,144.96 460.4,147.41 460.2,149.69 460,152.12 459.8,153.13 459.6,149.56 459.4,146.59 459.2,143.68 459,140.78 458.8,137.59 458.6,132.86 458.4,126.03 458.2,117.56 458,115.2 457.8,115.2 457.6,115.2 457.4,115.2 457.2,115.33 457,124.14 456.8,131.69 456.6,136.4 456.4,140.07 456.2,142.94 456,145.87 455.8,148.81 455.6,152.2 455.4,152.82 455.2,150.24 455,147.99 454.8,145.59 454.6,143.05 454.4,139.52 454.2,134.49 454,126.05 453.8,115.79 453.6,115.2 453.4,115.2 453.2,115.2 453,115.2 452.8,117.55 452.6,127.5 452.4,135.33 452.2,140.35 452,143.48 451.8,146 451.6,148.37 451.4,150.61 451.2,153.28 451,151.58 450.8,148.31 450.6,145.38 450.4,142.46 450.2,139.6 450,135.61 449.8,130.46 449.6,122.8 449.4,115.2 449.2,115.2 449,115.2 448.8,115.2 448.6,115.2 448.4,119.05 448.2,127.29 448,133.64 447.8,138.39 447.6,141.26 447.4,144.17 447.2,147.08 447,150.06 446.8,153.75 446.6,151.65 446.4,149.31 446.2,147.03 446,144.54 445.8,141.97 445.6,137.44 445.4,131.11 445.2,121.94 445,115.2 444.8,115.2 444.6,115.2 444.4,115.2 444.2,115.2 444,121.94 443.8,131.11 443.6,137.44 443.4,141.97 443.2,144.54 443,147.03 442.8,149.31 442.6,151.65 442.4,153.75 442.2,150.06 442,147.08 441.8,144.17 441.6,141.26 441.4,138.39 441.2,133.64 441,127.29 440.8,119.05 440.6,115.2 440.4,115.2 440.2,115.2 440,115.2 439.8,115.2 439.6,122.8 439.4,130.46 439.2,135.61 439,139.6 438.8,142.46 438.6,145.38 438.4,148.31 438.2,151.58 438,153.28 437.8,150.61 437.6,148.37 437.4,146 437.2,143.48 437,140.35 436.8,135.33 436.6,127.5 436.4,117.55 436.2,115.2 436,115.2 435.8,115.2 435.6,115.2 435.4,115.79 435.2,126.05 435,134.49 434.8,139.52 434.6,143.05 434.4,145.59 434.2,147.99 434,150.24 433.8,152.82 433.6,152.2 433.4,148.81 433.2,145.87 433,142.94 432.8,140.07 432.6,136.4 432.4,131.69 432.2,124.14 432,115.33 431.8,115.2 431.6,115.2 431.4,115.2 431.2,115.2 431,117.56 430.8,126.03 430.6,132.86 430.4,137.59 430.2,140.78 430,143.68 429.8,146.59 429.6,149.56 429.4,153.13 429.2,152.12 429,149.69 428.8,147.41 428.6,144.96 428.4,142.4 428.2,138.27 428,132.54 427.8,123.69 427.6,115.2 427.4,115.2 427.2,115.2 427,115.2 426.8,115.2 426.6,120.19 426.4,129.66 426.2,136.6 426,141.53 425.8,144.12 425.6,146.62 425.4,148.94 425.2,151.18 425,153.97 424.8,150.66 424.6,147.57 424.4,144.66 424.2,141.74 424,138.9 423.8,134.42 423.6,128.56 423.4,120.55 423.2,115.2 423,115.2 422.8,115.2 422.6,115.2 422.4,115.2 422.2,121.3 422,129.19 421.8,134.82 421.6,139.13 421.4,141.98 421.2,144.9 421,147.82 420.8,150.97 420.6,153.74 420.4,150.98 420.2,148.75 420,146.41 419.8,143.91 419.6,141.17 419.4,136.18 419.2,128.94 419,119.31 418.8,115.2 418.6,115.2 418.4,115.2 418.2,115.2 418,115.2 417.8,124.56 417.6,133.26 417.4,138.69 417.2,142.62 417,145.17 416.8,147.61 416.6,149.87 416.4,152.35 416.2,152.82 416,149.31 415.8,146.35 415.6,143.43 415.4,140.54 415.2,137.19 415,132.47 414.8,125.4 414.6,116.82 414.4,115.2 414.2,115.2 414,115.2 413.8,115.2 413.6,116.07 413.4,124.77 413.2,132.08 413,136.8 412.8,140.31 412.6,143.19 412.4,146.11 412.2,149.06 412,152.51 411.8,152.58 411.6,150.06 411.4,147.8 411.2,145.38 411,142.84 410.8,139.1 410.6,133.97 410.4,125.32 410.2,115.2 410,115.2 409.8,115.2 409.6,115.2 409.4,115.2 409.2,118.43 409,128.22 408.8,135.75 408.6,140.76 408.4,143.69 408.2,146.21 408,148.56 407.8,150.79 407.6,153.51 407.4,151.27 407.2,148.07 407,145.14 406.8,142.22 406.6,139.37 406.4,135.21 406.2,129.83 406,122.05 405.8,115.2 405.6,115.2 405.4,115.2 405.2,115.2 405,115.2 404.8,119.8 404.6,127.92 404.4,134.03 404.2,138.67 404,141.5 403.8,144.41 403.6,147.33 403.4,150.35 403.2,154.06 403,151.41 402.8,149.13 402.6,146.82 402.4,144.33 402.2,141.75 402,137.02 401.8,130.39 401.6,121.06 401.4,115.2 401.2,115.2 401,115.2 400.8,115.2 400.6,115.2 400.4,122.82 400.2,131.82 400,137.85 399.8,142.19 399.6,144.75 399.4,147.22 399.2,149.5 399,151.88 398.8,153.44 398.6,149.81 398.4,146.84 398.2,143.92 398,141.02 397.8,137.99 397.6,133.25 397.4,126.66 397.2,118.31 397,115.2 396.8,115.2 396.6,115.2 396.4,115.2 396.2,115.2 396,123.51 395.8,131.1 395.6,136 395.4,139.83 395.2,142.7 395,145.63 394.8,148.56 394.6,151.89 394.4,153.05 394.2,150.43 394,148.18 393.8,145.79 393.6,143.27 393.4,139.93 393.2,134.91 393,126.77 392.8,116.67 392.6,115.2 392.4,115.2 392.2,115.2 392,115.2 391.8,116.67 391.6,126.77 391.4,134.91 391.2,139.93 391,143.27 390.8,145.79 390.6,148.18 390.4,150.43 390.2,153.05 390,151.89 389.8,148.56 389.6,145.63 389.4,142.7 389.2,139.83 389,136 388.8,131.1 388.6,123.51 388.4,115.2 388.2,115.2 388,115.2 387.8,115.2 387.6,115.2 387.4,118.31 387.2,126.66 387,133.25 386.8,137.99 386.6,141.02 386.4,143.92 386.2,146.84 386,149.81 385.8,153.44 385.6,151.88 385.4,149.5 385.2,147.22 385,144.75 384.8,142.19 384.6,137.85 384.4,131.82 384.2,122.82 384,115.2 383.8,115.2 383.6,115.2 383.4,115.2 383.2,115.2 383,121.06 382.8,130.39 382.6,137.02 382.4,141.75 382.2,144.33 382,146.82 381.8,149.13 381.6,151.41 381.4,154.06 381.2,150.35 381,147.33 380.8,144.41 380.6,141.5 380.4,138.67 380.2,134.03 380,127.92 379.8,119.8 379.6,115.2 379.4,115.2 379.2,115.2 379,115.2 378.8,115.2 378.6,122.05 378.4,129.83 378.2,135.21 378,139.37 377.8,142.22 377.6,145.14 377.4,148.07 377.2,151.27 377,153.51 376.8,150.79 376.6,148.56 376.4,146.21 376.2,143.69 376,140.76 375.8,135.75 375.6,128.22 375.4,118.43 375.2,115.2 375,115.2 374.8,115.2 374.6,115.2 374.4,115.2 374.2,125.32 374,133.97 373.8,139.1 373.6,142.84 373.4,145.38 373.2,147.8 373,150.06 372.8,152.58 372.6,152.51 372.4,149.06 372.2,146.11 372,143.19 371.8,140.31 371.6,136.8 371.4,132.08 371.2,124.77 371,116.07 370.8,115.2 370.6,115.2 370.4,115.2 370.2,115.2 370,116.82 369.8,125.4 369.6,132.47 369.4,137.19 369.2,140.54 369,143.43 368.8,146.35 368.6,149.31 368.4,152.82 368.2,152.35 368,149.87 367.8,147.61 367.6,145.17 367.4,142.62 367.2,138.69 367,133.26 366.8,124.56 366.6,115.2 366.4,115.2 366.2,115.2 366,115.2 365.8,115.2 365.6,119.31 365.4,128.94 365.2,136.18 365,141.17 364.8,143.91 364.6,146.41 364.4,148.75 364.2,150.98 364,153.74 363.8,150.97 363.6,147.82 363.4,144.9 363.2,141.98 363,139.13 362.8,134.82 362.6,129.19 362.4,121.3 362.2,115.2 362,115.2 361.8,115.2 361.6,115.2 361.4,115.2 361.2,120.55 361,128.56 360.8,134.42 360.6,138.9 360.4,141.74 360.2,144.66 360,147.57 359.8,150.66 359.6,153.97 359.4,151.18 359.2,148.94 359,146.62 358.8,144.12 358.6,141.53 358.4,136.6 358.2,129.66 358,120.19 357.8,115.2 357.6,115.2 357.4,115.2 357.2,115.2 357,115.2 356.8,123.69 356.6,132.54 356.4,138.27 356.2,142.4 356,144.96 355.8,147.41 355.6,149.69 355.4,152.12 355.2,153.13 355,149.56 354.8,146.59 354.6,143.68 354.4,140.78 354.2,137.59 354,132.86 353.8,126.03 353.6,117.56 353.4,115.2 353.2,115.2 353,115.2 352.8,115.2 352.6,115.33 352.4,124.14 352.2,131.69 352,136.4 351.8,140.07 351.6,142.94 351.4,145.87 351.2,148.81 351,152.2 350.8,152.82 350.6,150.24 350.4,147.99 350.2,145.59 350,143.05 349.8,139.52 349.6,134.49 349.4,126.05 349.2,115.79 349,115.2 348.8,115.2 348.6,115.2 348.4,115.2 348.2,117.55 348,127.5 347.8,135.33 347.6,140.35 347.4,143.48 347.2,146 347,148.37 346.8,150.61 346.6,153.28 346.4,151.58 346.2,148.31 346,145.38 345.8,142.46 345.6,139.6 345.4,135.61 345.2,130.46 345,122.8 344.8,115.2 344.6,115.2 344.4,115.2 344.2,115.2 344,115.2 343.8,119.05 343.6,127.29 343.4,133.64 343.2,138.39 343,141.26 342.8,144.17 342.6,147.08 342.4,150.06 342.2,153.75 342,151.65 341.8,149.31 341.6,147.03 341.4,144.54 341.2,141.97 341,137.44 340.8,131.11 340.6,121.94 340.4,115.2 340.2,115.2 340,115.2 339.8,115.2 339.6,115.2 339.4,121.94 339.2,131.11 339,137.44 338.8,141.97 338.6,144.54 338.4,147.03 338.2,149.31 338,151.65 337.8,153.75 337.6,150.06 337.4,147.08 337.2,144.17 337,141.26 336.8,138.39 336.6,133.64 336.4,127.29 336.2,119.05 336,115.2 335.8,115.2 335.6,115.2 335.4,115.2 335.2,115.2 335,122.62 334.8,130 334.6,134.84 334.4,138.49 334.2,141.02 334,143.55 333.8,146.05 333.6,148.81 333.4,150.08 333.2,147.36 333,145.07 332.8,142.69 332.6,140.22 332.4,137.25 332.2,132.69 332,125.79 331.8,117.21 331.6,115.2 331.4,115.2 331.2,115.2 331,115.2 330.8,115.68 330.6,123.92 330.4,130.54 330.2,134.35 330,136.89 329.8,138.61 329.6,140.19 329.4,141.61 329.2,143.23 329,142.45 328.8,139.66 328.6,137.25 328.4,134.91 328.2,132.65 328,129.89 327.8,126.48 327.6,121.23 327.4,115.28 327.2,115.2 327,115.2 326.8,115.2 326.6,115.2 326.4,116.66 326.2,121.81 326,125.82 325.8,128.45 325.6,130.09 325.4,131.5 325.2,132.87 325,134.2 324.8,135.8 324.6,134.88 324.4,133.24 324.2,131.72 324,130.16 323.8,128.59 323.6,126.31 323.4,123.37 323.2,119.11 323,115.2 322.8,115.2 322.6,115.2 322.4,115.2 322.2,115.2 322,117.16 321.8,120.72 321.6,123.11 321.4,124.61 321.2,125.18 321,125.64 320.8,125.98 320.6,126.23 320.4,126.56 320.2,125.1 320,123.78 319.8,122.58 319.6,121.45 319.4,120.41 319.2,119.11 319,117.69 318.8,116.1 318.6,115.2 318.4,115.2 318.2,115.2 318,115.2Z"/>
<path fill="#0a76c0" fill-opacity="0.65" d="M336.97,88L337.82,44.29L338.67,88ZM336.97,150L337.82,163L338.67,150ZM341.33,88L342.18,31.3L343.03,88ZM341.33,150L342.18,172.5L343.03,150ZM345.69,88L346.54,45.14L347.39,88ZM345.69,150L346.54,163L347.39,150ZM350.05,88L350.9,31.86L351.75,88ZM350.05,150L350.9,172.5L351.75,150ZM354.4,88L355.25,45.5L356.1,88ZM354.4,150L355.25,163L356.1,150ZM358.76,88L359.61,32.1L360.46,88ZM358.76,150L359.61,172.5L360.46,150ZM363.12,88L363.97,45.67L364.82,88ZM363.12,150L363.97,163L364.82,150ZM367.48,88L368.33,32.22L369.18,88ZM367.48,150L368.33,172.5L369.18,150ZM371.84,88L372.69,45.75L373.54,88ZM371.84,150L372.69,163L373.54,150ZM376.2,88L377.05,32.28L377.9,88ZM376.2,150L377.05,172.5L377.9,150ZM380.55,88L381.4,45.8L382.25,88ZM380.55,150L381.4,163L382.25,150ZM384.91,88L385.76,32.32L386.61,88ZM384.91,150L385.76,172.5L386.61,150ZM389.27,88L390.12,45.84L390.97,88ZM389.27,150L390.12,163L390.97,150ZM393.63,88L394.48,32.35L395.33,88ZM393.63,150L394.48,172.5L395.33,150ZM397.99,88L398.84,45.86L399.69,88ZM397.99,150L398.84,163L399.69,150ZM402.35,88L403.2,32.38L404.05,88ZM402.35,150L403.2,172.5L404.05,150ZM406.7,88L407.55,45.89L408.4,88ZM406.7,150L407.55,163L408.4,150ZM411.06,88L411.91,32.4L412.76,88ZM411.06,150L411.91,172.5L412.76,150ZM415.42,88L416.27,45.91L417.12,88ZM415.42,150L416.27,163L417.12,150ZM419.78,88L420.63,32.42L421.48,88ZM419.78,150L420.63,172.5L421.48,150ZM424.14,88L424.99,45.94L425.84,88ZM424.14,150L424.99,163L425.84,150ZM428.5,88L429.35,32.45L430.2,88ZM428.5,150L429.35,172.5L430.2,150ZM432.85,88L433.7,45.96L434.55,88ZM432.85,150L433.7,163L434.55,150ZM437.21,88L438.06,32.47L438.91,88ZM437.21,150L438.06,172.5L438.91,150ZM441.57,88L442.42,45.98L443.27,88ZM441.57,150L442.42,163L443.27,150ZM445.93,88L446.78,32.49L447.63,88ZM445.93,150L446.78,172.5L447.63,150ZM450.29,88L451.14,46L451.99,88ZM450.29,150L451.14,163L451.99,150ZM454.65,88L455.5,32.52L456.35,88ZM454.65,150L455.5,172.5L456.35,150ZM459,88L459.85,46.03L460.7,88ZM459,150L459.85,163L460.7,150ZM463.36,88L464.21,32.54L465.06,88ZM463.36,150L464.21,172.5L465.06,150ZM467.72,88L468.57,46.05L469.42,88ZM467.72,150L468.57,163L469.42,150ZM472.08,88L472.93,32.56L473.78,88ZM472.08,150L472.93,172.5L473.78,150ZM476.44,88L477.29,46.07L478.14,88ZM476.44,150L477.29,163L478.14,150ZM480.8,88L481.65,32.59L482.5,88ZM480.8,150L481.65,172.5L482.5,150Z"/>
<path fill="#8fc0e4" fill-opacity="0.85" d="M322.02,116L322.57,110.5L323.12,116L322.57,121.5ZM326.38,116L326.93,112.5L327.48,116L326.93,119.5ZM330.73,116L331.28,110.5L331.83,116L331.28,121.5ZM335.09,116L335.64,112.5L336.19,116L335.64,119.5ZM339.45,116L340,110.5L340.55,116L340,121.5ZM343.81,116L344.36,112.5L344.91,116L344.36,119.5ZM348.17,116L348.72,110.5L349.27,116L348.72,121.5ZM352.52,116L353.07,112.5L353.62,116L353.07,119.5ZM356.88,116L357.43,110.5L357.98,116L357.43,121.5ZM361.24,116L361.79,112.5L362.34,116L361.79,119.5ZM365.6,116L366.15,110.5L366.7,116L366.15,121.5ZM369.96,116L370.51,112.5L371.06,116L370.51,119.5ZM374.32,116L374.87,110.5L375.42,116L374.87,121.5ZM378.68,116L379.23,112.5L379.78,116L379.23,119.5ZM383.03,116L383.58,110.5L384.13,116L383.58,121.5ZM387.39,116L387.94,112.5L388.49,116L387.94,119.5ZM391.75,116L392.3,110.5L392.85,116L392.3,121.5ZM396.11,116L396.66,112.5L397.21,116L396.66,119.5ZM400.47,116L401.02,110.5L401.57,116L401.02,121.5ZM404.82,116L405.38,112.5L405.93,116L405.38,119.5ZM409.18,116L409.73,110.5L410.28,116L409.73,121.5ZM413.54,116L414.09,112.5L414.64,116L414.09,119.5ZM417.9,116L418.45,110.5L419,116L418.45,121.5ZM422.26,116L422.81,112.5L423.36,116L422.81,119.5ZM426.62,116L427.17,110.5L427.72,116L427.17,121.5ZM430.97,116L431.52,112.5L432.07,116L431.52,119.5ZM435.33,116L435.88,110.5L436.43,116L435.88,121.5ZM439.69,116L440.24,112.5L440.79,116L440.24,119.5ZM444.05,116L444.6,110.5L445.15,116L444.6,121.5ZM448.41,116L448.96,112.5L449.51,116L448.96,119.5ZM452.77,116L453.32,110.5L453.87,116L453.32,121.5ZM457.12,116L457.68,112.5L458.23,116L457.68,119.5ZM461.48,116L462.03,110.5L462.58,116L462.03,121.5ZM465.84,116L466.39,112.5L466.94,116L466.39,119.5ZM470.2,116L470.75,110.5L471.3,116L470.75,121.5ZM474.56,116L475.11,112.5L475.66,116L475.11,119.5ZM478.92,116L479.47,110.5L480.02,116L479.47,121.5ZM483.27,116L483.82,112.5L484.38,116L483.82,119.5ZM487.63,116L488.18,110.5L488.73,116L488.18,121.5ZM491.99,116L492.54,112.5L493.09,116L492.54,119.5ZM496.35,116L496.9,110.5L497.45,116L496.9,121.5Z"/>
</g>
<g id="axes-right">
<rect x="317.7" y="25.5" width="218.7" height="160.55" fill="none" stroke="#262626" stroke-width="0.7"/>
<text class="t" x="317.7" y="201.5" font-size="10" text-anchor="middle" fill="#262626" textLength="5.84" lengthAdjust="spacingAndGlyphs">0</text>
<text class="t" x="361.44" y="201.5" font-size="10" text-anchor="middle" fill="#262626" textLength="5.84" lengthAdjust="spacingAndGlyphs">5</text>
<text class="t" x="405.18" y="201.5" font-size="10" text-anchor="middle" fill="#262626" textLength="11.68" lengthAdjust="spacingAndGlyphs">10</text>
<text class="t" x="448.92" y="201.5" font-size="10" text-anchor="middle" fill="#262626" textLength="11.68" lengthAdjust="spacingAndGlyphs">15</text>
<text class="t" x="492.66" y="201.5" font-size="10" text-anchor="middle" fill="#262626" textLength="11.68" lengthAdjust="spacingAndGlyphs">20</text>
<text class="t" x="536.4" y="201.5" font-size="10" text-anchor="middle" fill="#262626" textLength="11.68" lengthAdjust="spacingAndGlyphs">25</text>
<text class="t" x="314.1" y="190.05" font-size="10" text-anchor="end" fill="#262626" textLength="5.84" lengthAdjust="spacingAndGlyphs">0</text>
<text class="t" x="314.1" y="136.53" font-size="10" text-anchor="end" fill="#262626" textLength="5.84" lengthAdjust="spacingAndGlyphs">5</text>
<text class="t" x="314.1" y="83.02" font-size="10" text-anchor="end" fill="#262626" textLength="11.68" lengthAdjust="spacingAndGlyphs">10</text>
<text class="t" x="314.1" y="29.5" font-size="10" text-anchor="end" fill="#262626" textLength="11.68" lengthAdjust="spacingAndGlyphs">15</text>
<path d="M317.7,186.05v-2.1M317.7,25.5v2.1M361.44,186.05v-2.1M361.44,25.5v2.1M405.18,186.05v-2.1M405.18,25.5v2.1M448.92,186.05v-2.1M448.92,25.5v2.1M492.66,186.05v-2.1M492.66,25.5v2.1M536.4,186.05v-2.1M536.4,25.5v2.1M317.7,186.05h2.1M536.4,186.05h-2.1M317.7,132.53h2.1M536.4,132.53h-2.1M317.7,79.02h2.1M536.4,79.02h-2.1M317.7,25.5h2.1M536.4,25.5h-2.1" stroke="#262626" stroke-width="0.7" fill="none"/>
<text x="427.05" y="19.9" font-size="11" text-anchor="middle" font-weight="bold" fill="#000" textLength="171.6" lengthAdjust="spacingAndGlyphs">Test results: 10 N, 8 Hz - Force</text>
<text class="t" x="427.05" y="216.1" font-size="11" text-anchor="middle" fill="#262626" textLength="40.5" lengthAdjust="spacingAndGlyphs">Time [s]</text>
<text class="t" x="297.7" y="105.88" font-size="11" text-anchor="middle" fill="#262626" textLength="48.4" lengthAdjust="spacingAndGlyphs" transform="rotate(-90 297.7 105.88)">Force [N]</text>
</g>
<text class="cap" x="137.9" y="238" font-size="13.3" text-anchor="middle" fill="#000">(<tspan font-weight="bold">a</tspan>)</text>
<text class="cap" x="420.3" y="238" font-size="13.3" text-anchor="middle" fill="#000">(<tspan font-weight="bold">b</tspan>)</text>
</svg>
</body></html>
